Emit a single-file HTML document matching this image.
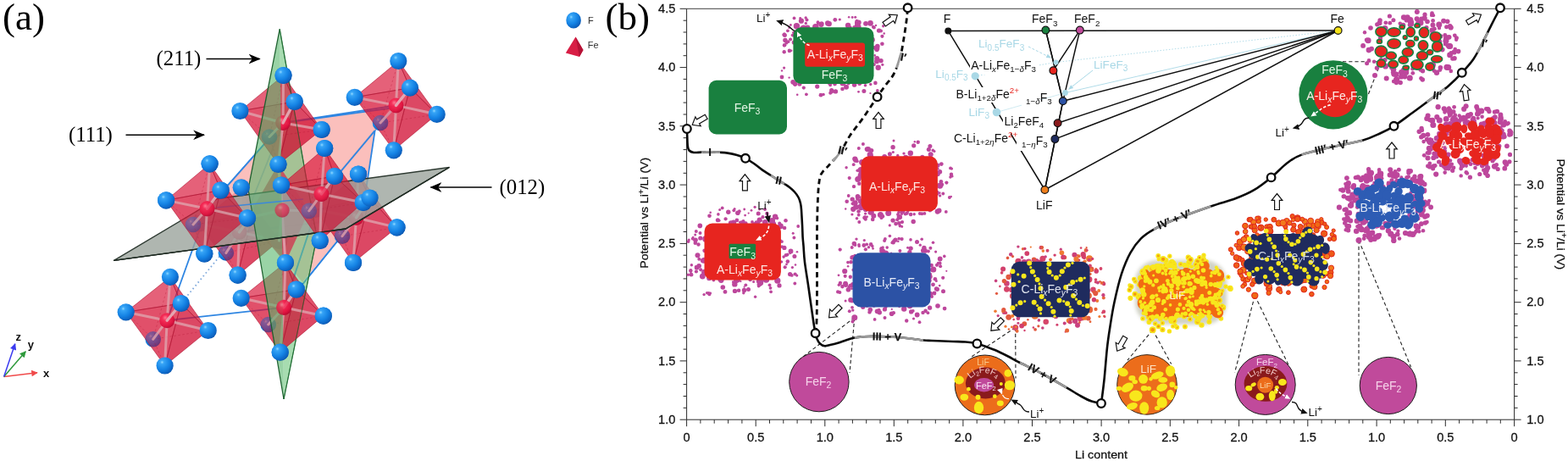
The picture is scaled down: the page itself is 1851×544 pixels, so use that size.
<!DOCTYPE html>
<html lang="en"><head><meta charset="utf-8"><title>FeF3 structure and lithiation</title>
<style>html,body{margin:0;padding:0;background:#fff;}body{width:1851px;height:544px;overflow:hidden;}svg{display:block;}text{font-family:"Liberation Sans",sans-serif;}.sf{font-family:"Liberation Serif",serif;}</style></head><body>
<svg width="1851" height="544" viewBox="0 0 1851 544">
<rect width="1851" height="544" fill="#fff"/>
<defs><radialGradient id="gF" cx="0.34" cy="0.3" r="0.8"><stop offset="0" stop-color="#8fd8ff"/><stop offset="0.14" stop-color="#36a4f6"/><stop offset="0.55" stop-color="#1482e4"/><stop offset="0.85" stop-color="#0d62c0"/><stop offset="1" stop-color="#0a4c9e"/></radialGradient><radialGradient id="gFe" cx="0.38" cy="0.32" r="0.75"><stop offset="0" stop-color="#ff7d96"/><stop offset="0.25" stop-color="#f52a55"/><stop offset="0.7" stop-color="#e1123f"/><stop offset="1" stop-color="#b2062e"/></radialGradient><marker id="ahs" viewBox="0 0 12 10" refX="11" refY="5" markerWidth="14" markerHeight="12" markerUnits="userSpaceOnUse" orient="auto"><path d="M0,0 L12,5 L0,10 L3.5,5 Z" fill="#000"/></marker></defs>
<g stroke="#2f86e2" stroke-width="1.8" fill="none">
<path d="M197.2,378.2 L335.1,362.8"/>
<path d="M197.2,378.2 L244.5,246.3"/>
<path d="M335.1,362.8 L379.5,229.0"/>
<path d="M335.1,362.8 L420.5,257.0"/>
<path d="M244.5,246.3 L379.5,229.0"/>
<path d="M244.5,246.3 L334.1,145.0"/>
<path d="M379.5,229.0 L467.5,124.4"/>
<path d="M334.1,145.0 L467.5,124.4"/>
<path d="M282.5,274.0 L420.5,257.0"/>
<path d="M282.5,274.0 L334.1,145.0"/>
<path d="M197.2,378.2 L282.5,274.0" stroke-dasharray="1.6 3.2" stroke="#7fa9dc"/>
</g>
<polygon points="200.9,326.8 245.7,390.0 194.6,431.5 148.7,368.3" fill="#d61033" fill-opacity="0.46"/>
<circle cx="180.7" cy="400.3" r="9.3" fill="url(#gF)" opacity="1"/>
<polygon points="200.9,326.8 213.8,358.0 148.7,368.3" fill="#dc1f42" fill-opacity="0.42000000000000004" stroke="#a80f2e" stroke-width="0.7" stroke-opacity="0.75" stroke-linejoin="round"/>
<polygon points="200.9,326.8 213.8,358.0 245.7,390.0" fill="#d61033" fill-opacity="0.48000000000000004" stroke="#a80f2e" stroke-width="0.7" stroke-opacity="0.75" stroke-linejoin="round"/>
<polygon points="194.6,431.5 213.8,358.0 148.7,368.3" fill="#d61033" fill-opacity="0.5" stroke="#a80f2e" stroke-width="0.7" stroke-opacity="0.75" stroke-linejoin="round"/>
<polygon points="194.6,431.5 213.8,358.0 245.7,390.0" fill="#cf0c30" fill-opacity="0.54" stroke="#a80f2e" stroke-width="0.7" stroke-opacity="0.75" stroke-linejoin="round"/>
<path d="M180.7,400.3 L200.9,326.8 M180.7,400.3 L148.7,368.3 M180.7,400.3 L245.7,390.0 M180.7,400.3 L194.6,431.5" stroke="#b0102f" stroke-width="0.7" stroke-dasharray="2.5 2.5" opacity="0.45" fill="none"/>
<path d="M197.2,378.2 L200.9,326.8" stroke="#e0a3ad" stroke-width="3.0" stroke-linecap="round" opacity="0.8"/>
<path d="M197.2,378.2 L148.7,368.3" stroke="#e0a3ad" stroke-width="3.0" stroke-linecap="round" opacity="0.8"/>
<path d="M197.2,378.2 L245.7,390.0" stroke="#e0a3ad" stroke-width="3.0" stroke-linecap="round" opacity="0.8"/>
<path d="M197.2,378.2 L194.6,431.5" stroke="#e0a3ad" stroke-width="3.0" stroke-linecap="round" opacity="0.8"/>
<path d="M197.2,378.2 L180.7,400.3" stroke="#e0a3ad" stroke-width="3.0" stroke-linecap="round" opacity="0.8"/>
<circle cx="197.2" cy="378.2" r="9.0" fill="url(#gFe)" opacity="0.95"/>
<path d="M197.2,378.2 L213.8,358.0" stroke="#e6b0ba" stroke-width="3.3" stroke-linecap="round" opacity="0.9"/>
<circle cx="200.9" cy="326.8" r="10.1" fill="url(#gF)" opacity="1"/>
<circle cx="148.7" cy="368.3" r="10.1" fill="url(#gF)" opacity="1"/>
<circle cx="245.7" cy="390.0" r="10.1" fill="url(#gF)" opacity="1"/>
<circle cx="194.6" cy="431.5" r="10.1" fill="url(#gF)" opacity="1"/>
<circle cx="213.8" cy="358.0" r="10.1" fill="url(#gF)" opacity="1"/>
<polygon points="284.8,221.3 329.5,284.0 280.6,324.7 234.0,264.0" fill="#d61033" fill-opacity="0.46"/>
<circle cx="266.9" cy="298.5" r="9.3" fill="url(#gF)" opacity="1"/>
<polygon points="284.8,221.3 298.5,252.0 234.0,264.0" fill="#dc1f42" fill-opacity="0.42000000000000004" stroke="#a80f2e" stroke-width="0.7" stroke-opacity="0.75" stroke-linejoin="round"/>
<polygon points="284.8,221.3 298.5,252.0 329.5,284.0" fill="#d61033" fill-opacity="0.48000000000000004" stroke="#a80f2e" stroke-width="0.7" stroke-opacity="0.75" stroke-linejoin="round"/>
<polygon points="280.6,324.7 298.5,252.0 234.0,264.0" fill="#d61033" fill-opacity="0.5" stroke="#a80f2e" stroke-width="0.7" stroke-opacity="0.75" stroke-linejoin="round"/>
<polygon points="280.6,324.7 298.5,252.0 329.5,284.0" fill="#cf0c30" fill-opacity="0.54" stroke="#a80f2e" stroke-width="0.7" stroke-opacity="0.75" stroke-linejoin="round"/>
<path d="M266.9,298.5 L284.8,221.3 M266.9,298.5 L234.0,264.0 M266.9,298.5 L329.5,284.0 M266.9,298.5 L280.6,324.7" stroke="#b0102f" stroke-width="0.7" stroke-dasharray="2.5 2.5" opacity="0.45" fill="none"/>
<path d="M282.5,274.0 L284.8,221.3" stroke="#e0a3ad" stroke-width="3.0" stroke-linecap="round" opacity="0.8"/>
<path d="M282.5,274.0 L234.0,264.0" stroke="#e0a3ad" stroke-width="3.0" stroke-linecap="round" opacity="0.8"/>
<path d="M282.5,274.0 L329.5,284.0" stroke="#e0a3ad" stroke-width="3.0" stroke-linecap="round" opacity="0.8"/>
<path d="M282.5,274.0 L280.6,324.7" stroke="#e0a3ad" stroke-width="3.0" stroke-linecap="round" opacity="0.8"/>
<path d="M282.5,274.0 L266.9,298.5" stroke="#e0a3ad" stroke-width="3.0" stroke-linecap="round" opacity="0.8"/>
<circle cx="282.5" cy="274.0" r="9.0" fill="url(#gFe)" opacity="0.95"/>
<path d="M282.5,274.0 L298.5,252.0" stroke="#e6b0ba" stroke-width="3.3" stroke-linecap="round" opacity="0.9"/>
<circle cx="284.8" cy="221.3" r="10.1" fill="url(#gF)" opacity="1"/>
<circle cx="234.0" cy="264.0" r="10.1" fill="url(#gF)" opacity="1"/>
<circle cx="329.5" cy="284.0" r="10.1" fill="url(#gF)" opacity="1"/>
<circle cx="280.6" cy="324.7" r="10.1" fill="url(#gF)" opacity="1"/>
<circle cx="298.5" cy="252.0" r="10.1" fill="url(#gF)" opacity="1"/>
<polygon points="262.0,226.0 334.0,145.0 460.0,127.5 443.0,154.0 432.5,221.0 421.0,257.0 394.0,289.0 357.0,333.0 330.0,300.0" fill="#f9aaa6" fill-opacity="0.75"/>
<g stroke="#2f86e2" stroke-width="1.8" fill="none">
<path d="M334.1,145.0 L459.5,127.8"/>
<path d="M442.6,154.2 L385,223"/>
<path d="M442.6,154.2 L432.5,221 L424,250"/>
<path d="M244.5,246.3 L334.1,145.0"/>
<path d="M335.1,362.8 L420.5,257.0"/>
<path d="M335.1,362.8 L379.5,229.0"/>
</g>
<polygon points="423.0,205.5 468.5,268.4 417.0,310.0 372.0,247.0" fill="#d61033" fill-opacity="0.46"/>
<circle cx="404.0" cy="278.7" r="9.3" fill="url(#gF)" opacity="1"/>
<polygon points="423.0,205.5 436.5,233.5 372.0,247.0" fill="#dc1f42" fill-opacity="0.42000000000000004" stroke="#a80f2e" stroke-width="0.7" stroke-opacity="0.75" stroke-linejoin="round"/>
<polygon points="423.0,205.5 436.5,233.5 468.5,268.4" fill="#d61033" fill-opacity="0.48000000000000004" stroke="#a80f2e" stroke-width="0.7" stroke-opacity="0.75" stroke-linejoin="round"/>
<polygon points="417.0,310.0 436.5,233.5 372.0,247.0" fill="#d61033" fill-opacity="0.5" stroke="#a80f2e" stroke-width="0.7" stroke-opacity="0.75" stroke-linejoin="round"/>
<polygon points="417.0,310.0 436.5,233.5 468.5,268.4" fill="#cf0c30" fill-opacity="0.54" stroke="#a80f2e" stroke-width="0.7" stroke-opacity="0.75" stroke-linejoin="round"/>
<path d="M404.0,278.7 L423.0,205.5 M404.0,278.7 L372.0,247.0 M404.0,278.7 L468.5,268.4 M404.0,278.7 L417.0,310.0" stroke="#b0102f" stroke-width="0.7" stroke-dasharray="2.5 2.5" opacity="0.45" fill="none"/>
<path d="M420.5,257.0 L423.0,205.5" stroke="#e0a3ad" stroke-width="3.0" stroke-linecap="round" opacity="0.8"/>
<path d="M420.5,257.0 L372.0,247.0" stroke="#e0a3ad" stroke-width="3.0" stroke-linecap="round" opacity="0.8"/>
<path d="M420.5,257.0 L468.5,268.4" stroke="#e0a3ad" stroke-width="3.0" stroke-linecap="round" opacity="0.8"/>
<path d="M420.5,257.0 L417.0,310.0" stroke="#e0a3ad" stroke-width="3.0" stroke-linecap="round" opacity="0.8"/>
<path d="M420.5,257.0 L404.0,278.7" stroke="#e0a3ad" stroke-width="3.0" stroke-linecap="round" opacity="0.8"/>
<circle cx="420.5" cy="257.0" r="9.0" fill="url(#gFe)" opacity="0.95"/>
<path d="M420.5,257.0 L436.5,233.5" stroke="#e6b0ba" stroke-width="3.3" stroke-linecap="round" opacity="0.9"/>
<circle cx="423.0" cy="205.5" r="10.1" fill="url(#gF)" opacity="1"/>
<circle cx="372.0" cy="247.0" r="10.1" fill="url(#gF)" opacity="1"/>
<circle cx="468.5" cy="268.4" r="10.1" fill="url(#gF)" opacity="1"/>
<circle cx="417.0" cy="310.0" r="10.1" fill="url(#gF)" opacity="1"/>
<circle cx="436.5" cy="233.5" r="10.1" fill="url(#gF)" opacity="1"/>
<polygon points="470.3,72.0 515.7,134.9 464.8,177.3 418.7,114.8" fill="#d61033" fill-opacity="0.46"/>
<circle cx="449.0" cy="145.0" r="9.3" fill="url(#gF)" opacity="1"/>
<polygon points="470.3,72.0 484.0,103.7 418.7,114.8" fill="#dc1f42" fill-opacity="0.42000000000000004" stroke="#a80f2e" stroke-width="0.7" stroke-opacity="0.75" stroke-linejoin="round"/>
<polygon points="470.3,72.0 484.0,103.7 515.7,134.9" fill="#d61033" fill-opacity="0.48000000000000004" stroke="#a80f2e" stroke-width="0.7" stroke-opacity="0.75" stroke-linejoin="round"/>
<polygon points="464.8,177.3 484.0,103.7 418.7,114.8" fill="#d61033" fill-opacity="0.5" stroke="#a80f2e" stroke-width="0.7" stroke-opacity="0.75" stroke-linejoin="round"/>
<polygon points="464.8,177.3 484.0,103.7 515.7,134.9" fill="#cf0c30" fill-opacity="0.54" stroke="#a80f2e" stroke-width="0.7" stroke-opacity="0.75" stroke-linejoin="round"/>
<path d="M449.0,145.0 L470.3,72.0 M449.0,145.0 L418.7,114.8 M449.0,145.0 L515.7,134.9 M449.0,145.0 L464.8,177.3" stroke="#b0102f" stroke-width="0.7" stroke-dasharray="2.5 2.5" opacity="0.45" fill="none"/>
<path d="M467.5,124.4 L470.3,72.0" stroke="#e0a3ad" stroke-width="3.0" stroke-linecap="round" opacity="0.8"/>
<path d="M467.5,124.4 L418.7,114.8" stroke="#e0a3ad" stroke-width="3.0" stroke-linecap="round" opacity="0.8"/>
<path d="M467.5,124.4 L515.7,134.9" stroke="#e0a3ad" stroke-width="3.0" stroke-linecap="round" opacity="0.8"/>
<path d="M467.5,124.4 L464.8,177.3" stroke="#e0a3ad" stroke-width="3.0" stroke-linecap="round" opacity="0.8"/>
<path d="M467.5,124.4 L449.0,145.0" stroke="#e0a3ad" stroke-width="3.0" stroke-linecap="round" opacity="0.8"/>
<circle cx="467.5" cy="124.4" r="9.0" fill="url(#gFe)" opacity="0.95"/>
<path d="M467.5,124.4 L484.0,103.7" stroke="#e6b0ba" stroke-width="3.3" stroke-linecap="round" opacity="0.9"/>
<circle cx="470.3" cy="72.0" r="10.1" fill="url(#gF)" opacity="1"/>
<circle cx="418.7" cy="114.8" r="10.1" fill="url(#gF)" opacity="1"/>
<circle cx="515.7" cy="134.9" r="10.1" fill="url(#gF)" opacity="1"/>
<circle cx="464.8" cy="177.3" r="10.1" fill="url(#gF)" opacity="1"/>
<circle cx="484.0" cy="103.7" r="10.1" fill="url(#gF)" opacity="1"/>
<polygon points="330.2,34.3 374.0,280.0 335.0,471.0" fill="#6cc47c" fill-opacity="0.6"/>
<path d="M330.2,34.3 L374.0,280.0 L335.0,471.0" stroke="#1c6a30" stroke-width="1.2" fill="none" opacity="0.9"/>
<polygon points="334.5,89.0 379.7,153.0 328.5,194.0 283.4,131.0" fill="#d61033" fill-opacity="0.46"/>
<circle cx="318.0" cy="161.5" r="9.3" fill="url(#gF)" opacity="1"/>
<polygon points="334.5,89.0 347.7,120.0 283.4,131.0" fill="#dc1f42" fill-opacity="0.42000000000000004" stroke="#a80f2e" stroke-width="0.7" stroke-opacity="0.75" stroke-linejoin="round"/>
<polygon points="334.5,89.0 347.7,120.0 379.7,153.0" fill="#d61033" fill-opacity="0.48000000000000004" stroke="#a80f2e" stroke-width="0.7" stroke-opacity="0.75" stroke-linejoin="round"/>
<polygon points="328.5,194.0 347.7,120.0 283.4,131.0" fill="#d61033" fill-opacity="0.5" stroke="#a80f2e" stroke-width="0.7" stroke-opacity="0.75" stroke-linejoin="round"/>
<polygon points="328.5,194.0 347.7,120.0 379.7,153.0" fill="#cf0c30" fill-opacity="0.54" stroke="#a80f2e" stroke-width="0.7" stroke-opacity="0.75" stroke-linejoin="round"/>
<path d="M318.0,161.5 L334.5,89.0 M318.0,161.5 L283.4,131.0 M318.0,161.5 L379.7,153.0 M318.0,161.5 L328.5,194.0" stroke="#b0102f" stroke-width="0.7" stroke-dasharray="2.5 2.5" opacity="0.45" fill="none"/>
<path d="M334.1,145.0 L334.5,89.0" stroke="#e0a3ad" stroke-width="3.0" stroke-linecap="round" opacity="0.8"/>
<path d="M334.1,145.0 L283.4,131.0" stroke="#e0a3ad" stroke-width="3.0" stroke-linecap="round" opacity="0.8"/>
<path d="M334.1,145.0 L379.7,153.0" stroke="#e0a3ad" stroke-width="3.0" stroke-linecap="round" opacity="0.8"/>
<path d="M334.1,145.0 L328.5,194.0" stroke="#e0a3ad" stroke-width="3.0" stroke-linecap="round" opacity="0.8"/>
<path d="M334.1,145.0 L318.0,161.5" stroke="#e0a3ad" stroke-width="3.0" stroke-linecap="round" opacity="0.8"/>
<circle cx="334.1" cy="145.0" r="9.0" fill="url(#gFe)" opacity="0.95"/>
<path d="M334.1,145.0 L347.7,120.0" stroke="#e6b0ba" stroke-width="3.3" stroke-linecap="round" opacity="0.9"/>
<circle cx="334.5" cy="89.0" r="10.1" fill="url(#gF)" opacity="1"/>
<circle cx="283.4" cy="131.0" r="10.1" fill="url(#gF)" opacity="1"/>
<circle cx="379.7" cy="153.0" r="10.1" fill="url(#gF)" opacity="1"/>
<circle cx="328.5" cy="194.0" r="10.1" fill="url(#gF)" opacity="1"/>
<circle cx="347.7" cy="120.0" r="10.1" fill="url(#gF)" opacity="1"/>
<polygon points="328.5,194.0 364.8,248.8 336.9,310.0 292.0,257.3" fill="#d62549" fill-opacity="0.7"/>
<path d="M333.0,248.0 L328.5,194.0" stroke="#e3a0ad" stroke-width="3.0" stroke-linecap="round" opacity="0.9"/>
<path d="M333.0,248.0 L292.0,257.3" stroke="#e3a0ad" stroke-width="3.0" stroke-linecap="round" opacity="0.9"/>
<path d="M333.0,248.0 L364.8,248.8" stroke="#e3a0ad" stroke-width="3.0" stroke-linecap="round" opacity="0.9"/>
<path d="M333.0,248.0 L336.9,310.0" stroke="#e3a0ad" stroke-width="3.0" stroke-linecap="round" opacity="0.9"/>
<path d="M333.0,248.0 L332.0,218.5" stroke="#e3a0ad" stroke-width="3.0" stroke-linecap="round" opacity="0.9"/>
<path d="M333.0,248.0 L329.5,284.0" stroke="#e3a0ad" stroke-width="3.0" stroke-linecap="round" opacity="0.9"/>
<circle cx="333.0" cy="248.0" r="9.0" fill="url(#gFe)" opacity="1"/>
<polygon points="336.9,310.0 381.8,372.7 330.7,415.7 284.7,351.8" fill="#d61033" fill-opacity="0.46"/>
<circle cx="316.7" cy="383.0" r="9.3" fill="url(#gF)" opacity="1"/>
<polygon points="336.9,310.0 349.8,341.5 284.7,351.8" fill="#dc1f42" fill-opacity="0.42000000000000004" stroke="#a80f2e" stroke-width="0.7" stroke-opacity="0.75" stroke-linejoin="round"/>
<polygon points="336.9,310.0 349.8,341.5 381.8,372.7" fill="#d61033" fill-opacity="0.48000000000000004" stroke="#a80f2e" stroke-width="0.7" stroke-opacity="0.75" stroke-linejoin="round"/>
<polygon points="330.7,415.7 349.8,341.5 284.7,351.8" fill="#d61033" fill-opacity="0.5" stroke="#a80f2e" stroke-width="0.7" stroke-opacity="0.75" stroke-linejoin="round"/>
<polygon points="330.7,415.7 349.8,341.5 381.8,372.7" fill="#cf0c30" fill-opacity="0.54" stroke="#a80f2e" stroke-width="0.7" stroke-opacity="0.75" stroke-linejoin="round"/>
<path d="M316.7,383.0 L336.9,310.0 M316.7,383.0 L284.7,351.8 M316.7,383.0 L381.8,372.7 M316.7,383.0 L330.7,415.7" stroke="#b0102f" stroke-width="0.7" stroke-dasharray="2.5 2.5" opacity="0.45" fill="none"/>
<path d="M335.1,362.8 L336.9,310.0" stroke="#e0a3ad" stroke-width="3.0" stroke-linecap="round" opacity="0.8"/>
<path d="M335.1,362.8 L284.7,351.8" stroke="#e0a3ad" stroke-width="3.0" stroke-linecap="round" opacity="0.8"/>
<path d="M335.1,362.8 L381.8,372.7" stroke="#e0a3ad" stroke-width="3.0" stroke-linecap="round" opacity="0.8"/>
<path d="M335.1,362.8 L330.7,415.7" stroke="#e0a3ad" stroke-width="3.0" stroke-linecap="round" opacity="0.8"/>
<path d="M335.1,362.8 L316.7,383.0" stroke="#e0a3ad" stroke-width="3.0" stroke-linecap="round" opacity="0.8"/>
<circle cx="335.1" cy="362.8" r="9.0" fill="url(#gFe)" opacity="0.95"/>
<path d="M335.1,362.8 L349.8,341.5" stroke="#e6b0ba" stroke-width="3.3" stroke-linecap="round" opacity="0.9"/>
<circle cx="336.9" cy="310.0" r="10.1" fill="url(#gF)" opacity="1"/>
<circle cx="284.7" cy="351.8" r="10.1" fill="url(#gF)" opacity="1"/>
<circle cx="381.8" cy="372.7" r="10.1" fill="url(#gF)" opacity="1"/>
<circle cx="330.7" cy="415.7" r="10.1" fill="url(#gF)" opacity="1"/>
<circle cx="349.8" cy="341.5" r="10.1" fill="url(#gF)" opacity="1"/>
<polygon points="134.5,307.4 408.0,270.0 530.3,197.5 257.0,234.5" fill="#9ca59e" fill-opacity="0.78" stroke="#1e2a22" stroke-width="1.3" stroke-opacity="0.95" stroke-linejoin="round"/>
<polygon points="330.2,34.3 293.0,223.0 335.0,471.0" fill="#56b56a" fill-opacity="0.6"/>
<path d="M330.2,34.3 L293.0,223.0 L335.0,471.0" stroke="#185c2a" stroke-width="1.3" fill="none" opacity="0.95"/>
<path d="M330.2,34.3 L374.0,280.0 L335.0,471.0" stroke="#1c6a30" stroke-width="1" fill="none" opacity="0.7"/>
<path d="M134.5,307.4 L408.0,270.0 L530.3,197.5" stroke="#1e2a22" stroke-width="1.3" fill="none" opacity="0.9"/>
<g stroke="#2f86e2" stroke-width="1.5" fill="none"><path d="M256,244.9 L358,235"/></g>
<polygon points="247.6,193.3 292.0,257.3 241.3,299.5 196.1,236.4" fill="#d61033" fill-opacity="0.46"/>
<circle cx="228.0" cy="265.0" r="9.3" fill="url(#gF)" opacity="1"/>
<polygon points="247.6,193.3 260.6,224.5 196.1,236.4" fill="#dc1f42" fill-opacity="0.42000000000000004" stroke="#a80f2e" stroke-width="0.7" stroke-opacity="0.75" stroke-linejoin="round"/>
<polygon points="247.6,193.3 260.6,224.5 292.0,257.3" fill="#d61033" fill-opacity="0.48000000000000004" stroke="#a80f2e" stroke-width="0.7" stroke-opacity="0.75" stroke-linejoin="round"/>
<polygon points="241.3,299.5 260.6,224.5 196.1,236.4" fill="#d61033" fill-opacity="0.5" stroke="#a80f2e" stroke-width="0.7" stroke-opacity="0.75" stroke-linejoin="round"/>
<polygon points="241.3,299.5 260.6,224.5 292.0,257.3" fill="#cf0c30" fill-opacity="0.54" stroke="#a80f2e" stroke-width="0.7" stroke-opacity="0.75" stroke-linejoin="round"/>
<path d="M228.0,265.0 L247.6,193.3 M228.0,265.0 L196.1,236.4 M228.0,265.0 L292.0,257.3 M228.0,265.0 L241.3,299.5" stroke="#b0102f" stroke-width="0.7" stroke-dasharray="2.5 2.5" opacity="0.45" fill="none"/>
<path d="M244.5,246.3 L247.6,193.3" stroke="#e0a3ad" stroke-width="3.0" stroke-linecap="round" opacity="0.8"/>
<path d="M244.5,246.3 L196.1,236.4" stroke="#e0a3ad" stroke-width="3.0" stroke-linecap="round" opacity="0.8"/>
<path d="M244.5,246.3 L292.0,257.3" stroke="#e0a3ad" stroke-width="3.0" stroke-linecap="round" opacity="0.8"/>
<path d="M244.5,246.3 L241.3,299.5" stroke="#e0a3ad" stroke-width="3.0" stroke-linecap="round" opacity="0.8"/>
<path d="M244.5,246.3 L228.0,265.0" stroke="#e0a3ad" stroke-width="3.0" stroke-linecap="round" opacity="0.8"/>
<circle cx="244.5" cy="246.3" r="9.0" fill="url(#gFe)" opacity="0.95"/>
<path d="M244.5,246.3 L260.6,224.5" stroke="#e6b0ba" stroke-width="3.3" stroke-linecap="round" opacity="0.9"/>
<circle cx="247.6" cy="193.3" r="10.1" fill="url(#gF)" opacity="1"/>
<circle cx="196.1" cy="236.4" r="10.1" fill="url(#gF)" opacity="1"/>
<circle cx="292.0" cy="257.3" r="10.1" fill="url(#gF)" opacity="1"/>
<circle cx="241.3" cy="299.5" r="10.1" fill="url(#gF)" opacity="1"/>
<circle cx="260.6" cy="224.5" r="10.1" fill="url(#gF)" opacity="1"/>
<polygon points="383.2,175.0 428.8,239.0 377.7,284.0 332.0,218.5" fill="#d61033" fill-opacity="0.46"/>
<circle cx="364.8" cy="248.8" r="9.3" fill="url(#gF)" opacity="1"/>
<polygon points="383.2,175.0 395.0,208.0 332.0,218.5" fill="#dc1f42" fill-opacity="0.42000000000000004" stroke="#a80f2e" stroke-width="0.7" stroke-opacity="0.75" stroke-linejoin="round"/>
<polygon points="383.2,175.0 395.0,208.0 428.8,239.0" fill="#d61033" fill-opacity="0.48000000000000004" stroke="#a80f2e" stroke-width="0.7" stroke-opacity="0.75" stroke-linejoin="round"/>
<polygon points="377.7,284.0 395.0,208.0 332.0,218.5" fill="#d61033" fill-opacity="0.5" stroke="#a80f2e" stroke-width="0.7" stroke-opacity="0.75" stroke-linejoin="round"/>
<polygon points="377.7,284.0 395.0,208.0 428.8,239.0" fill="#cf0c30" fill-opacity="0.54" stroke="#a80f2e" stroke-width="0.7" stroke-opacity="0.75" stroke-linejoin="round"/>
<path d="M364.8,248.8 L383.2,175.0 M364.8,248.8 L332.0,218.5 M364.8,248.8 L428.8,239.0 M364.8,248.8 L377.7,284.0" stroke="#b0102f" stroke-width="0.7" stroke-dasharray="2.5 2.5" opacity="0.45" fill="none"/>
<path d="M379.5,229.0 L383.2,175.0" stroke="#e0a3ad" stroke-width="3.0" stroke-linecap="round" opacity="0.8"/>
<path d="M379.5,229.0 L332.0,218.5" stroke="#e0a3ad" stroke-width="3.0" stroke-linecap="round" opacity="0.8"/>
<path d="M379.5,229.0 L428.8,239.0" stroke="#e0a3ad" stroke-width="3.0" stroke-linecap="round" opacity="0.8"/>
<path d="M379.5,229.0 L377.7,284.0" stroke="#e0a3ad" stroke-width="3.0" stroke-linecap="round" opacity="0.8"/>
<path d="M379.5,229.0 L364.8,248.8" stroke="#e0a3ad" stroke-width="3.0" stroke-linecap="round" opacity="0.8"/>
<circle cx="379.5" cy="229.0" r="9.0" fill="url(#gFe)" opacity="0.95"/>
<path d="M379.5,229.0 L395.0,208.0" stroke="#e6b0ba" stroke-width="3.3" stroke-linecap="round" opacity="0.9"/>
<circle cx="383.2" cy="175.0" r="10.1" fill="url(#gF)" opacity="1"/>
<circle cx="332.0" cy="218.5" r="10.1" fill="url(#gF)" opacity="1"/>
<circle cx="428.8" cy="239.0" r="10.1" fill="url(#gF)" opacity="1"/>
<circle cx="377.7" cy="284.0" r="10.1" fill="url(#gF)" opacity="1"/>
<circle cx="395.0" cy="208.0" r="10.1" fill="url(#gF)" opacity="1"/>
<polygon points="134.5,307.4 408.0,270.0 530.3,197.5 257.0,234.5" fill="#9ca59e" fill-opacity="0.12"/>
<path d="M134.5,307.4 L408.0,270.0 L530.3,197.5" stroke="#1e2a22" stroke-width="1.3" fill="none" opacity="0.85"/>
<circle cx="333.0" cy="248.0" r="8.6" fill="url(#gFe)" opacity="0.6"/>
<circle cx="247.6" cy="193.3" r="10.1" fill="url(#gF)" opacity="1"/>
<circle cx="196.1" cy="236.4" r="10.1" fill="url(#gF)" opacity="1"/>
<circle cx="292.0" cy="257.3" r="10.1" fill="url(#gF)" opacity="1"/>
<circle cx="260.6" cy="224.5" r="10.1" fill="url(#gF)" opacity="1"/>
<circle cx="241.3" cy="299.5" r="10.1" fill="url(#gF)" opacity="1"/>
<circle cx="334.5" cy="89.0" r="10.1" fill="url(#gF)" opacity="1"/>
<circle cx="347.7" cy="120.0" r="10.1" fill="url(#gF)" opacity="1"/>
<circle cx="328.5" cy="194.0" r="10.1" fill="url(#gF)" opacity="1"/>
<circle cx="379.7" cy="153.0" r="10.1" fill="url(#gF)" opacity="1"/>
<circle cx="383.2" cy="175.0" r="10.1" fill="url(#gF)" opacity="1"/>
<circle cx="332.0" cy="218.5" r="10.1" fill="url(#gF)" opacity="1"/>
<circle cx="428.8" cy="239.0" r="10.1" fill="url(#gF)" opacity="1"/>
<circle cx="395.0" cy="208.0" r="10.1" fill="url(#gF)" opacity="1"/>
<circle cx="377.7" cy="284.0" r="10.1" fill="url(#gF)" opacity="1"/>
<circle cx="336.9" cy="310.0" r="10.1" fill="url(#gF)" opacity="1"/>
<circle cx="381.8" cy="372.7" r="10.1" fill="url(#gF)" opacity="1"/>
<circle cx="349.8" cy="341.5" r="10.1" fill="url(#gF)" opacity="1"/>
<circle cx="330.7" cy="415.7" r="10.1" fill="url(#gF)" opacity="1"/>
<circle cx="284.8" cy="221.3" r="10.1" fill="url(#gF)" opacity="1"/>
<circle cx="280.6" cy="324.7" r="10.1" fill="url(#gF)" opacity="1"/>
<circle cx="423.0" cy="205.5" r="10.1" fill="url(#gF)" opacity="1"/>
<circle cx="436.5" cy="233.5" r="10.1" fill="url(#gF)" opacity="1"/>
<circle cx="468.5" cy="268.4" r="10.1" fill="url(#gF)" opacity="1"/>
<circle cx="417.0" cy="310.0" r="10.1" fill="url(#gF)" opacity="1"/>
<circle cx="335.1" cy="362.8" r="9" fill="url(#gFe)" opacity="0.8"/>
<circle cx="379.5" cy="229.0" r="9" fill="url(#gFe)" opacity="0.7"/>
<circle cx="244.5" cy="246.3" r="9" fill="url(#gFe)" opacity="0.7"/>
<g class="sf" font-family="Liberation Serif, serif" fill="#000">
<text transform="translate(3,34.8) scale(1,1.0)" font-size="45" class="sf">(a)</text>
<text transform="translate(714.5,34.8) scale(1,1.0)" font-size="45" class="sf">(b)</text>
<text x="184.5" y="77" font-size="24.8" class="sf">(211)</text>
<text x="81" y="167" font-size="24.8" class="sf">(111)</text>
<text x="589.5" y="229" font-size="24.8" class="sf">(012)</text>
</g>
<g stroke="#000" stroke-width="1.6" fill="none">
<path d="M243.5,69.5 H306.5" marker-end="url(#ahs)"/>
<path d="M148.5,159.3 H241" marker-end="url(#ahs)"/>
<path d="M580.5,221 H508.5" marker-end="url(#ahs)"/>
</g>
<ellipse cx="677.1" cy="23.9" rx="8.8" ry="9.6" fill="url(#gF)"/>
<text x="694" y="28.3" font-size="11" fill="#333">F</text>
<polygon points="679.5,43.5 667.8,62.5 684,67 688.5,59" fill="#d81e45"/>
<polygon points="679.5,43.5 684,67 688.5,59" fill="#b51236"/>
<text x="693.8" y="57.3" font-size="11" fill="#333">Fe</text>
<defs><marker id="axr" viewBox="0 0 10 10" refX="9" refY="5" markerWidth="9" markerHeight="7.5" markerUnits="userSpaceOnUse" orient="auto"><path d="M0,0 L10,5 L0,10 Z" fill="#f04a4a"/></marker><marker id="axg" viewBox="0 0 10 10" refX="9" refY="5" markerWidth="9" markerHeight="7.5" markerUnits="userSpaceOnUse" orient="auto"><path d="M0,0 L10,5 L0,10 Z" fill="#2e9a3c"/></marker><marker id="axb" viewBox="0 0 10 10" refX="9" refY="5" markerWidth="9" markerHeight="7.5" markerUnits="userSpaceOnUse" orient="auto"><path d="M0,0 L10,5 L0,10 Z" fill="#3a3af0"/></marker></defs>
<path d="M4.6,444.4 L44,439.8" stroke="#f04a4a" stroke-width="1.5" marker-end="url(#axr)"/>
<path d="M4.6,444.4 L30.3,414.7" stroke="#2e9a3c" stroke-width="1.5" marker-end="url(#axg)"/>
<path d="M4.6,444.4 L17.8,405.8" stroke="#3a3af0" stroke-width="1.5" marker-end="url(#axb)"/>
<g font-weight="bold" font-size="13" fill="#111"><text x="18.5" y="401.5">z</text><text x="32.8" y="411">y</text><text x="51" y="445">x</text></g>
<g stroke="#2a2a2a" stroke-width="1" fill="none">
<path d="M810.6,10.3 V495.2 H1787.6 V10.3"/>
<path d="M810.6,10.3 H1787.6" stroke-width="0.9"/>
<path d="M802.6,495.2 H810.6"/>
<path d="M1787.6,495.2 h8"/>
<path d="M806.6,481.3 H810.6"/>
<path d="M1787.6,481.3 h4"/>
<path d="M806.6,467.5 H810.6"/>
<path d="M1787.6,467.5 h4"/>
<path d="M806.6,453.6 H810.6"/>
<path d="M1787.6,453.6 h4"/>
<path d="M806.6,439.8 H810.6"/>
<path d="M1787.6,439.8 h4"/>
<path d="M802.6,425.9 H810.6"/>
<path d="M1787.6,425.9 h8"/>
<path d="M806.6,412.1 H810.6"/>
<path d="M1787.6,412.1 h4"/>
<path d="M806.6,398.2 H810.6"/>
<path d="M1787.6,398.2 h4"/>
<path d="M806.6,384.4 H810.6"/>
<path d="M1787.6,384.4 h4"/>
<path d="M806.6,370.5 H810.6"/>
<path d="M1787.6,370.5 h4"/>
<path d="M802.6,356.7 H810.6"/>
<path d="M1787.6,356.7 h8"/>
<path d="M806.6,342.8 H810.6"/>
<path d="M1787.6,342.8 h4"/>
<path d="M806.6,328.9 H810.6"/>
<path d="M1787.6,328.9 h4"/>
<path d="M806.6,315.1 H810.6"/>
<path d="M1787.6,315.1 h4"/>
<path d="M806.6,301.2 H810.6"/>
<path d="M1787.6,301.2 h4"/>
<path d="M802.6,287.4 H810.6"/>
<path d="M1787.6,287.4 h8"/>
<path d="M806.6,273.5 H810.6"/>
<path d="M1787.6,273.5 h4"/>
<path d="M806.6,259.7 H810.6"/>
<path d="M1787.6,259.7 h4"/>
<path d="M806.6,245.8 H810.6"/>
<path d="M1787.6,245.8 h4"/>
<path d="M806.6,232.0 H810.6"/>
<path d="M1787.6,232.0 h4"/>
<path d="M802.6,218.1 H810.6"/>
<path d="M1787.6,218.1 h8"/>
<path d="M806.6,204.3 H810.6"/>
<path d="M1787.6,204.3 h4"/>
<path d="M806.6,190.4 H810.6"/>
<path d="M1787.6,190.4 h4"/>
<path d="M806.6,176.6 H810.6"/>
<path d="M1787.6,176.6 h4"/>
<path d="M806.6,162.7 H810.6"/>
<path d="M1787.6,162.7 h4"/>
<path d="M802.6,148.8 H810.6"/>
<path d="M1787.6,148.8 h8"/>
<path d="M806.6,135.0 H810.6"/>
<path d="M1787.6,135.0 h4"/>
<path d="M806.6,121.1 H810.6"/>
<path d="M1787.6,121.1 h4"/>
<path d="M806.6,107.3 H810.6"/>
<path d="M1787.6,107.3 h4"/>
<path d="M806.6,93.4 H810.6"/>
<path d="M1787.6,93.4 h4"/>
<path d="M802.6,79.6 H810.6"/>
<path d="M1787.6,79.6 h8"/>
<path d="M806.6,65.7 H810.6"/>
<path d="M1787.6,65.7 h4"/>
<path d="M806.6,51.9 H810.6"/>
<path d="M1787.6,51.9 h4"/>
<path d="M806.6,38.0 H810.6"/>
<path d="M1787.6,38.0 h4"/>
<path d="M806.6,24.2 H810.6"/>
<path d="M1787.6,24.2 h4"/>
<path d="M802.6,10.3 H810.6"/>
<path d="M1787.6,10.3 h8"/>
<path d="M810.6,495.2 v8"/>
<path d="M1787.6,495.2 v8"/>
<path d="M826.9,495.2 v4.5"/>
<path d="M1771.3,495.2 v4.5"/>
<path d="M843.2,495.2 v4.5"/>
<path d="M1755.1,495.2 v4.5"/>
<path d="M859.6,495.2 v4.5"/>
<path d="M1738.8,495.2 v4.5"/>
<path d="M875.9,495.2 v4.5"/>
<path d="M1722.6,495.2 v4.5"/>
<path d="M892.2,495.2 v8"/>
<path d="M1706.3,495.2 v8"/>
<path d="M908.5,495.2 v4.5"/>
<path d="M1690.1,495.2 v4.5"/>
<path d="M924.8,495.2 v4.5"/>
<path d="M1673.8,495.2 v4.5"/>
<path d="M941.1,495.2 v4.5"/>
<path d="M1657.6,495.2 v4.5"/>
<path d="M957.5,495.2 v4.5"/>
<path d="M1641.3,495.2 v4.5"/>
<path d="M973.8,495.2 v8"/>
<path d="M1625.1,495.2 v8"/>
<path d="M990.1,495.2 v4.5"/>
<path d="M1608.8,495.2 v4.5"/>
<path d="M1006.4,495.2 v4.5"/>
<path d="M1592.6,495.2 v4.5"/>
<path d="M1022.7,495.2 v4.5"/>
<path d="M1576.3,495.2 v4.5"/>
<path d="M1039.0,495.2 v4.5"/>
<path d="M1560.1,495.2 v4.5"/>
<path d="M1055.3,495.2 v8"/>
<path d="M1543.8,495.2 v8"/>
<path d="M1071.7,495.2 v4.5"/>
<path d="M1527.6,495.2 v4.5"/>
<path d="M1088.0,495.2 v4.5"/>
<path d="M1511.3,495.2 v4.5"/>
<path d="M1104.3,495.2 v4.5"/>
<path d="M1495.1,495.2 v4.5"/>
<path d="M1120.6,495.2 v4.5"/>
<path d="M1478.8,495.2 v4.5"/>
<path d="M1136.9,495.2 v8"/>
<path d="M1462.6,495.2 v8"/>
<path d="M1153.2,495.2 v4.5"/>
<path d="M1446.3,495.2 v4.5"/>
<path d="M1169.6,495.2 v4.5"/>
<path d="M1430.1,495.2 v4.5"/>
<path d="M1185.9,495.2 v4.5"/>
<path d="M1413.8,495.2 v4.5"/>
<path d="M1202.2,495.2 v4.5"/>
<path d="M1397.6,495.2 v4.5"/>
<path d="M1218.5,495.2 v8"/>
<path d="M1381.3,495.2 v8"/>
<path d="M1234.8,495.2 v4.5"/>
<path d="M1365.1,495.2 v4.5"/>
<path d="M1251.2,495.2 v4.5"/>
<path d="M1348.8,495.2 v4.5"/>
<path d="M1267.5,495.2 v4.5"/>
<path d="M1332.6,495.2 v4.5"/>
<path d="M1283.8,495.2 v4.5"/>
<path d="M1316.3,495.2 v4.5"/>
<path d="M1300.1,495.2 v8"/>
</g>
<g font-size="13.8" fill="#111" stroke="#111" stroke-width="0.25">
<text transform="translate(797.4,499.9) scale(1.06,1)" text-anchor="end">1.0</text>
<text transform="translate(1802.1999999999998,499.9) scale(1.06,1)">1.0</text>
<text transform="translate(797.4,430.6) scale(1.06,1)" text-anchor="end">1.5</text>
<text transform="translate(1802.1999999999998,430.6) scale(1.06,1)">1.5</text>
<text transform="translate(797.4,361.4) scale(1.06,1)" text-anchor="end">2.0</text>
<text transform="translate(1802.1999999999998,361.4) scale(1.06,1)">2.0</text>
<text transform="translate(797.4,292.1) scale(1.06,1)" text-anchor="end">2.5</text>
<text transform="translate(1802.1999999999998,292.1) scale(1.06,1)">2.5</text>
<text transform="translate(797.4,222.8) scale(1.06,1)" text-anchor="end">3.0</text>
<text transform="translate(1802.1999999999998,222.8) scale(1.06,1)">3.0</text>
<text transform="translate(797.4,153.5) scale(1.06,1)" text-anchor="end">3.5</text>
<text transform="translate(1802.1999999999998,153.5) scale(1.06,1)">3.5</text>
<text transform="translate(797.4,84.3) scale(1.06,1)" text-anchor="end">4.0</text>
<text transform="translate(1802.1999999999998,84.3) scale(1.06,1)">4.0</text>
<text transform="translate(797.4,15.0) scale(1.06,1)" text-anchor="end">4.5</text>
<text transform="translate(1802.1999999999998,15.0) scale(1.06,1)">4.5</text>
<text transform="translate(810.6,520.8) scale(1.06,1)" text-anchor="middle">0</text>
<text transform="translate(1787.6,520.8) scale(1.06,1)" text-anchor="middle">0</text>
<text transform="translate(892.2,520.8) scale(1.06,1)" text-anchor="middle">0.5</text>
<text transform="translate(1706.3,520.8) scale(1.06,1)" text-anchor="middle">0.5</text>
<text transform="translate(973.8,520.8) scale(1.06,1)" text-anchor="middle">1.0</text>
<text transform="translate(1625.1,520.8) scale(1.06,1)" text-anchor="middle">1.0</text>
<text transform="translate(1055.3,520.8) scale(1.06,1)" text-anchor="middle">1.5</text>
<text transform="translate(1543.8,520.8) scale(1.06,1)" text-anchor="middle">1.5</text>
<text transform="translate(1136.9,520.8) scale(1.06,1)" text-anchor="middle">2.0</text>
<text transform="translate(1462.6,520.8) scale(1.06,1)" text-anchor="middle">2.0</text>
<text transform="translate(1218.5,520.8) scale(1.06,1)" text-anchor="middle">2.5</text>
<text transform="translate(1381.3,520.8) scale(1.06,1)" text-anchor="middle">2.5</text>
<text transform="translate(1300.1,520.8) scale(1.06,1)" text-anchor="middle">3.0</text>
<text transform="translate(1300,541.4) scale(1.07,1)" text-anchor="middle" font-size="13.4">Li content</text>
<text transform="translate(764.8,251.3) rotate(-90) scale(1.05,1)" text-anchor="middle" font-size="13.4">Potential vs Li<tspan font-size="9.6" dy="-5">+</tspan><tspan dy="5">/Li (V)</tspan></text>
<text transform="translate(1837.6,252.8) rotate(90) scale(1.05,1)" text-anchor="middle" font-size="13.4">Potential vs Li<tspan font-size="9.6" dy="-5">+</tspan><tspan dy="5">/Li (V)</tspan></text>
</g>
<g stroke="#a9d8e6" stroke-width="1" fill="none" opacity="0.9">
<path d="M1579.6,36 L1246.5,73.5" stroke-dasharray="1.5 2"/>
<path d="M1579.6,36 L1257.5,109.5"/>
<path d="M1151.2,89.8 L1246.5,73.5" stroke-dasharray="1.5 2"/>
<path d="M1176.5,132.5 L1257.5,109.5" opacity="0.6"/>
</g>
<g stroke="#111" stroke-width="1.5" fill="none" stroke-linecap="round">
<path d="M1119.3,36.4 L1579.6,36"/>
<path d="M1119.3,36.4 L1233.4,224"/>
<path d="M1234.4,35.6 L1254.8,119.3"/>
<path d="M1254.8,119.3 L1233.4,224"/>
<path d="M1274.8,35.6 L1243.4,83.2"/>
<path d="M1274.8,35.6 L1254.8,119.3"/>
<path d="M1579.6,36 L1254.8,119.3"/>
<path d="M1579.6,36 L1248.6,145.3"/>
<path d="M1579.6,36 L1245.4,164.1"/>
<path d="M1579.6,36 L1233.4,224"/>
</g>
<rect x="1145" y="70" width="82" height="18" fill="#fff"/>
<rect x="1127" y="103" width="66" height="18" fill="#fff"/>
<rect x="1184" y="136" width="52" height="18" fill="#fff"/>
<rect x="1125" y="154" width="68" height="19" fill="#fff"/>
<rect x="1206" y="118" width="34" height="10" fill="#fff"/>
<rect x="1200" y="168" width="36" height="10" fill="#fff"/>
<g stroke="#111" stroke-width="1.5" fill="none" stroke-linecap="round">
<path d="M1234.4,35.6 L1254.8,119.3"/>
<path d="M1254.8,119.3 L1233.4,224"/>
</g>
<circle cx="1151.2" cy="89.8" r="4.6" fill="#a9d8e6"/>
<circle cx="1176.5" cy="132.5" r="4.8" fill="#a9d8e6"/>
<circle cx="1246.5" cy="73.5" r="3" fill="#a9d8e6"/>
<circle cx="1257.5" cy="109.5" r="3.4" fill="#a9d8e6"/>
<defs><marker id="ahb" viewBox="0 0 10 10" refX="8" refY="5" markerWidth="6" markerHeight="6" orient="auto"><path d="M0,1 L10,5 L0,9 Z" fill="#a9d8e6"/></marker></defs>
<path d="M1214,55 L1240,68" stroke="#a9d8e6" stroke-width="1" stroke-dasharray="3 2" fill="none" marker-end="url(#ahb)"/>
<path d="M1290,83 L1262,105" stroke="#a9d8e6" stroke-width="1" fill="none" marker-end="url(#ahb)"/>
<g fill="#a9d8e6" font-size="13.6">
<text x="1155" y="56.3">Li<tspan font-size="10" dy="3.3">0.5</tspan><tspan dy="-3.3">FeF</tspan><tspan font-size="10" dy="3.3">3</tspan></text>
<text x="1104.3" y="91.6">Li<tspan font-size="10" dy="3.3">0.5</tspan><tspan dy="-3.3">F</tspan><tspan font-size="10" dy="3.3">3</tspan></text>
<text x="1143.5" y="136.5">LiF<tspan font-size="10" dy="3.3">3</tspan></text>
<text x="1291" y="81">LiFeF<tspan font-size="10" dy="3.3">3</tspan></text>
</g>
<circle cx="1119.3" cy="36.4" r="3.4" fill="#111" stroke="#111" stroke-width="1.2"/>
<circle cx="1234.4" cy="35.6" r="4.4" fill="#19803f" stroke="#111" stroke-width="1.2"/>
<circle cx="1274.8" cy="35.6" r="4.4" fill="#c04a9b" stroke="#111" stroke-width="1.2"/>
<circle cx="1579.6" cy="36" r="4.4" fill="#f4e21a" stroke="#111" stroke-width="1.2"/>
<circle cx="1233.4" cy="224" r="4.4" fill="#f07f1c" stroke="#111" stroke-width="1.2"/>
<circle cx="1243.4" cy="83.2" r="4.4" fill="#e7251f" stroke="#111" stroke-width="1.2"/>
<circle cx="1254.8" cy="119.3" r="4.4" fill="#2c52a5" stroke="#111" stroke-width="1.2"/>
<circle cx="1248.6" cy="145.3" r="4.4" fill="#8a1a1c" stroke="#111" stroke-width="1.2"/>
<circle cx="1245.4" cy="164.1" r="4.4" fill="#1f2b5e" stroke="#111" stroke-width="1.2"/>
<g fill="#111" font-size="14">
<text x="1113.8" y="27.2">F</text>
<text x="1218" y="27.2">FeF<tspan font-size="9.8" dy="3.3">3</tspan></text>
<text x="1268" y="27.2">FeF<tspan font-size="9.8" dy="3.3">2</tspan></text>
<text x="1570.5" y="27.2">Fe</text>
<text x="1223" y="246.5">LiF</text>
<text x="1146.2" y="81.8">A-Li<tspan font-size="9.8" dy="3.3" font-style="italic">x</tspan><tspan dy="-3.3">Fe</tspan><tspan font-size="9.8" dy="3.3">1−<tspan font-style="italic">δ</tspan></tspan><tspan dy="-3.3">F</tspan><tspan font-size="9.8" dy="3.3">3</tspan></text>
<text x="1128.5" y="115.8">B-Li<tspan font-size="9.8" dy="3.3">1+2<tspan font-style="italic">δ</tspan></tspan><tspan dy="-3.3">Fe</tspan><tspan font-size="9.8" dy="-5.5" fill="#e7251f">2+</tspan></text>
<text x="1211" y="123.2" font-size="9.8">1−<tspan font-style="italic">δ</tspan><tspan font-size="14" dy="-3.3">F</tspan><tspan dy="3.3">3</tspan></text>
<text x="1185.5" y="148">Li<tspan font-size="9.8" dy="3.3">2</tspan><tspan dy="-3.3">FeF</tspan><tspan font-size="9.8" dy="3.3">4</tspan></text>
<text x="1126" y="167.5">C-Li<tspan font-size="9.8" dy="3.3">1+2<tspan font-style="italic">η</tspan></tspan><tspan dy="-3.3">Fe</tspan><tspan font-size="9.8" dy="-5.5" fill="#e7251f">2+</tspan></text>
<text x="1206" y="174" font-size="9.8">1−<tspan font-style="italic">η</tspan><tspan font-size="14" dy="-3.3">F</tspan><tspan dy="3.3">3</tspan></text>
</g>
<defs><marker id="ahk" viewBox="0 0 10 10" refX="7" refY="5" markerWidth="5.5" markerHeight="5.5" orient="auto-start-reverse"><path d="M0,0.5 L10,5 L0,9.5 Z" fill="#111"/></marker><marker id="ahw" viewBox="0 0 10 10" refX="6" refY="5" markerWidth="4.2" markerHeight="4.2" orient="auto-start-reverse"><path d="M0,0.5 L10,5 L0,9.5 Z" fill="#fff"/></marker><filter id="blur2" x="-20%" y="-20%" width="140%" height="140%"><feGaussianBlur stdDeviation="2.2"/></filter></defs>
<path d="M1008.8,374.7 L944,424" stroke="#222" stroke-width="1.1" stroke-dasharray="4.2 3" fill="none"/>
<path d="M1008.8,374.7 L1003,440" stroke="#222" stroke-width="1.1" stroke-dasharray="4.2 3" fill="none"/>
<path d="M1198.7,386.5 L1146.4,421.2" stroke="#222" stroke-width="1.1" stroke-dasharray="4.2 3" fill="none"/>
<path d="M1198.7,386.5 L1199,446.5" stroke="#222" stroke-width="1.1" stroke-dasharray="4.2 3" fill="none"/>
<path d="M1360.7,389.3 L1330.9,425.2" stroke="#222" stroke-width="1.1" stroke-dasharray="4.2 3" fill="none"/>
<path d="M1360.7,389.3 L1382.7,429.6" stroke="#222" stroke-width="1.1" stroke-dasharray="4.2 3" fill="none"/>
<path d="M1481.3,348.8 L1457.6,439.6" stroke="#222" stroke-width="1.1" stroke-dasharray="4.2 3" fill="none"/>
<path d="M1481.3,348.8 L1521.6,431.8" stroke="#222" stroke-width="1.1" stroke-dasharray="4.2 3" fill="none"/>
<path d="M1604,283.5 L1604,442.8" stroke="#222" stroke-width="1.1" stroke-dasharray="4.2 3" fill="none"/>
<path d="M1604,283.5 L1665.5,433" stroke="#222" stroke-width="1.1" stroke-dasharray="4.2 3" fill="none"/>
<path d="M1585,72.7 L1630,72.7" stroke="#222" stroke-width="1.1" stroke-dasharray="4.2 3" fill="none"/>
<path d="M1630,73.5 L1614.7,112.9" stroke="#222" stroke-width="1.1" stroke-dasharray="4.2 3" fill="none"/>
<circle cx="1008.8" cy="374.7" r="3.5" fill="#bd479c"/>
<circle cx="1198.7" cy="386.5" r="3.5" fill="#d4476a"/>
<circle cx="1604" cy="283.5" r="3.5" fill="#bd479c"/>
<rect x="836.6" y="94.8" width="92.4" height="63.6" rx="9" fill="#19803f"/>
<text x="882" y="131.5" font-size="14" fill="#e2f4e3" text-anchor="middle">FeF<tspan font-size="10.4" dy="3.4">3</tspan></text>
<circle cx="1030.7" cy="47.6" r="1.6" fill="#bd479c"/>
<circle cx="951.3" cy="27.5" r="1.7" fill="#bd479c"/>
<circle cx="936.2" cy="96.8" r="2.9" fill="#bd479c"/>
<circle cx="938.7" cy="48.7" r="1.2" fill="#bd479c"/>
<circle cx="1042.7" cy="30.8" r="1.7" fill="#bd479c"/>
<circle cx="953.2" cy="32.6" r="3.2" fill="#bd479c"/>
<circle cx="1037.6" cy="36.1" r="2.7" fill="#bd479c"/>
<circle cx="999.0" cy="102.8" r="3.0" fill="#bd479c"/>
<circle cx="936.8" cy="38.6" r="1.8" fill="#bd479c"/>
<circle cx="948.8" cy="103.6" r="2.1" fill="#bd479c"/>
<circle cx="994.5" cy="105.0" r="2.3" fill="#bd479c"/>
<circle cx="945.9" cy="24.7" r="3.1" fill="#bd479c"/>
<circle cx="1034.0" cy="30.0" r="1.2" fill="#bd479c"/>
<circle cx="943.9" cy="99.2" r="2.5" fill="#bd479c"/>
<circle cx="969.4" cy="28.7" r="3.2" fill="#bd479c"/>
<circle cx="1032.7" cy="65.4" r="1.3" fill="#bd479c"/>
<circle cx="1008.2" cy="31.6" r="1.7" fill="#bd479c"/>
<circle cx="1035.8" cy="54.6" r="2.8" fill="#bd479c"/>
<circle cx="986.4" cy="107.9" r="2.7" fill="#bd479c"/>
<circle cx="1035.6" cy="59.0" r="1.2" fill="#bd479c"/>
<circle cx="1004.1" cy="32.0" r="1.5" fill="#bd479c"/>
<circle cx="944.7" cy="21.3" r="1.4" fill="#bd479c"/>
<circle cx="1035.1" cy="58.8" r="2.5" fill="#bd479c"/>
<circle cx="951.4" cy="32.6" r="2.3" fill="#bd479c"/>
<circle cx="985.9" cy="35.1" r="1.6" fill="#bd479c"/>
<circle cx="925.9" cy="39.8" r="1.6" fill="#bd479c"/>
<circle cx="991.3" cy="23.0" r="1.6" fill="#bd479c"/>
<circle cx="926.4" cy="41.6" r="2.5" fill="#bd479c"/>
<circle cx="1010.9" cy="27.0" r="2.0" fill="#bd479c"/>
<circle cx="969.0" cy="112.2" r="2.4" fill="#bd479c"/>
<circle cx="933.1" cy="46.4" r="2.0" fill="#bd479c"/>
<circle cx="925.7" cy="61.3" r="2.2" fill="#bd479c"/>
<circle cx="965.5" cy="26.2" r="1.9" fill="#bd479c"/>
<circle cx="1040.0" cy="36.6" r="2.0" fill="#bd479c"/>
<circle cx="926.9" cy="47.5" r="2.7" fill="#bd479c"/>
<circle cx="985.8" cy="23.3" r="2.4" fill="#bd479c"/>
<circle cx="1008.6" cy="99.9" r="2.8" fill="#bd479c"/>
<circle cx="1041.8" cy="76.3" r="1.6" fill="#bd479c"/>
<circle cx="1030.9" cy="31.8" r="2.0" fill="#bd479c"/>
<circle cx="1035.1" cy="56.9" r="3.3" fill="#bd479c"/>
<circle cx="931.9" cy="59.9" r="2.3" fill="#bd479c"/>
<circle cx="937.5" cy="21.4" r="1.9" fill="#bd479c"/>
<circle cx="1021.5" cy="100.8" r="1.8" fill="#bd479c"/>
<circle cx="1013.8" cy="31.9" r="2.8" fill="#bd479c"/>
<circle cx="951.9" cy="111.3" r="1.9" fill="#bd479c"/>
<circle cx="1036.7" cy="79.7" r="3.2" fill="#bd479c"/>
<circle cx="923.0" cy="83.4" r="1.2" fill="#bd479c"/>
<circle cx="1031.2" cy="75.9" r="1.9" fill="#bd479c"/>
<circle cx="941.2" cy="111.8" r="1.3" fill="#bd479c"/>
<circle cx="937.3" cy="50.0" r="2.6" fill="#bd479c"/>
<circle cx="924.9" cy="41.0" r="1.7" fill="#bd479c"/>
<circle cx="1041.4" cy="42.8" r="2.1" fill="#bd479c"/>
<circle cx="940.4" cy="30.7" r="3.7" fill="#bd479c"/>
<circle cx="936.5" cy="41.6" r="1.8" fill="#bd479c"/>
<circle cx="1031.8" cy="32.6" r="2.0" fill="#bd479c"/>
<circle cx="1013.5" cy="108.3" r="1.4" fill="#bd479c"/>
<circle cx="1029.1" cy="68.9" r="2.0" fill="#bd479c"/>
<circle cx="951.2" cy="21.0" r="1.7" fill="#bd479c"/>
<circle cx="934.2" cy="59.7" r="1.2" fill="#bd479c"/>
<circle cx="1001.1" cy="30.0" r="3.2" fill="#bd479c"/>
<circle cx="1027.7" cy="99.5" r="1.7" fill="#bd479c"/>
<circle cx="1014.5" cy="99.2" r="1.9" fill="#bd479c"/>
<circle cx="1035.0" cy="72.4" r="2.9" fill="#bd479c"/>
<circle cx="1041.4" cy="51.8" r="2.3" fill="#bd479c"/>
<circle cx="1031.4" cy="57.1" r="1.2" fill="#bd479c"/>
<circle cx="925.6" cy="80.1" r="1.6" fill="#bd479c"/>
<circle cx="1027.5" cy="27.4" r="3.3" fill="#bd479c"/>
<circle cx="1015.0" cy="98.4" r="2.4" fill="#bd479c"/>
<circle cx="933.4" cy="29.5" r="1.4" fill="#bd479c"/>
<circle cx="965.4" cy="28.0" r="1.5" fill="#bd479c"/>
<circle cx="1011.8" cy="26.4" r="2.7" fill="#bd479c"/>
<circle cx="1031.9" cy="55.9" r="2.0" fill="#bd479c"/>
<circle cx="979.7" cy="96.7" r="3.5" fill="#bd479c"/>
<circle cx="977.1" cy="27.4" r="3.1" fill="#bd479c"/>
<circle cx="931.6" cy="91.6" r="1.2" fill="#bd479c"/>
<circle cx="1029.7" cy="46.9" r="3.1" fill="#bd479c"/>
<circle cx="981.7" cy="106.7" r="2.6" fill="#bd479c"/>
<circle cx="1019.9" cy="107.6" r="2.5" fill="#bd479c"/>
<circle cx="962.8" cy="31.9" r="3.8" fill="#bd479c"/>
<circle cx="1035.2" cy="68.9" r="3.0" fill="#bd479c"/>
<circle cx="985.5" cy="99.0" r="2.4" fill="#bd479c"/>
<circle cx="948.7" cy="32.8" r="3.2" fill="#bd479c"/>
<circle cx="980.1" cy="100.4" r="1.9" fill="#bd479c"/>
<circle cx="1002.1" cy="20.2" r="1.2" fill="#bd479c"/>
<circle cx="923.0" cy="91.0" r="2.4" fill="#bd479c"/>
<circle cx="1001.7" cy="98.5" r="1.9" fill="#bd479c"/>
<circle cx="1027.4" cy="110.0" r="1.1" fill="#bd479c"/>
<circle cx="1035.8" cy="106.9" r="1.8" fill="#bd479c"/>
<circle cx="1043.7" cy="39.5" r="1.3" fill="#bd479c"/>
<circle cx="972.1" cy="111.5" r="1.7" fill="#bd479c"/>
<circle cx="929.9" cy="36.3" r="1.9" fill="#bd479c"/>
<circle cx="1013.6" cy="26.6" r="3.1" fill="#bd479c"/>
<circle cx="980.2" cy="109.8" r="2.0" fill="#bd479c"/>
<circle cx="952.5" cy="23.5" r="2.0" fill="#bd479c"/>
<circle cx="970.4" cy="27.7" r="2.1" fill="#bd479c"/>
<circle cx="935.9" cy="42.0" r="1.3" fill="#bd479c"/>
<circle cx="1009.7" cy="20.3" r="1.5" fill="#bd479c"/>
<circle cx="931.6" cy="32.7" r="1.3" fill="#bd479c"/>
<circle cx="1022.0" cy="27.8" r="2.9" fill="#bd479c"/>
<circle cx="1036.8" cy="70.2" r="2.0" fill="#bd479c"/>
<circle cx="978.7" cy="28.1" r="3.2" fill="#bd479c"/>
<circle cx="1012.4" cy="31.1" r="3.5" fill="#bd479c"/>
<circle cx="947.6" cy="34.3" r="3.9" fill="#bd479c"/>
<circle cx="994.9" cy="97.8" r="3.7" fill="#bd479c"/>
<circle cx="1012.7" cy="32.0" r="2.8" fill="#bd479c"/>
<circle cx="928.4" cy="50.7" r="1.9" fill="#bd479c"/>
<circle cx="1006.2" cy="20.5" r="1.4" fill="#bd479c"/>
<circle cx="981.9" cy="108.2" r="2.2" fill="#bd479c"/>
<circle cx="1011.4" cy="24.6" r="1.9" fill="#bd479c"/>
<circle cx="930.5" cy="49.2" r="1.9" fill="#bd479c"/>
<circle cx="964.7" cy="102.1" r="2.6" fill="#bd479c"/>
<circle cx="1032.0" cy="76.3" r="1.8" fill="#bd479c"/>
<circle cx="1040.1" cy="71.7" r="2.6" fill="#bd479c"/>
<circle cx="1033.4" cy="97.9" r="2.3" fill="#bd479c"/>
<circle cx="938.6" cy="99.1" r="2.8" fill="#bd479c"/>
<circle cx="1011.3" cy="29.6" r="2.4" fill="#bd479c"/>
<circle cx="935.5" cy="41.6" r="1.8" fill="#bd479c"/>
<circle cx="925.6" cy="53.7" r="1.7" fill="#bd479c"/>
<circle cx="926.1" cy="53.2" r="2.3" fill="#bd479c"/>
<rect x="936.4" y="32.3" width="95.1" height="66.7" rx="9.5" fill="#19803f"/>
<rect x="950.2" y="50.5" width="70.8" height="28.3" rx="3" fill="#e7251f"/>
<text x="985.8" y="68.6" font-size="14" fill="#fde6e1" text-anchor="middle" >A-Li<tspan font-size="10.4" dy="3.4" font-style="italic">x</tspan><tspan dy="-3.4">Fe</tspan><tspan font-size="10.4" dy="3.4" font-style="italic">y</tspan><tspan dy="-3.4">F</tspan><tspan font-size="10.4" dy="3.4">3</tspan></text>
<text x="985" y="92.6" font-size="14" fill="#e2f4e3" text-anchor="middle">FeF<tspan font-size="10.4" dy="3.4">3</tspan></text>
<path d="M938.6,36.6 C934,35 933.5,32 930,30.5 C927,29 926,27.5 918.5,25" stroke="#111" stroke-width="1.5" fill="none" marker-end="url(#ahk)"/>
<path d="M955.6,53.5 C949,52 945,46 942,39.5" stroke="#fff" stroke-width="1.5" stroke-dasharray="3.5 2.2" fill="none" marker-end="url(#ahw)"/>
<text x="893" y="26.3" font-size="13.5" fill="#111" text-anchor="start">Li<tspan font-size="10.0" dy="-5">+</tspan></text>
<circle cx="1110.9" cy="214.2" r="2.3" fill="#bd479c"/>
<circle cx="1055.0" cy="166.1" r="1.5" fill="#bd479c"/>
<circle cx="1010.3" cy="244.4" r="3.2" fill="#bd479c"/>
<circle cx="1123.9" cy="207.9" r="1.7" fill="#bd479c"/>
<circle cx="1013.6" cy="249.5" r="2.3" fill="#bd479c"/>
<circle cx="1012.7" cy="211.5" r="3.5" fill="#bd479c"/>
<circle cx="1097.9" cy="172.6" r="2.5" fill="#bd479c"/>
<circle cx="1064.8" cy="267.5" r="1.4" fill="#bd479c"/>
<circle cx="999.1" cy="197.8" r="1.7" fill="#bd479c"/>
<circle cx="1078.7" cy="171.8" r="2.6" fill="#bd479c"/>
<circle cx="1079.2" cy="252.7" r="1.7" fill="#bd479c"/>
<circle cx="1021.6" cy="252.1" r="1.7" fill="#bd479c"/>
<circle cx="1123.5" cy="199.1" r="1.6" fill="#bd479c"/>
<circle cx="1042.0" cy="255.3" r="2.3" fill="#bd479c"/>
<circle cx="1054.1" cy="260.1" r="2.7" fill="#bd479c"/>
<circle cx="1088.3" cy="252.3" r="2.0" fill="#bd479c"/>
<circle cx="1088.8" cy="185.4" r="2.6" fill="#bd479c"/>
<circle cx="1106.7" cy="249.6" r="3.1" fill="#bd479c"/>
<circle cx="1054.3" cy="179.5" r="1.6" fill="#bd479c"/>
<circle cx="1044.2" cy="185.1" r="3.0" fill="#bd479c"/>
<circle cx="1121.9" cy="209.0" r="1.7" fill="#bd479c"/>
<circle cx="1061.0" cy="250.7" r="1.9" fill="#bd479c"/>
<circle cx="1095.9" cy="176.3" r="2.0" fill="#bd479c"/>
<circle cx="1074.8" cy="180.8" r="3.2" fill="#bd479c"/>
<circle cx="1029.4" cy="184.6" r="1.8" fill="#bd479c"/>
<circle cx="1109.6" cy="219.1" r="3.6" fill="#bd479c"/>
<circle cx="1075.1" cy="253.0" r="2.3" fill="#bd479c"/>
<circle cx="1048.7" cy="251.6" r="3.5" fill="#bd479c"/>
<circle cx="1013.3" cy="243.0" r="1.6" fill="#bd479c"/>
<circle cx="1062.5" cy="266.5" r="1.9" fill="#bd479c"/>
<circle cx="1116.8" cy="249.9" r="1.9" fill="#bd479c"/>
<circle cx="998.2" cy="246.5" r="1.2" fill="#bd479c"/>
<circle cx="1009.3" cy="187.5" r="3.1" fill="#bd479c"/>
<circle cx="1017.2" cy="241.0" r="2.2" fill="#bd479c"/>
<circle cx="1001.7" cy="231.0" r="1.9" fill="#bd479c"/>
<circle cx="1059.7" cy="183.5" r="1.7" fill="#bd479c"/>
<circle cx="1021.9" cy="247.0" r="3.1" fill="#bd479c"/>
<circle cx="1111.3" cy="193.6" r="2.4" fill="#bd479c"/>
<circle cx="1113.3" cy="228.5" r="1.9" fill="#bd479c"/>
<circle cx="1023.8" cy="255.7" r="1.2" fill="#bd479c"/>
<circle cx="1106.4" cy="226.3" r="1.8" fill="#bd479c"/>
<circle cx="1020.7" cy="257.1" r="2.3" fill="#bd479c"/>
<circle cx="1017.7" cy="191.5" r="3.6" fill="#bd479c"/>
<circle cx="1011.8" cy="190.2" r="1.9" fill="#bd479c"/>
<circle cx="1017.1" cy="205.8" r="3.7" fill="#bd479c"/>
<circle cx="1016.6" cy="244.5" r="3.7" fill="#bd479c"/>
<circle cx="1101.3" cy="177.4" r="1.8" fill="#bd479c"/>
<circle cx="1050.3" cy="265.9" r="1.6" fill="#bd479c"/>
<circle cx="1070.7" cy="251.7" r="2.1" fill="#bd479c"/>
<circle cx="1068.8" cy="252.5" r="2.1" fill="#bd479c"/>
<circle cx="1085.8" cy="252.0" r="1.9" fill="#bd479c"/>
<circle cx="1096.4" cy="176.4" r="2.5" fill="#bd479c"/>
<circle cx="1106.8" cy="195.2" r="2.7" fill="#bd479c"/>
<circle cx="1015.9" cy="211.2" r="1.1" fill="#bd479c"/>
<circle cx="1106.8" cy="205.3" r="3.0" fill="#bd479c"/>
<circle cx="1061.9" cy="256.1" r="3.2" fill="#bd479c"/>
<circle cx="1068.9" cy="185.4" r="2.6" fill="#bd479c"/>
<circle cx="1013.8" cy="175.0" r="2.0" fill="#bd479c"/>
<circle cx="1122.8" cy="231.9" r="1.2" fill="#bd479c"/>
<circle cx="1109.6" cy="230.9" r="1.7" fill="#bd479c"/>
<circle cx="1015.7" cy="207.3" r="3.1" fill="#bd479c"/>
<circle cx="1067.0" cy="181.1" r="1.7" fill="#bd479c"/>
<circle cx="1014.3" cy="261.9" r="2.0" fill="#bd479c"/>
<circle cx="1109.2" cy="227.7" r="1.4" fill="#bd479c"/>
<circle cx="1030.2" cy="258.9" r="2.3" fill="#bd479c"/>
<circle cx="1021.1" cy="256.8" r="2.6" fill="#bd479c"/>
<circle cx="1083.7" cy="167.7" r="2.2" fill="#bd479c"/>
<circle cx="1026.7" cy="251.0" r="2.3" fill="#bd479c"/>
<circle cx="1008.0" cy="220.1" r="2.2" fill="#bd479c"/>
<circle cx="1057.5" cy="264.1" r="2.3" fill="#bd479c"/>
<circle cx="1107.5" cy="199.3" r="1.2" fill="#bd479c"/>
<circle cx="1012.2" cy="201.2" r="1.8" fill="#bd479c"/>
<circle cx="1059.2" cy="259.3" r="2.0" fill="#bd479c"/>
<circle cx="999.7" cy="237.7" r="2.3" fill="#bd479c"/>
<circle cx="1016.1" cy="200.6" r="3.5" fill="#bd479c"/>
<circle cx="1064.3" cy="262.7" r="1.2" fill="#bd479c"/>
<circle cx="1027.8" cy="250.7" r="2.2" fill="#bd479c"/>
<circle cx="1039.4" cy="253.5" r="3.5" fill="#bd479c"/>
<circle cx="1006.2" cy="235.1" r="2.7" fill="#bd479c"/>
<circle cx="1040.5" cy="257.2" r="1.9" fill="#bd479c"/>
<circle cx="1070.5" cy="184.9" r="1.7" fill="#bd479c"/>
<circle cx="1120.9" cy="232.9" r="2.0" fill="#bd479c"/>
<circle cx="1016.1" cy="237.3" r="3.2" fill="#bd479c"/>
<circle cx="1054.1" cy="173.8" r="2.7" fill="#bd479c"/>
<circle cx="1021.8" cy="258.8" r="2.0" fill="#bd479c"/>
<circle cx="1027.2" cy="182.7" r="3.6" fill="#bd479c"/>
<circle cx="1123.0" cy="205.8" r="2.2" fill="#bd479c"/>
<circle cx="1059.9" cy="253.1" r="1.9" fill="#bd479c"/>
<circle cx="1064.5" cy="262.0" r="1.6" fill="#bd479c"/>
<circle cx="1014.2" cy="216.8" r="2.2" fill="#bd479c"/>
<circle cx="1015.4" cy="232.8" r="1.4" fill="#bd479c"/>
<circle cx="1079.8" cy="167.3" r="1.2" fill="#bd479c"/>
<circle cx="1050.4" cy="181.8" r="2.5" fill="#bd479c"/>
<circle cx="1071.8" cy="249.6" r="1.5" fill="#bd479c"/>
<circle cx="1005.9" cy="253.0" r="1.6" fill="#bd479c"/>
<circle cx="1117.4" cy="215.6" r="2.1" fill="#bd479c"/>
<circle cx="1031.3" cy="254.8" r="3.0" fill="#bd479c"/>
<circle cx="1006.7" cy="240.3" r="2.1" fill="#bd479c"/>
<circle cx="1065.4" cy="248.9" r="3.1" fill="#bd479c"/>
<circle cx="1111.9" cy="217.8" r="2.3" fill="#bd479c"/>
<circle cx="1016.5" cy="205.1" r="2.8" fill="#bd479c"/>
<circle cx="1023.5" cy="176.1" r="2.8" fill="#bd479c"/>
<circle cx="1108.6" cy="248.5" r="2.9" fill="#bd479c"/>
<circle cx="1009.5" cy="239.5" r="3.2" fill="#bd479c"/>
<circle cx="1039.2" cy="252.6" r="1.4" fill="#bd479c"/>
<circle cx="1105.7" cy="228.2" r="2.7" fill="#bd479c"/>
<circle cx="1109.5" cy="202.7" r="2.7" fill="#bd479c"/>
<circle cx="1011.5" cy="257.8" r="1.8" fill="#bd479c"/>
<circle cx="1007.2" cy="246.8" r="3.1" fill="#bd479c"/>
<circle cx="1065.1" cy="262.0" r="2.0" fill="#bd479c"/>
<circle cx="1097.9" cy="248.0" r="2.4" fill="#bd479c"/>
<circle cx="1103.0" cy="178.6" r="1.5" fill="#bd479c"/>
<circle cx="1098.7" cy="182.2" r="3.0" fill="#bd479c"/>
<circle cx="1122.3" cy="207.2" r="1.2" fill="#bd479c"/>
<circle cx="1002.7" cy="210.1" r="2.1" fill="#bd479c"/>
<circle cx="1064.6" cy="252.0" r="1.9" fill="#bd479c"/>
<circle cx="1013.7" cy="253.6" r="1.9" fill="#bd479c"/>
<circle cx="1078.2" cy="261.5" r="2.7" fill="#bd479c"/>
<circle cx="1016.4" cy="242.5" r="2.7" fill="#bd479c"/>
<circle cx="1091.4" cy="251.9" r="1.9" fill="#bd479c"/>
<circle cx="1028.8" cy="177.6" r="2.5" fill="#bd479c"/>
<circle cx="1018.9" cy="170.0" r="2.0" fill="#bd479c"/>
<circle cx="1012.5" cy="231.9" r="2.8" fill="#bd479c"/>
<circle cx="1024.9" cy="176.2" r="3.1" fill="#bd479c"/>
<circle cx="1010.0" cy="188.9" r="2.8" fill="#bd479c"/>
<circle cx="1122.0" cy="198.4" r="1.9" fill="#bd479c"/>
<circle cx="1028.4" cy="250.4" r="3.4" fill="#bd479c"/>
<circle cx="1012.2" cy="234.9" r="2.1" fill="#bd479c"/>
<circle cx="1007.7" cy="194.2" r="1.9" fill="#bd479c"/>
<circle cx="1061.2" cy="263.4" r="2.3" fill="#bd479c"/>
<rect x="1016.5" y="184.3" width="90.4" height="65" rx="9.5" fill="#e7251f"/>
<text x="1059" y="224.6" font-size="14" fill="#fde6e1" text-anchor="middle" >A-Li<tspan font-size="10.4" dy="3.4" font-style="italic">x</tspan><tspan dy="-3.4">Fe</tspan><tspan font-size="10.4" dy="3.4" font-style="italic">y</tspan><tspan dy="-3.4">F</tspan><tspan font-size="10.4" dy="3.4">3</tspan></text>
<circle cx="904.4" cy="329.9" r="3.8" fill="#bd479c"/>
<circle cx="872.1" cy="342.8" r="2.3" fill="#bd479c"/>
<circle cx="883.5" cy="341.4" r="2.5" fill="#bd479c"/>
<circle cx="842.4" cy="330.8" r="1.8" fill="#bd479c"/>
<circle cx="820.8" cy="286.7" r="2.3" fill="#bd479c"/>
<circle cx="927.5" cy="260.2" r="2.3" fill="#bd479c"/>
<circle cx="832.8" cy="281.9" r="3.6" fill="#bd479c"/>
<circle cx="824.5" cy="288.5" r="2.2" fill="#bd479c"/>
<circle cx="812.6" cy="285.1" r="1.9" fill="#bd479c"/>
<circle cx="880.5" cy="263.4" r="2.1" fill="#bd479c"/>
<circle cx="867.1" cy="246.6" r="1.5" fill="#bd479c"/>
<circle cx="891.3" cy="265.5" r="3.4" fill="#bd479c"/>
<circle cx="851.0" cy="329.3" r="3.8" fill="#bd479c"/>
<circle cx="818.2" cy="280.1" r="1.3" fill="#bd479c"/>
<circle cx="831.7" cy="321.4" r="3.6" fill="#bd479c"/>
<circle cx="847.3" cy="259.8" r="2.5" fill="#bd479c"/>
<circle cx="872.8" cy="249.2" r="1.9" fill="#bd479c"/>
<circle cx="837.4" cy="347.4" r="1.9" fill="#bd479c"/>
<circle cx="852.7" cy="245.4" r="1.9" fill="#bd479c"/>
<circle cx="821.9" cy="320.5" r="2.1" fill="#bd479c"/>
<circle cx="932.6" cy="298.8" r="1.4" fill="#bd479c"/>
<circle cx="929.6" cy="300.5" r="1.9" fill="#bd479c"/>
<circle cx="816.0" cy="324.2" r="2.4" fill="#bd479c"/>
<circle cx="826.8" cy="281.0" r="2.6" fill="#bd479c"/>
<circle cx="895.2" cy="252.1" r="2.5" fill="#bd479c"/>
<circle cx="903.3" cy="262.5" r="3.4" fill="#bd479c"/>
<circle cx="859.8" cy="250.2" r="2.7" fill="#bd479c"/>
<circle cx="908.5" cy="336.3" r="1.9" fill="#bd479c"/>
<circle cx="883.7" cy="251.6" r="1.1" fill="#bd479c"/>
<circle cx="826.3" cy="266.4" r="2.8" fill="#bd479c"/>
<circle cx="879.6" cy="254.1" r="1.4" fill="#bd479c"/>
<circle cx="825.3" cy="305.8" r="2.0" fill="#bd479c"/>
<circle cx="939.0" cy="312.5" r="1.3" fill="#bd479c"/>
<circle cx="876.7" cy="262.9" r="2.9" fill="#bd479c"/>
<circle cx="938.6" cy="323.5" r="2.1" fill="#bd479c"/>
<circle cx="915.1" cy="255.8" r="3.2" fill="#bd479c"/>
<circle cx="928.5" cy="311.9" r="1.4" fill="#bd479c"/>
<circle cx="937.4" cy="280.5" r="1.9" fill="#bd479c"/>
<circle cx="853.3" cy="339.0" r="2.8" fill="#bd479c"/>
<circle cx="865.3" cy="332.7" r="1.4" fill="#bd479c"/>
<circle cx="914.2" cy="263.7" r="2.0" fill="#bd479c"/>
<circle cx="838.7" cy="250.7" r="1.3" fill="#bd479c"/>
<circle cx="903.0" cy="247.0" r="2.0" fill="#bd479c"/>
<circle cx="821.7" cy="314.9" r="2.0" fill="#bd479c"/>
<circle cx="932.6" cy="323.6" r="2.6" fill="#bd479c"/>
<circle cx="878.7" cy="247.0" r="1.4" fill="#bd479c"/>
<circle cx="827.2" cy="318.3" r="2.1" fill="#bd479c"/>
<circle cx="849.6" cy="247.5" r="1.5" fill="#bd479c"/>
<circle cx="911.4" cy="260.8" r="3.7" fill="#bd479c"/>
<circle cx="873.8" cy="262.3" r="1.8" fill="#bd479c"/>
<circle cx="942.2" cy="267.0" r="1.9" fill="#bd479c"/>
<circle cx="917.8" cy="331.2" r="3.6" fill="#bd479c"/>
<circle cx="898.4" cy="331.3" r="1.2" fill="#bd479c"/>
<circle cx="895.6" cy="337.7" r="1.8" fill="#bd479c"/>
<circle cx="856.0" cy="344.4" r="2.4" fill="#bd479c"/>
<circle cx="850.4" cy="328.4" r="2.5" fill="#bd479c"/>
<circle cx="823.5" cy="301.3" r="3.0" fill="#bd479c"/>
<circle cx="887.0" cy="248.3" r="1.4" fill="#bd479c"/>
<circle cx="897.7" cy="328.9" r="2.0" fill="#bd479c"/>
<circle cx="815.3" cy="319.2" r="2.2" fill="#bd479c"/>
<circle cx="837.2" cy="328.3" r="3.0" fill="#bd479c"/>
<circle cx="911.8" cy="327.6" r="2.3" fill="#bd479c"/>
<circle cx="866.0" cy="262.7" r="3.2" fill="#bd479c"/>
<circle cx="837.5" cy="254.8" r="2.3" fill="#bd479c"/>
<circle cx="866.3" cy="248.3" r="1.9" fill="#bd479c"/>
<circle cx="920.2" cy="263.5" r="2.0" fill="#bd479c"/>
<circle cx="831.6" cy="307.3" r="3.5" fill="#bd479c"/>
<circle cx="925.9" cy="292.4" r="2.6" fill="#bd479c"/>
<circle cx="817.7" cy="281.7" r="1.9" fill="#bd479c"/>
<circle cx="815.5" cy="320.5" r="1.6" fill="#bd479c"/>
<circle cx="813.2" cy="283.0" r="1.6" fill="#bd479c"/>
<circle cx="856.6" cy="258.3" r="2.1" fill="#bd479c"/>
<circle cx="831.1" cy="347.6" r="1.7" fill="#bd479c"/>
<circle cx="905.4" cy="251.9" r="2.2" fill="#bd479c"/>
<circle cx="895.0" cy="332.1" r="2.3" fill="#bd479c"/>
<circle cx="870.5" cy="329.8" r="3.8" fill="#bd479c"/>
<circle cx="917.5" cy="257.6" r="1.8" fill="#bd479c"/>
<circle cx="925.1" cy="303.1" r="1.8" fill="#bd479c"/>
<circle cx="822.5" cy="315.9" r="2.7" fill="#bd479c"/>
<circle cx="909.5" cy="339.8" r="1.9" fill="#bd479c"/>
<circle cx="900.5" cy="256.2" r="2.1" fill="#bd479c"/>
<circle cx="906.1" cy="255.5" r="1.9" fill="#bd479c"/>
<circle cx="936.2" cy="275.3" r="1.5" fill="#bd479c"/>
<circle cx="935.4" cy="315.6" r="1.6" fill="#bd479c"/>
<circle cx="851.3" cy="331.1" r="3.0" fill="#bd479c"/>
<circle cx="825.1" cy="313.8" r="2.9" fill="#bd479c"/>
<circle cx="934.8" cy="324.9" r="1.9" fill="#bd479c"/>
<circle cx="896.2" cy="335.7" r="2.6" fill="#bd479c"/>
<circle cx="836.6" cy="346.0" r="1.9" fill="#bd479c"/>
<circle cx="926.1" cy="269.0" r="2.3" fill="#bd479c"/>
<circle cx="834.6" cy="345.7" r="1.7" fill="#bd479c"/>
<circle cx="895.1" cy="328.4" r="2.5" fill="#bd479c"/>
<circle cx="812.4" cy="324.3" r="1.7" fill="#bd479c"/>
<circle cx="938.3" cy="334.5" r="1.9" fill="#bd479c"/>
<circle cx="920.0" cy="336.9" r="2.6" fill="#bd479c"/>
<circle cx="820.7" cy="276.9" r="1.5" fill="#bd479c"/>
<circle cx="929.8" cy="308.6" r="2.3" fill="#bd479c"/>
<circle cx="891.6" cy="350.2" r="1.7" fill="#bd479c"/>
<circle cx="888.0" cy="262.0" r="1.9" fill="#bd479c"/>
<circle cx="867.5" cy="343.4" r="2.7" fill="#bd479c"/>
<circle cx="877.5" cy="261.1" r="2.0" fill="#bd479c"/>
<circle cx="889.6" cy="332.5" r="1.5" fill="#bd479c"/>
<circle cx="829.3" cy="326.1" r="3.4" fill="#bd479c"/>
<circle cx="868.9" cy="331.2" r="2.9" fill="#bd479c"/>
<circle cx="880.3" cy="336.3" r="1.9" fill="#bd479c"/>
<circle cx="862.7" cy="263.1" r="2.8" fill="#bd479c"/>
<circle cx="877.8" cy="345.8" r="1.7" fill="#bd479c"/>
<circle cx="923.0" cy="285.1" r="1.9" fill="#bd479c"/>
<circle cx="897.3" cy="334.1" r="3.4" fill="#bd479c"/>
<circle cx="826.5" cy="275.1" r="2.0" fill="#bd479c"/>
<circle cx="829.8" cy="307.5" r="2.9" fill="#bd479c"/>
<circle cx="940.7" cy="325.1" r="1.6" fill="#bd479c"/>
<circle cx="892.3" cy="261.8" r="1.5" fill="#bd479c"/>
<circle cx="891.1" cy="244.3" r="1.6" fill="#bd479c"/>
<circle cx="927.8" cy="301.1" r="2.2" fill="#bd479c"/>
<circle cx="898.2" cy="260.4" r="1.7" fill="#bd479c"/>
<circle cx="921.5" cy="283.8" r="1.5" fill="#bd479c"/>
<circle cx="816.4" cy="312.8" r="1.7" fill="#bd479c"/>
<circle cx="941.0" cy="297.3" r="1.3" fill="#bd479c"/>
<circle cx="870.9" cy="251.2" r="2.8" fill="#bd479c"/>
<circle cx="923.2" cy="291.2" r="1.9" fill="#bd479c"/>
<circle cx="898.6" cy="331.7" r="2.5" fill="#bd479c"/>
<circle cx="897.9" cy="333.5" r="3.3" fill="#bd479c"/>
<circle cx="869.1" cy="329.8" r="2.5" fill="#bd479c"/>
<circle cx="921.5" cy="266.9" r="3.3" fill="#bd479c"/>
<circle cx="937.9" cy="302.6" r="2.5" fill="#bd479c"/>
<circle cx="869.9" cy="259.9" r="2.3" fill="#bd479c"/>
<circle cx="878.5" cy="342.5" r="2.7" fill="#bd479c"/>
<circle cx="874.4" cy="332.1" r="1.1" fill="#bd479c"/>
<circle cx="878.2" cy="262.1" r="1.4" fill="#bd479c"/>
<circle cx="885.6" cy="329.9" r="2.3" fill="#bd479c"/>
<circle cx="867.3" cy="335.4" r="3.2" fill="#bd479c"/>
<circle cx="920.4" cy="265.8" r="1.9" fill="#bd479c"/>
<circle cx="896.6" cy="247.2" r="1.3" fill="#bd479c"/>
<circle cx="933.5" cy="296.5" r="2.9" fill="#bd479c"/>
<circle cx="821.0" cy="283.3" r="2.8" fill="#bd479c"/>
<circle cx="920.2" cy="310.2" r="1.9" fill="#bd479c"/>
<circle cx="847.9" cy="252.9" r="1.8" fill="#bd479c"/>
<circle cx="821.8" cy="273.1" r="2.0" fill="#bd479c"/>
<circle cx="896.6" cy="259.6" r="3.0" fill="#bd479c"/>
<circle cx="895.3" cy="262.0" r="2.4" fill="#bd479c"/>
<circle cx="831.7" cy="295.8" r="2.4" fill="#bd479c"/>
<circle cx="910.1" cy="344.3" r="1.9" fill="#bd479c"/>
<circle cx="831.2" cy="322.5" r="2.5" fill="#bd479c"/>
<circle cx="848.8" cy="260.3" r="1.8" fill="#bd479c"/>
<circle cx="926.7" cy="315.3" r="2.1" fill="#bd479c"/>
<circle cx="836.7" cy="329.0" r="2.0" fill="#bd479c"/>
<circle cx="922.5" cy="308.9" r="1.7" fill="#bd479c"/>
<circle cx="878.6" cy="338.7" r="1.1" fill="#bd479c"/>
<circle cx="838.7" cy="346.0" r="1.4" fill="#bd479c"/>
<rect x="831.5" y="263.5" width="90.4" height="66.9" rx="9.5" fill="#e7251f"/>
<rect x="860.6" y="287.8" width="31.5" height="17.4" rx="1.5" fill="#19803f"/>
<text x="876.6" y="302.4" font-size="14" fill="#e2f4e3" text-anchor="middle">FeF<tspan font-size="10.4" dy="3.4">3</tspan></text>
<text x="879" y="322.9" font-size="14" fill="#fde6e1" text-anchor="middle" >A-Li<tspan font-size="10.4" dy="3.4" font-style="italic">x</tspan><tspan dy="-3.4">Fe</tspan><tspan font-size="10.4" dy="3.4" font-style="italic">y</tspan><tspan dy="-3.4">F</tspan><tspan font-size="10.4" dy="3.4">3</tspan></text>
<text x="894.3" y="246.6" font-size="13.5" fill="#111" text-anchor="start">Li<tspan font-size="10.0" dy="-5">+</tspan></text>
<path d="M905.4,250.5 L907.4,260.5" stroke="#111" stroke-width="1.5" fill="none" marker-end="url(#ahk)"/>
<path d="M907.6,266.5 C907,275 902,279 894.5,282.5" stroke="#fff" stroke-width="1.6" stroke-dasharray="3.5 2.2" fill="none" marker-end="url(#ahw)"/>
<circle cx="989.1" cy="344.4" r="2.1" fill="#bd479c"/>
<circle cx="1055.0" cy="283.9" r="1.7" fill="#bd479c"/>
<circle cx="1113.2" cy="327.8" r="2.1" fill="#bd479c"/>
<circle cx="1032.6" cy="376.9" r="1.9" fill="#bd479c"/>
<circle cx="1062.4" cy="296.1" r="2.0" fill="#bd479c"/>
<circle cx="1005.9" cy="303.9" r="2.6" fill="#bd479c"/>
<circle cx="1023.4" cy="359.9" r="2.8" fill="#bd479c"/>
<circle cx="1054.9" cy="369.2" r="2.1" fill="#bd479c"/>
<circle cx="1044.5" cy="375.0" r="2.0" fill="#bd479c"/>
<circle cx="1100.4" cy="318.5" r="2.3" fill="#bd479c"/>
<circle cx="991.7" cy="294.6" r="2.1" fill="#bd479c"/>
<circle cx="1023.2" cy="288.3" r="1.9" fill="#bd479c"/>
<circle cx="1001.1" cy="314.3" r="1.3" fill="#bd479c"/>
<circle cx="1038.3" cy="368.8" r="2.7" fill="#bd479c"/>
<circle cx="1077.9" cy="366.9" r="1.8" fill="#bd479c"/>
<circle cx="998.0" cy="334.6" r="2.9" fill="#bd479c"/>
<circle cx="1029.8" cy="290.5" r="1.8" fill="#bd479c"/>
<circle cx="1042.2" cy="291.9" r="1.6" fill="#bd479c"/>
<circle cx="1021.9" cy="294.3" r="2.1" fill="#bd479c"/>
<circle cx="1031.7" cy="360.8" r="2.1" fill="#bd479c"/>
<circle cx="1078.5" cy="376.0" r="1.6" fill="#bd479c"/>
<circle cx="1009.5" cy="289.0" r="1.9" fill="#bd479c"/>
<circle cx="1113.5" cy="343.7" r="2.5" fill="#bd479c"/>
<circle cx="1054.4" cy="285.9" r="2.5" fill="#bd479c"/>
<circle cx="1006.5" cy="353.6" r="1.7" fill="#bd479c"/>
<circle cx="1025.5" cy="291.8" r="1.7" fill="#bd479c"/>
<circle cx="1052.8" cy="364.9" r="1.1" fill="#bd479c"/>
<circle cx="1044.1" cy="284.1" r="2.0" fill="#bd479c"/>
<circle cx="1035.6" cy="367.3" r="2.9" fill="#bd479c"/>
<circle cx="1007.5" cy="318.6" r="2.1" fill="#bd479c"/>
<circle cx="991.9" cy="334.0" r="2.2" fill="#bd479c"/>
<circle cx="1097.6" cy="363.2" r="2.6" fill="#bd479c"/>
<circle cx="1061.6" cy="362.0" r="1.3" fill="#bd479c"/>
<circle cx="1103.9" cy="329.3" r="2.3" fill="#bd479c"/>
<circle cx="1013.9" cy="289.7" r="1.2" fill="#bd479c"/>
<circle cx="1044.4" cy="365.0" r="2.6" fill="#bd479c"/>
<circle cx="1075.6" cy="367.9" r="2.6" fill="#bd479c"/>
<circle cx="994.4" cy="338.1" r="2.3" fill="#bd479c"/>
<circle cx="1101.5" cy="286.3" r="1.8" fill="#bd479c"/>
<circle cx="1026.5" cy="368.4" r="2.2" fill="#bd479c"/>
<circle cx="1097.9" cy="326.4" r="2.8" fill="#bd479c"/>
<circle cx="1095.9" cy="296.4" r="2.0" fill="#bd479c"/>
<circle cx="1103.4" cy="346.8" r="1.7" fill="#bd479c"/>
<circle cx="1109.7" cy="305.5" r="2.9" fill="#bd479c"/>
<circle cx="997.2" cy="320.0" r="3.1" fill="#bd479c"/>
<circle cx="1006.8" cy="366.1" r="1.7" fill="#bd479c"/>
<circle cx="1003.8" cy="326.8" r="2.2" fill="#bd479c"/>
<circle cx="1075.1" cy="293.1" r="2.7" fill="#bd479c"/>
<circle cx="1045.6" cy="362.4" r="1.9" fill="#bd479c"/>
<circle cx="1002.3" cy="338.6" r="1.9" fill="#bd479c"/>
<circle cx="998.4" cy="336.1" r="2.8" fill="#bd479c"/>
<circle cx="1109.2" cy="337.1" r="1.4" fill="#bd479c"/>
<circle cx="1014.0" cy="288.7" r="1.8" fill="#bd479c"/>
<circle cx="1011.0" cy="282.1" r="1.7" fill="#bd479c"/>
<circle cx="1026.9" cy="366.5" r="1.9" fill="#bd479c"/>
<circle cx="1105.3" cy="340.7" r="2.5" fill="#bd479c"/>
<circle cx="1067.2" cy="364.6" r="3.2" fill="#bd479c"/>
<circle cx="1109.5" cy="310.7" r="2.1" fill="#bd479c"/>
<circle cx="1085.5" cy="380.2" r="1.9" fill="#bd479c"/>
<circle cx="1117.3" cy="319.8" r="1.1" fill="#bd479c"/>
<circle cx="1045.4" cy="299.3" r="3.9" fill="#bd479c"/>
<circle cx="1052.1" cy="298.5" r="1.1" fill="#bd479c"/>
<circle cx="1018.7" cy="362.4" r="2.5" fill="#bd479c"/>
<circle cx="1100.1" cy="350.0" r="1.9" fill="#bd479c"/>
<circle cx="1028.1" cy="288.4" r="2.3" fill="#bd479c"/>
<circle cx="990.0" cy="324.8" r="1.4" fill="#bd479c"/>
<circle cx="1090.9" cy="292.5" r="2.7" fill="#bd479c"/>
<circle cx="1005.7" cy="291.9" r="2.0" fill="#bd479c"/>
<circle cx="1005.4" cy="337.2" r="2.4" fill="#bd479c"/>
<circle cx="1006.9" cy="335.9" r="3.0" fill="#bd479c"/>
<circle cx="1070.2" cy="378.5" r="2.2" fill="#bd479c"/>
<circle cx="1060.3" cy="284.9" r="1.2" fill="#bd479c"/>
<circle cx="1009.2" cy="301.5" r="1.8" fill="#bd479c"/>
<circle cx="1041.3" cy="296.3" r="3.1" fill="#bd479c"/>
<circle cx="1007.0" cy="302.6" r="1.8" fill="#bd479c"/>
<circle cx="1071.5" cy="292.2" r="1.5" fill="#bd479c"/>
<circle cx="1114.8" cy="302.4" r="1.8" fill="#bd479c"/>
<circle cx="1052.9" cy="286.6" r="1.5" fill="#bd479c"/>
<circle cx="1115.1" cy="364.1" r="2.4" fill="#bd479c"/>
<circle cx="1104.6" cy="297.1" r="1.6" fill="#bd479c"/>
<circle cx="1106.4" cy="341.3" r="2.6" fill="#bd479c"/>
<circle cx="1082.7" cy="371.5" r="2.9" fill="#bd479c"/>
<circle cx="1101.5" cy="335.8" r="2.4" fill="#bd479c"/>
<circle cx="1050.4" cy="278.5" r="1.8" fill="#bd479c"/>
<circle cx="1086.3" cy="289.2" r="1.6" fill="#bd479c"/>
<circle cx="1006.5" cy="379.6" r="2.0" fill="#bd479c"/>
<circle cx="1052.6" cy="370.3" r="2.8" fill="#bd479c"/>
<circle cx="1095.4" cy="369.2" r="1.9" fill="#bd479c"/>
<circle cx="1027.3" cy="365.6" r="2.8" fill="#bd479c"/>
<circle cx="1107.5" cy="310.6" r="1.8" fill="#bd479c"/>
<circle cx="1088.2" cy="282.2" r="1.8" fill="#bd479c"/>
<circle cx="1044.9" cy="281.9" r="1.9" fill="#bd479c"/>
<circle cx="1004.2" cy="354.1" r="3.0" fill="#bd479c"/>
<circle cx="990.3" cy="336.3" r="1.7" fill="#bd479c"/>
<circle cx="1005.8" cy="355.2" r="2.4" fill="#bd479c"/>
<circle cx="1089.5" cy="368.9" r="2.2" fill="#bd479c"/>
<circle cx="1035.1" cy="367.7" r="1.8" fill="#bd479c"/>
<circle cx="1106.0" cy="312.8" r="2.1" fill="#bd479c"/>
<circle cx="1098.0" cy="323.7" r="2.1" fill="#bd479c"/>
<circle cx="1091.5" cy="294.6" r="1.7" fill="#bd479c"/>
<circle cx="1005.5" cy="340.5" r="1.5" fill="#bd479c"/>
<circle cx="1110.1" cy="314.2" r="2.0" fill="#bd479c"/>
<circle cx="1002.8" cy="367.3" r="2.0" fill="#bd479c"/>
<circle cx="1037.7" cy="365.6" r="1.9" fill="#bd479c"/>
<circle cx="1105.3" cy="331.6" r="1.5" fill="#bd479c"/>
<circle cx="1103.0" cy="345.8" r="2.4" fill="#bd479c"/>
<circle cx="1001.4" cy="341.8" r="2.8" fill="#bd479c"/>
<circle cx="1096.7" cy="331.0" r="3.0" fill="#bd479c"/>
<circle cx="1006.0" cy="362.8" r="1.9" fill="#bd479c"/>
<circle cx="1074.1" cy="360.8" r="3.4" fill="#bd479c"/>
<circle cx="1008.3" cy="287.4" r="2.7" fill="#bd479c"/>
<circle cx="1043.1" cy="295.2" r="1.6" fill="#bd479c"/>
<circle cx="1092.0" cy="295.9" r="2.8" fill="#bd479c"/>
<circle cx="1097.9" cy="347.4" r="3.6" fill="#bd479c"/>
<circle cx="1003.9" cy="337.1" r="2.4" fill="#bd479c"/>
<circle cx="1107.0" cy="361.0" r="2.8" fill="#bd479c"/>
<circle cx="997.7" cy="325.8" r="2.1" fill="#bd479c"/>
<circle cx="1099.6" cy="313.0" r="2.3" fill="#bd479c"/>
<circle cx="998.1" cy="354.9" r="1.5" fill="#bd479c"/>
<circle cx="1057.1" cy="360.1" r="1.9" fill="#bd479c"/>
<circle cx="1064.6" cy="282.1" r="2.1" fill="#bd479c"/>
<circle cx="1098.4" cy="292.7" r="2.0" fill="#bd479c"/>
<circle cx="1073.8" cy="297.6" r="2.6" fill="#bd479c"/>
<circle cx="1075.0" cy="282.9" r="1.8" fill="#bd479c"/>
<circle cx="1020.3" cy="283.5" r="1.6" fill="#bd479c"/>
<circle cx="1061.2" cy="281.7" r="1.9" fill="#bd479c"/>
<circle cx="1001.0" cy="309.6" r="1.9" fill="#bd479c"/>
<circle cx="1040.6" cy="293.4" r="2.4" fill="#bd479c"/>
<circle cx="1057.0" cy="283.2" r="2.6" fill="#bd479c"/>
<circle cx="1089.6" cy="295.7" r="2.6" fill="#bd479c"/>
<circle cx="1030.5" cy="293.3" r="1.4" fill="#bd479c"/>
<circle cx="991.4" cy="335.2" r="1.7" fill="#bd479c"/>
<circle cx="1004.6" cy="309.3" r="2.3" fill="#bd479c"/>
<circle cx="1082.5" cy="285.5" r="2.5" fill="#bd479c"/>
<circle cx="1019.8" cy="289.5" r="2.4" fill="#bd479c"/>
<circle cx="1014.2" cy="290.4" r="1.7" fill="#bd479c"/>
<circle cx="1101.8" cy="318.0" r="3.5" fill="#bd479c"/>
<circle cx="991.4" cy="344.9" r="2.0" fill="#bd479c"/>
<circle cx="1047.2" cy="292.1" r="1.8" fill="#bd479c"/>
<circle cx="1092.6" cy="366.9" r="2.3" fill="#bd479c"/>
<rect x="1006.5" y="298.2" width="92" height="64.2" rx="9.5" fill="#2c52a5"/>
<text x="1052.5" y="337.5" font-size="14" fill="#e6eaf6" text-anchor="middle" >B-Li<tspan font-size="10.4" dy="3.4" font-style="italic">x</tspan><tspan dy="-3.4">Fe</tspan><tspan font-size="10.4" dy="3.4" font-style="italic">y</tspan><tspan dy="-3.4">F</tspan><tspan font-size="10.4" dy="3.4">3</tspan></text>
<circle cx="1223.5" cy="308.5" r="1.7" fill="#d6456a"/>
<circle cx="1194.3" cy="385.9" r="1.3" fill="#ef7a32"/>
<circle cx="1189.5" cy="304.4" r="1.8" fill="#e2583f"/>
<circle cx="1271.9" cy="301.3" r="1.3" fill="#e8663a"/>
<circle cx="1286.7" cy="323.3" r="1.9" fill="#e8663a"/>
<circle cx="1196.6" cy="336.9" r="2.8" fill="#d23f6c"/>
<circle cx="1190.7" cy="374.3" r="3.4" fill="#e2583f"/>
<circle cx="1219.9" cy="386.5" r="1.3" fill="#d23f6c"/>
<circle cx="1297.9" cy="373.5" r="1.6" fill="#ef7a32"/>
<circle cx="1202.9" cy="372.9" r="2.1" fill="#c9427f"/>
<circle cx="1201.9" cy="381.2" r="1.5" fill="#c9427f"/>
<circle cx="1261.9" cy="378.3" r="3.1" fill="#ef7a32"/>
<circle cx="1209.3" cy="382.1" r="2.9" fill="#e2583f"/>
<circle cx="1268.4" cy="300.8" r="3.0" fill="#c9427f"/>
<circle cx="1195.4" cy="349.3" r="3.5" fill="#d6456a"/>
<circle cx="1285.3" cy="348.9" r="3.6" fill="#e8663a"/>
<circle cx="1188.4" cy="341.3" r="3.4" fill="#d6456a"/>
<circle cx="1295.2" cy="355.0" r="2.0" fill="#ef7a32"/>
<circle cx="1293.5" cy="332.7" r="1.8" fill="#d6456a"/>
<circle cx="1222.1" cy="388.8" r="1.9" fill="#e2583f"/>
<circle cx="1290.5" cy="341.7" r="3.2" fill="#d6456a"/>
<circle cx="1288.1" cy="317.8" r="3.3" fill="#e2583f"/>
<circle cx="1284.0" cy="342.8" r="3.1" fill="#c9427f"/>
<circle cx="1285.7" cy="329.8" r="3.7" fill="#d6456a"/>
<circle cx="1231.3" cy="296.1" r="1.8" fill="#ef7a32"/>
<circle cx="1295.9" cy="333.6" r="2.0" fill="#c9427f"/>
<circle cx="1212.3" cy="299.1" r="2.9" fill="#d23f6c"/>
<circle cx="1269.2" cy="378.7" r="3.3" fill="#c9427f"/>
<circle cx="1303.5" cy="373.0" r="1.5" fill="#e8663a"/>
<circle cx="1257.7" cy="391.7" r="1.1" fill="#d6456a"/>
<circle cx="1230.8" cy="387.0" r="1.8" fill="#c9427f"/>
<circle cx="1302.8" cy="333.0" r="1.2" fill="#e2583f"/>
<circle cx="1252.3" cy="294.2" r="1.6" fill="#c9427f"/>
<circle cx="1286.0" cy="305.1" r="3.9" fill="#ef7a32"/>
<circle cx="1188.4" cy="334.5" r="3.3" fill="#c9427f"/>
<circle cx="1280.0" cy="304.3" r="1.9" fill="#d6456a"/>
<circle cx="1287.0" cy="379.7" r="1.4" fill="#e8663a"/>
<circle cx="1293.5" cy="364.9" r="2.1" fill="#e8663a"/>
<circle cx="1178.2" cy="372.6" r="1.6" fill="#c9427f"/>
<circle cx="1265.8" cy="376.3" r="1.8" fill="#e8663a"/>
<circle cx="1226.4" cy="377.9" r="1.8" fill="#c9427f"/>
<circle cx="1253.4" cy="298.2" r="2.8" fill="#ef7a32"/>
<circle cx="1293.3" cy="346.1" r="3.1" fill="#e2583f"/>
<circle cx="1274.3" cy="380.5" r="1.5" fill="#e8663a"/>
<circle cx="1193.2" cy="300.2" r="2.2" fill="#c9427f"/>
<circle cx="1281.9" cy="295.4" r="2.3" fill="#e8663a"/>
<circle cx="1230.9" cy="305.3" r="3.5" fill="#d6456a"/>
<circle cx="1194.6" cy="349.2" r="1.7" fill="#e8663a"/>
<circle cx="1273.6" cy="307.0" r="1.8" fill="#d23f6c"/>
<circle cx="1298.5" cy="332.3" r="1.3" fill="#e2583f"/>
<circle cx="1291.4" cy="353.7" r="2.7" fill="#d23f6c"/>
<circle cx="1207.5" cy="293.8" r="1.7" fill="#e8663a"/>
<circle cx="1273.6" cy="302.3" r="2.0" fill="#e8663a"/>
<circle cx="1268.9" cy="372.1" r="1.7" fill="#c9427f"/>
<circle cx="1223.2" cy="308.9" r="3.8" fill="#c9427f"/>
<circle cx="1176.5" cy="346.3" r="1.6" fill="#e2583f"/>
<circle cx="1302.8" cy="351.5" r="2.0" fill="#e8663a"/>
<circle cx="1256.7" cy="303.8" r="2.5" fill="#e2583f"/>
<circle cx="1187.0" cy="385.2" r="1.6" fill="#ef7a32"/>
<circle cx="1209.5" cy="390.0" r="1.2" fill="#d23f6c"/>
<circle cx="1185.2" cy="368.7" r="2.4" fill="#c9427f"/>
<circle cx="1245.1" cy="301.1" r="1.7" fill="#d23f6c"/>
<circle cx="1187.3" cy="369.2" r="1.9" fill="#d6456a"/>
<circle cx="1286.2" cy="365.4" r="3.9" fill="#e8663a"/>
<circle cx="1256.7" cy="381.6" r="2.0" fill="#c9427f"/>
<circle cx="1283.1" cy="295.3" r="1.5" fill="#d6456a"/>
<circle cx="1228.2" cy="309.4" r="3.0" fill="#d23f6c"/>
<circle cx="1175.0" cy="367.3" r="1.8" fill="#ef7a32"/>
<circle cx="1294.2" cy="319.9" r="2.8" fill="#d23f6c"/>
<circle cx="1276.1" cy="292.6" r="1.3" fill="#d6456a"/>
<circle cx="1259.6" cy="389.9" r="2.5" fill="#e8663a"/>
<circle cx="1221.5" cy="373.3" r="3.3" fill="#c9427f"/>
<circle cx="1301.4" cy="369.1" r="1.3" fill="#d6456a"/>
<circle cx="1214.3" cy="308.9" r="3.4" fill="#c9427f"/>
<circle cx="1206.1" cy="384.6" r="2.9" fill="#d23f6c"/>
<circle cx="1209.0" cy="309.2" r="3.2" fill="#c9427f"/>
<circle cx="1263.3" cy="380.2" r="2.4" fill="#d23f6c"/>
<circle cx="1200.6" cy="390.7" r="2.0" fill="#e8663a"/>
<circle cx="1190.9" cy="388.5" r="1.2" fill="#e8663a"/>
<circle cx="1246.3" cy="373.3" r="2.9" fill="#c9427f"/>
<circle cx="1277.9" cy="376.8" r="1.6" fill="#d23f6c"/>
<circle cx="1255.1" cy="303.4" r="2.9" fill="#d23f6c"/>
<circle cx="1243.3" cy="373.5" r="1.3" fill="#d23f6c"/>
<circle cx="1220.6" cy="306.3" r="2.8" fill="#e2583f"/>
<circle cx="1201.6" cy="308.5" r="3.2" fill="#e8663a"/>
<circle cx="1303.1" cy="335.0" r="2.2" fill="#d23f6c"/>
<circle cx="1180.4" cy="337.9" r="1.3" fill="#d6456a"/>
<circle cx="1195.3" cy="372.8" r="2.1" fill="#ef7a32"/>
<circle cx="1206.5" cy="303.9" r="1.8" fill="#c9427f"/>
<circle cx="1182.6" cy="321.9" r="1.8" fill="#d6456a"/>
<circle cx="1274.8" cy="377.3" r="2.3" fill="#d23f6c"/>
<circle cx="1199.2" cy="385.7" r="1.5" fill="#ef7a32"/>
<circle cx="1290.9" cy="344.6" r="1.8" fill="#e2583f"/>
<circle cx="1272.0" cy="383.8" r="3.0" fill="#c9427f"/>
<circle cx="1220.2" cy="307.2" r="1.4" fill="#c9427f"/>
<circle cx="1229.0" cy="292.2" r="2.4" fill="#d6456a"/>
<circle cx="1270.4" cy="305.7" r="3.0" fill="#ef7a32"/>
<circle cx="1247.9" cy="383.3" r="1.5" fill="#d23f6c"/>
<circle cx="1215.5" cy="308.3" r="1.2" fill="#d6456a"/>
<circle cx="1234.7" cy="379.7" r="3.3" fill="#d6456a"/>
<circle cx="1297.2" cy="342.9" r="2.0" fill="#ef7a32"/>
<circle cx="1287.7" cy="318.7" r="2.1" fill="#ef7a32"/>
<circle cx="1279.3" cy="309.3" r="1.8" fill="#e8663a"/>
<circle cx="1289.6" cy="305.4" r="1.7" fill="#d23f6c"/>
<circle cx="1263.4" cy="376.7" r="1.6" fill="#e2583f"/>
<circle cx="1190.5" cy="326.9" r="3.1" fill="#e2583f"/>
<circle cx="1274.9" cy="374.6" r="3.4" fill="#d6456a"/>
<circle cx="1195.6" cy="323.8" r="3.7" fill="#d6456a"/>
<circle cx="1271.4" cy="309.1" r="2.5" fill="#ef7a32"/>
<circle cx="1195.5" cy="302.6" r="1.6" fill="#e2583f"/>
<circle cx="1187.7" cy="335.4" r="1.8" fill="#d6456a"/>
<circle cx="1303.0" cy="367.7" r="2.2" fill="#d6456a"/>
<circle cx="1230.2" cy="292.1" r="2.0" fill="#e2583f"/>
<circle cx="1234.2" cy="302.9" r="1.7" fill="#c9427f"/>
<circle cx="1286.8" cy="313.7" r="2.1" fill="#d6456a"/>
<circle cx="1279.3" cy="302.7" r="2.7" fill="#d23f6c"/>
<circle cx="1284.7" cy="375.6" r="2.9" fill="#e2583f"/>
<circle cx="1302.4" cy="348.2" r="2.1" fill="#c9427f"/>
<circle cx="1268.1" cy="301.6" r="1.6" fill="#d23f6c"/>
<circle cx="1282.6" cy="292.2" r="1.1" fill="#e2583f"/>
<circle cx="1201.9" cy="291.1" r="1.7" fill="#c9427f"/>
<circle cx="1304.2" cy="373.8" r="1.3" fill="#d6456a"/>
<circle cx="1202.2" cy="308.1" r="3.3" fill="#d23f6c"/>
<circle cx="1236.5" cy="295.7" r="2.0" fill="#d6456a"/>
<circle cx="1240.1" cy="306.3" r="1.9" fill="#e8663a"/>
<circle cx="1299.5" cy="317.0" r="1.9" fill="#d6456a"/>
<circle cx="1278.7" cy="300.2" r="3.1" fill="#d23f6c"/>
<circle cx="1216.8" cy="291.6" r="1.1" fill="#ef7a32"/>
<circle cx="1201.9" cy="375.8" r="2.3" fill="#c9427f"/>
<circle cx="1280.3" cy="374.7" r="3.1" fill="#ef7a32"/>
<circle cx="1175.6" cy="331.4" r="1.8" fill="#c9427f"/>
<circle cx="1184.1" cy="317.6" r="3.0" fill="#d23f6c"/>
<circle cx="1221.8" cy="372.7" r="3.9" fill="#ef7a32"/>
<circle cx="1225.9" cy="384.8" r="1.6" fill="#e2583f"/>
<circle cx="1196.0" cy="320.6" r="2.1" fill="#ef7a32"/>
<circle cx="1213.4" cy="377.3" r="1.3" fill="#e2583f"/>
<circle cx="1194.3" cy="341.9" r="3.2" fill="#d6456a"/>
<circle cx="1185.4" cy="331.6" r="2.7" fill="#e2583f"/>
<circle cx="1183.8" cy="367.5" r="1.5" fill="#ef7a32"/>
<circle cx="1184.8" cy="365.7" r="2.6" fill="#e2583f"/>
<circle cx="1300.5" cy="333.9" r="1.9" fill="#e8663a"/>
<circle cx="1209.8" cy="293.5" r="1.8" fill="#d23f6c"/>
<circle cx="1215.8" cy="309.3" r="2.2" fill="#c9427f"/>
<circle cx="1196.7" cy="377.1" r="1.3" fill="#d6456a"/>
<circle cx="1293.8" cy="317.3" r="1.2" fill="#e2583f"/>
<circle cx="1280.7" cy="308.5" r="2.0" fill="#ef7a32"/>
<circle cx="1293.5" cy="330.0" r="1.8" fill="#d6456a"/>
<circle cx="1285.6" cy="306.7" r="1.9" fill="#d23f6c"/>
<rect x="1193.8" y="308.8" width="92.7" height="65.5" rx="9.5" fill="#1f2b5e"/>
<circle cx="1215.2" cy="310.4" r="3.0" fill="#f8e71c"/>
<circle cx="1216.7" cy="315.6" r="1.6" fill="#f8e71c"/>
<circle cx="1218.9" cy="320.6" r="3.0" fill="#f8e71c"/>
<circle cx="1221.6" cy="325.4" r="1.6" fill="#f8e71c"/>
<circle cx="1224.6" cy="330.0" r="3.0" fill="#f8e71c"/>
<circle cx="1227.0" cy="334.9" r="1.6" fill="#f8e71c"/>
<circle cx="1228.5" cy="340.2" r="3.0" fill="#f8e71c"/>
<circle cx="1195.4" cy="320.3" r="3.0" fill="#f8e71c"/>
<circle cx="1201.7" cy="323.9" r="1.6" fill="#f8e71c"/>
<circle cx="1208.6" cy="325.8" r="3.0" fill="#f8e71c"/>
<circle cx="1196.5" cy="335.7" r="3.0" fill="#f8e71c"/>
<circle cx="1203.1" cy="332.4" r="1.6" fill="#f8e71c"/>
<circle cx="1238.4" cy="311.5" r="3.0" fill="#f8e71c"/>
<circle cx="1236.7" cy="316.6" r="1.6" fill="#f8e71c"/>
<circle cx="1238.6" cy="321.0" r="3.0" fill="#f8e71c"/>
<circle cx="1242.2" cy="325.0" r="1.6" fill="#f8e71c"/>
<circle cx="1246.9" cy="327.8" r="3.0" fill="#f8e71c"/>
<circle cx="1251.2" cy="325.0" r="1.6" fill="#f8e71c"/>
<circle cx="1253.8" cy="320.3" r="3.0" fill="#f8e71c"/>
<circle cx="1257.0" cy="316.0" r="1.6" fill="#f8e71c"/>
<circle cx="1260.9" cy="312.4" r="3.0" fill="#f8e71c"/>
<circle cx="1266.0" cy="310.4" r="1.6" fill="#f8e71c"/>
<circle cx="1258.2" cy="339.0" r="3.0" fill="#f8e71c"/>
<circle cx="1262.1" cy="335.8" r="1.6" fill="#f8e71c"/>
<circle cx="1266.2" cy="333.1" r="3.0" fill="#f8e71c"/>
<circle cx="1270.9" cy="331.5" r="1.6" fill="#f8e71c"/>
<circle cx="1275.6" cy="329.8" r="3.0" fill="#f8e71c"/>
<circle cx="1280.3" cy="328.0" r="1.6" fill="#f8e71c"/>
<circle cx="1195.4" cy="363.3" r="3.0" fill="#f8e71c"/>
<circle cx="1199.8" cy="360.1" r="1.6" fill="#f8e71c"/>
<circle cx="1204.5" cy="357.3" r="3.0" fill="#f8e71c"/>
<circle cx="1209.7" cy="355.6" r="1.6" fill="#f8e71c"/>
<circle cx="1220.7" cy="356.7" r="3.0" fill="#f8e71c"/>
<circle cx="1224.5" cy="360.5" r="1.6" fill="#f8e71c"/>
<circle cx="1227.6" cy="364.6" r="3.0" fill="#f8e71c"/>
<circle cx="1228.5" cy="369.9" r="1.6" fill="#f8e71c"/>
<circle cx="1229.6" cy="350.1" r="3.0" fill="#f8e71c"/>
<circle cx="1233.6" cy="354.1" r="1.6" fill="#f8e71c"/>
<circle cx="1237.6" cy="358.2" r="3.0" fill="#f8e71c"/>
<circle cx="1241.2" cy="362.5" r="1.6" fill="#f8e71c"/>
<circle cx="1243.4" cy="367.8" r="3.0" fill="#f8e71c"/>
<circle cx="1245.0" cy="373.2" r="1.6" fill="#f8e71c"/>
<circle cx="1250.5" cy="354.5" r="3.0" fill="#f8e71c"/>
<circle cx="1255.7" cy="355.5" r="1.6" fill="#f8e71c"/>
<circle cx="1260.1" cy="358.3" r="3.0" fill="#f8e71c"/>
<circle cx="1263.2" cy="362.0" r="1.6" fill="#f8e71c"/>
<circle cx="1264.7" cy="367.1" r="3.0" fill="#f8e71c"/>
<circle cx="1263.8" cy="372.1" r="1.6" fill="#f8e71c"/>
<circle cx="1267.1" cy="349.0" r="3.0" fill="#f8e71c"/>
<circle cx="1270.5" cy="353.1" r="1.6" fill="#f8e71c"/>
<circle cx="1274.3" cy="357.0" r="3.0" fill="#f8e71c"/>
<circle cx="1278.4" cy="360.5" r="1.6" fill="#f8e71c"/>
<circle cx="1283.6" cy="361.1" r="3.0" fill="#f8e71c"/>
<text x="1239" y="345.9" font-size="14" fill="#dfe3ee" text-anchor="middle" >C-Li<tspan font-size="10.4" dy="3.4" font-style="italic">x</tspan><tspan dy="-3.4">Fe</tspan><tspan font-size="10.4" dy="3.4" font-style="italic">y</tspan><tspan dy="-3.4">F</tspan><tspan font-size="10.4" dy="3.4">3</tspan></text>
<circle cx="966.9" cy="450.6" r="35.2" fill="#c04a9b" stroke="#1a1a1a" stroke-width="1"/>
<text x="966" y="455" font-size="14" fill="#f6d3ea" text-anchor="middle">FeF<tspan font-size="10.4" dy="3.4">2</tspan></text>
<circle cx="1162.6" cy="454.4" r="35.4" fill="#ec6d1b" stroke="#1a1a1a" stroke-width="1"/>
<ellipse cx="1163.4" cy="452" rx="23.5" ry="18.5" fill="#8a1a1c"/>
<ellipse cx="1161.6" cy="454.2" rx="11.5" ry="8.2" fill="#c04a9b"/>
<ellipse cx="1132.2" cy="448.5" rx="5.7" ry="4.9" fill="#f8e71c"/>
<ellipse cx="1191.9" cy="454.6" rx="6.1" ry="5.7" fill="#f8e71c"/>
<ellipse cx="1189.9" cy="440.4" rx="4.4" ry="4.4" fill="#f8e71c"/>
<ellipse cx="1155.5" cy="480.9" rx="5.7" ry="7.1" fill="#f8e71c"/>
<ellipse cx="1138.3" cy="468.7" rx="4.9" ry="4.0" fill="#f8e71c"/>
<ellipse cx="1180.8" cy="475.8" rx="4.0" ry="3.4" fill="#f8e71c"/>
<ellipse cx="1143.4" cy="459.2" rx="2.4" ry="2.4" fill="#f8e71c"/>
<ellipse cx="1154.5" cy="468.7" rx="3.0" ry="3.0" fill="#f8e71c"/>
<ellipse cx="1174.3" cy="467.7" rx="2.4" ry="2.4" fill="#f8e71c"/>
<ellipse cx="1181.8" cy="453.0" rx="2.0" ry="2.0" fill="#f8e71c"/>
<text x="1160.5" y="430.5" font-size="10.5" fill="#f9c88a" text-anchor="middle">LiF</text>
<path id="arcL" d="M1145.5,447 Q1160,432 1182,449" fill="none"/>
<text font-size="10.5" fill="#f3c9c9"><textPath href="#arcL" startOffset="0">Li<tspan font-size="7.5" dy="2.5">2</tspan><tspan dy="-2.5">FeF</tspan><tspan font-size="7.5" dy="2.5">4</tspan></textPath></text>
<text x="1152" y="458.5" font-size="11" fill="#fbe3f1">FeF<tspan font-size="7.5" dy="2.6">2</tspan></text>
<path d="M1177,460 L1183,465.5 L1183.5,458 Z" fill="#fff"/>
<path d="M1183.5,466 Q1186,471 1191,470.5" stroke="#fff" stroke-width="1.2" fill="none"/>
<path d="M1215,486 C1207,486 1208,480 1204,477.5 C1201,476 1200,475 1195.5,472.5" stroke="#111" stroke-width="1.4" fill="none" marker-end="url(#ahk)"/>
<text x="1216" y="492.5" font-size="13.5" fill="#111" text-anchor="start">Li<tspan font-size="10.0" dy="-5">+</tspan></text>
<circle cx="1354" cy="453.9" r="35.3" fill="#ec6d1b" stroke="#3a2a1a" stroke-width="1"/>
<ellipse cx="1325.4" cy="439.1" rx="6.6" ry="4.9" transform="rotate(20 1325.4 439.1)" fill="#f8e71c"/>
<ellipse cx="1381.6" cy="437.8" rx="5.7" ry="6.6" transform="rotate(0 1381.6 437.8)" fill="#f8e71c"/>
<ellipse cx="1366.2" cy="442.9" rx="7.7" ry="4.0" transform="rotate(-20 1366.2 442.9)" fill="#f8e71c"/>
<ellipse cx="1336.4" cy="446.2" rx="4.0" ry="3.3" transform="rotate(0 1336.4 446.2)" fill="#f8e71c"/>
<ellipse cx="1349.6" cy="447.3" rx="5.5" ry="5.5" transform="rotate(0 1349.6 447.3)" fill="#f8e71c"/>
<ellipse cx="1358.5" cy="447.3" rx="2.2" ry="2.2" transform="rotate(0 1358.5 447.3)" fill="#f8e71c"/>
<ellipse cx="1339.7" cy="450.6" rx="3.3" ry="2.6" transform="rotate(0 1339.7 450.6)" fill="#f8e71c"/>
<ellipse cx="1372.8" cy="448.4" rx="5.5" ry="3.3" transform="rotate(0 1372.8 448.4)" fill="#f8e71c"/>
<ellipse cx="1383.8" cy="453.9" rx="3.3" ry="3.3" transform="rotate(0 1383.8 453.9)" fill="#f8e71c"/>
<ellipse cx="1388.2" cy="457.2" rx="2.2" ry="2.2" transform="rotate(0 1388.2 457.2)" fill="#f8e71c"/>
<ellipse cx="1330.9" cy="457.2" rx="7.7" ry="4.9" transform="rotate(-30 1330.9 457.2)" fill="#f8e71c"/>
<ellipse cx="1321.0" cy="458.3" rx="3.3" ry="2.6" transform="rotate(0 1321.0 458.3)" fill="#f8e71c"/>
<ellipse cx="1350.7" cy="458.3" rx="4.0" ry="3.3" transform="rotate(0 1350.7 458.3)" fill="#f8e71c"/>
<ellipse cx="1356.3" cy="458.3" rx="2.6" ry="2.6" transform="rotate(0 1356.3 458.3)" fill="#f8e71c"/>
<ellipse cx="1371.7" cy="457.2" rx="6.6" ry="4.4" transform="rotate(-20 1371.7 457.2)" fill="#f8e71c"/>
<ellipse cx="1340.8" cy="467.1" rx="7.7" ry="6.6" transform="rotate(0 1340.8 467.1)" fill="#f8e71c"/>
<ellipse cx="1364.0" cy="464.9" rx="5.5" ry="4.0" transform="rotate(30 1364.0 464.9)" fill="#f8e71c"/>
<ellipse cx="1381.6" cy="466.0" rx="4.4" ry="6.2" transform="rotate(0 1381.6 466.0)" fill="#f8e71c"/>
<ellipse cx="1336.4" cy="479.3" rx="6.6" ry="4.0" transform="rotate(-15 1336.4 479.3)" fill="#f8e71c"/>
<ellipse cx="1350.7" cy="481.5" rx="5.5" ry="7.3" transform="rotate(0 1350.7 481.5)" fill="#f8e71c"/>
<ellipse cx="1371.7" cy="474.9" rx="6.2" ry="6.6" transform="rotate(0 1371.7 474.9)" fill="#f8e71c"/>
<ellipse cx="1366.2" cy="481.5" rx="3.3" ry="2.6" transform="rotate(0 1366.2 481.5)" fill="#f8e71c"/>
<text x="1355.7" y="439.8" font-size="13.5" fill="#fde3c4" text-anchor="middle">LiF</text>
<circle cx="1481.3" cy="348.8" r="3.6" fill="#f06a14" stroke="#e1261c" stroke-width="1.1"/>
<circle cx="1360.7" cy="389.3" r="3.2" fill="#f2960e" stroke="#f8e71c" stroke-width="1.6"/>
<circle cx="1493.7" cy="453.9" r="35.5" fill="#c04a9b" stroke="#1a1a1a" stroke-width="1"/>
<ellipse cx="1494" cy="452.8" rx="25.4" ry="21" fill="#8a1a1c"/>
<ellipse cx="1474.2" cy="458.3" rx="4.0" ry="3.3" transform="rotate(0 1474.2 458.3)" fill="#f8e71c"/>
<ellipse cx="1479.7" cy="453.9" rx="3.3" ry="2.2" transform="rotate(-30 1479.7 453.9)" fill="#f8e71c"/>
<ellipse cx="1487.4" cy="468.2" rx="4.9" ry="4.4" transform="rotate(0 1487.4 468.2)" fill="#f8e71c"/>
<ellipse cx="1501.8" cy="467.1" rx="4.0" ry="6.2" transform="rotate(0 1501.8 467.1)" fill="#f8e71c"/>
<ellipse cx="1513.9" cy="451.0" rx="4.9" ry="4.0" transform="rotate(0 1513.9 451.0)" fill="#f8e71c"/>
<ellipse cx="1507.3" cy="457.2" rx="2.6" ry="2.2" transform="rotate(0 1507.3 457.2)" fill="#f8e71c"/>
<ellipse cx="1506.2" cy="461.6" rx="2.2" ry="3.1" transform="rotate(0 1506.2 461.6)" fill="#f8e71c"/>
<circle cx="1493.6" cy="454.3" r="9.5" fill="#ec6d1b"/>
<text x="1495.5" y="431" font-size="11.5" fill="#f6d3ea" text-anchor="middle">FeF<tspan font-size="8" dy="2.8">2</tspan></text>
<path id="arcR" d="M1476,446 Q1492,433 1513,450" fill="none"/>
<text font-size="10.5" fill="#f3c9c9"><textPath href="#arcR" startOffset="0">Li<tspan font-size="7.5" dy="2.5">2</tspan><tspan dy="-2.5">FeF</tspan><tspan font-size="7.5" dy="2.5">4</tspan></textPath></text>
<text x="1493.6" y="458" font-size="9.5" fill="#fbd9a8" text-anchor="middle">LiF</text>
<path d="M1506.5,458.5 C1510,464 1514,466 1521,469.5" stroke="#fff" stroke-width="1.5" stroke-dasharray="3.2 2" fill="none" marker-end="url(#ahw)"/>
<path d="M1525,474.5 C1531,474 1531,479 1533,482 C1535,485 1537,485.5 1541.5,487" stroke="#111" stroke-width="1.4" fill="none" marker-end="url(#ahk)"/>
<text x="1544.5" y="490.5" font-size="13.5" fill="#111" text-anchor="start">Li<tspan font-size="10.0" dy="-5">+</tspan></text>
<circle cx="1638.8" cy="455" r="33.6" fill="#c04a9b" stroke="#1a1a1a" stroke-width="1"/>
<text x="1639" y="460" font-size="14" fill="#f6d3ea" text-anchor="middle">FeF<tspan font-size="10.4" dy="3.4">2</tspan></text>
<circle cx="1573.9" cy="111.8" r="40.6" fill="#19803f"/>
<circle cx="1576" cy="113.2" r="25" fill="#e7251f"/>
<text x="1575.5" y="87.2" font-size="14" fill="#e2f4e3" text-anchor="middle">FeF<tspan font-size="10.4" dy="3.4">3</tspan></text>
<text x="1575.3" y="117.5" font-size="14" fill="#fdebe6" text-anchor="middle" >A-Li<tspan font-size="10.4" dy="3.4" font-style="italic">x</tspan><tspan dy="-3.4">Fe</tspan><tspan font-size="10.4" dy="3.4" font-style="italic">y</tspan><tspan dy="-3.4">F</tspan><tspan font-size="10.4" dy="3.4">3</tspan></text>
<path d="M1570.6,123.9 C1563,125 1558,130 1549.5,136" stroke="#fff" stroke-width="1.6" stroke-dasharray="3.4 2.2" fill="none" marker-end="url(#ahw)"/>
<path d="M1545.2,139.3 C1540,139 1539,142 1536.5,146 C1534,149 1532,150 1528,151" stroke="#111" stroke-width="1.4" fill="none" marker-end="url(#ahk)"/>
<text x="1505.5" y="161.3" font-size="13.5" fill="#111" text-anchor="start">Li<tspan font-size="10.0" dy="-5">+</tspan></text>
<circle cx="1674.2" cy="29.8" r="3.2" fill="#bd479c"/>
<circle cx="1699.9" cy="82.6" r="2.4" fill="#bd479c"/>
<circle cx="1616.0" cy="71.4" r="2.3" fill="#bd479c"/>
<circle cx="1627.7" cy="64.3" r="2.3" fill="#bd479c"/>
<circle cx="1679.8" cy="34.2" r="2.5" fill="#bd479c"/>
<circle cx="1690.5" cy="15.7" r="2.4" fill="#bd479c"/>
<circle cx="1677.5" cy="92.4" r="2.4" fill="#bd479c"/>
<circle cx="1635.8" cy="26.8" r="2.4" fill="#bd479c"/>
<circle cx="1696.0" cy="85.8" r="3.2" fill="#bd479c"/>
<circle cx="1690.1" cy="17.9" r="2.2" fill="#bd479c"/>
<circle cx="1665.6" cy="26.3" r="3.5" fill="#bd479c"/>
<circle cx="1708.5" cy="53.6" r="2.4" fill="#bd479c"/>
<circle cx="1619.1" cy="57.6" r="2.9" fill="#bd479c"/>
<circle cx="1667.5" cy="81.2" r="2.3" fill="#bd479c"/>
<circle cx="1613.3" cy="47.1" r="2.5" fill="#bd479c"/>
<circle cx="1683.9" cy="32.5" r="2.6" fill="#bd479c"/>
<circle cx="1695.9" cy="45.7" r="2.8" fill="#bd479c"/>
<circle cx="1678.0" cy="22.2" r="2.8" fill="#bd479c"/>
<circle cx="1640.4" cy="19.0" r="2.6" fill="#bd479c"/>
<circle cx="1615.1" cy="47.7" r="3.5" fill="#bd479c"/>
<circle cx="1611.0" cy="38.3" r="2.2" fill="#bd479c"/>
<circle cx="1667.8" cy="86.3" r="2.4" fill="#bd479c"/>
<circle cx="1625.5" cy="80.3" r="2.7" fill="#bd479c"/>
<circle cx="1644.9" cy="23.8" r="2.5" fill="#bd479c"/>
<circle cx="1635.6" cy="78.2" r="3.4" fill="#bd479c"/>
<circle cx="1711.7" cy="54.6" r="3.5" fill="#bd479c"/>
<circle cx="1691.6" cy="24.4" r="2.4" fill="#bd479c"/>
<circle cx="1701.0" cy="42.8" r="2.5" fill="#bd479c"/>
<circle cx="1705.8" cy="41.3" r="2.4" fill="#bd479c"/>
<circle cx="1692.9" cy="43.1" r="2.4" fill="#bd479c"/>
<circle cx="1654.4" cy="85.3" r="3.4" fill="#bd479c"/>
<circle cx="1672.8" cy="13.9" r="3.0" fill="#bd479c"/>
<circle cx="1717.3" cy="41.8" r="2.4" fill="#bd479c"/>
<circle cx="1618.0" cy="33.0" r="2.8" fill="#bd479c"/>
<circle cx="1709.7" cy="79.5" r="3.5" fill="#bd479c"/>
<circle cx="1690.9" cy="79.4" r="3.3" fill="#bd479c"/>
<circle cx="1634.9" cy="70.7" r="2.7" fill="#bd479c"/>
<circle cx="1704.1" cy="24.8" r="3.0" fill="#bd479c"/>
<circle cx="1645.7" cy="87.3" r="3.4" fill="#bd479c"/>
<circle cx="1708.7" cy="25.2" r="2.8" fill="#bd479c"/>
<circle cx="1682.0" cy="17.2" r="2.6" fill="#bd479c"/>
<circle cx="1645.0" cy="81.9" r="3.3" fill="#bd479c"/>
<circle cx="1707.6" cy="31.8" r="2.5" fill="#bd479c"/>
<circle cx="1699.0" cy="33.0" r="2.2" fill="#bd479c"/>
<circle cx="1710.6" cy="54.4" r="3.4" fill="#bd479c"/>
<circle cx="1691.6" cy="40.4" r="3.4" fill="#bd479c"/>
<circle cx="1672.6" cy="22.3" r="3.0" fill="#bd479c"/>
<circle cx="1702.8" cy="58.6" r="2.8" fill="#bd479c"/>
<circle cx="1654.1" cy="90.5" r="3.1" fill="#bd479c"/>
<circle cx="1629.5" cy="44.9" r="2.6" fill="#bd479c"/>
<circle cx="1615.9" cy="59.1" r="3.3" fill="#bd479c"/>
<circle cx="1698.1" cy="44.4" r="2.4" fill="#bd479c"/>
<circle cx="1692.9" cy="83.6" r="2.4" fill="#bd479c"/>
<circle cx="1691.4" cy="29.4" r="2.9" fill="#bd479c"/>
<circle cx="1698.8" cy="29.1" r="3.5" fill="#bd479c"/>
<circle cx="1707.5" cy="44.8" r="3.5" fill="#bd479c"/>
<circle cx="1664.3" cy="92.1" r="3.5" fill="#bd479c"/>
<circle cx="1717.7" cy="58.0" r="2.3" fill="#bd479c"/>
<circle cx="1679.5" cy="83.7" r="2.7" fill="#bd479c"/>
<circle cx="1693.3" cy="33.9" r="2.5" fill="#bd479c"/>
<circle cx="1666.0" cy="28.4" r="3.0" fill="#bd479c"/>
<circle cx="1711.7" cy="30.8" r="2.9" fill="#bd479c"/>
<circle cx="1689.0" cy="75.5" r="2.5" fill="#bd479c"/>
<circle cx="1657.2" cy="20.6" r="3.3" fill="#bd479c"/>
<circle cx="1685.0" cy="25.5" r="2.8" fill="#bd479c"/>
<circle cx="1644.7" cy="80.5" r="2.5" fill="#bd479c"/>
<circle cx="1628.5" cy="27.2" r="3.0" fill="#bd479c"/>
<circle cx="1640.8" cy="27.2" r="2.4" fill="#bd479c"/>
<circle cx="1664.5" cy="29.2" r="2.8" fill="#bd479c"/>
<circle cx="1674.9" cy="25.7" r="2.4" fill="#bd479c"/>
<circle cx="1613.6" cy="74.7" r="2.5" fill="#bd479c"/>
<circle cx="1623.0" cy="89.1" r="3.0" fill="#bd479c"/>
<circle cx="1679.3" cy="94.0" r="2.7" fill="#bd479c"/>
<circle cx="1648.2" cy="87.9" r="3.3" fill="#bd479c"/>
<circle cx="1645.1" cy="96.1" r="2.3" fill="#bd479c"/>
<circle cx="1710.6" cy="43.8" r="2.9" fill="#bd479c"/>
<circle cx="1714.7" cy="69.2" r="2.5" fill="#bd479c"/>
<circle cx="1676.9" cy="82.2" r="2.5" fill="#bd479c"/>
<circle cx="1647.8" cy="93.3" r="2.5" fill="#bd479c"/>
<circle cx="1644.2" cy="85.3" r="2.3" fill="#bd479c"/>
<circle cx="1691.5" cy="76.4" r="3.5" fill="#bd479c"/>
<circle cx="1716.7" cy="61.5" r="3.1" fill="#bd479c"/>
<circle cx="1656.2" cy="30.0" r="3.2" fill="#bd479c"/>
<circle cx="1706.3" cy="46.9" r="2.2" fill="#bd479c"/>
<circle cx="1708.0" cy="79.3" r="3.6" fill="#bd479c"/>
<circle cx="1719.4" cy="44.7" r="2.5" fill="#bd479c"/>
<circle cx="1634.9" cy="33.5" r="3.6" fill="#bd479c"/>
<circle cx="1625.7" cy="28.8" r="2.6" fill="#bd479c"/>
<circle cx="1692.0" cy="18.2" r="2.1" fill="#bd479c"/>
<circle cx="1656.9" cy="82.6" r="3.0" fill="#bd479c"/>
<circle cx="1658.3" cy="90.6" r="3.0" fill="#bd479c"/>
<circle cx="1713.0" cy="62.4" r="2.4" fill="#bd479c"/>
<circle cx="1697.7" cy="58.3" r="2.1" fill="#bd479c"/>
<circle cx="1699.2" cy="49.4" r="3.1" fill="#bd479c"/>
<circle cx="1653.2" cy="97.5" r="2.7" fill="#bd479c"/>
<circle cx="1636.7" cy="92.5" r="3.0" fill="#bd479c"/>
<circle cx="1642.6" cy="79.7" r="2.5" fill="#bd479c"/>
<circle cx="1677.1" cy="26.9" r="3.4" fill="#bd479c"/>
<circle cx="1712.1" cy="64.6" r="2.7" fill="#bd479c"/>
<circle cx="1690.7" cy="35.6" r="3.2" fill="#bd479c"/>
<circle cx="1681.6" cy="21.6" r="3.2" fill="#bd479c"/>
<circle cx="1630.3" cy="70.6" r="2.5" fill="#bd479c"/>
<circle cx="1648.7" cy="94.0" r="3.6" fill="#bd479c"/>
<circle cx="1700.4" cy="79.8" r="2.8" fill="#bd479c"/>
<circle cx="1706.9" cy="48.3" r="3.5" fill="#bd479c"/>
<circle cx="1660.8" cy="23.4" r="3.2" fill="#bd479c"/>
<circle cx="1622.1" cy="72.8" r="2.2" fill="#bd479c"/>
<circle cx="1721.6" cy="60.6" r="2.8" fill="#bd479c"/>
<circle cx="1661.4" cy="20.6" r="3.4" fill="#bd479c"/>
<circle cx="1609.1" cy="53.9" r="2.9" fill="#bd479c"/>
<circle cx="1626.9" cy="57.0" r="2.6" fill="#bd479c"/>
<circle cx="1660.9" cy="82.2" r="2.5" fill="#bd479c"/>
<circle cx="1712.7" cy="32.5" r="3.1" fill="#bd479c"/>
<circle cx="1696.0" cy="68.5" r="2.9" fill="#bd479c"/>
<circle cx="1705.9" cy="52.0" r="2.2" fill="#bd479c"/>
<circle cx="1712.8" cy="83.9" r="2.3" fill="#bd479c"/>
<circle cx="1659.7" cy="85.4" r="3.5" fill="#bd479c"/>
<circle cx="1652.8" cy="27.8" r="2.3" fill="#bd479c"/>
<circle cx="1674.5" cy="27.3" r="3.4" fill="#bd479c"/>
<circle cx="1648.4" cy="97.5" r="2.7" fill="#bd479c"/>
<circle cx="1719.1" cy="46.9" r="2.1" fill="#bd479c"/>
<circle cx="1629.1" cy="23.9" r="2.7" fill="#bd479c"/>
<circle cx="1717.0" cy="68.8" r="2.8" fill="#bd479c"/>
<circle cx="1664.9" cy="23.4" r="3.4" fill="#bd479c"/>
<circle cx="1711.5" cy="64.9" r="3.3" fill="#bd479c"/>
<ellipse cx="1630.4" cy="37.4" rx="6.5" ry="5.7" fill="#e7251f" stroke="#19803f" stroke-width="1.6"/>
<ellipse cx="1645.6" cy="38.0" rx="7.7" ry="5.1" fill="#e7251f" stroke="#19803f" stroke-width="1.6"/>
<ellipse cx="1655.1" cy="31.9" rx="3.0" ry="2.4" fill="#e7251f" stroke="#19803f" stroke-width="1.6"/>
<ellipse cx="1665.2" cy="37.8" rx="5.1" ry="5.7" fill="#e7251f" stroke="#19803f" stroke-width="1.6"/>
<ellipse cx="1672.9" cy="30.3" rx="3.0" ry="2.4" fill="#e7251f" stroke="#19803f" stroke-width="1.6"/>
<ellipse cx="1681.0" cy="38.4" rx="5.7" ry="6.1" fill="#e7251f" stroke="#19803f" stroke-width="1.6"/>
<ellipse cx="1694.7" cy="43.5" rx="6.5" ry="5.7" fill="#e7251f" stroke="#19803f" stroke-width="1.6"/>
<ellipse cx="1628.4" cy="48.9" rx="3.0" ry="2.4" fill="#e7251f" stroke="#19803f" stroke-width="1.6"/>
<ellipse cx="1645.6" cy="51.5" rx="7.7" ry="5.7" fill="#e7251f" stroke="#19803f" stroke-width="1.6"/>
<ellipse cx="1658.7" cy="44.1" rx="2.4" ry="2.4" fill="#e7251f" stroke="#19803f" stroke-width="1.6"/>
<ellipse cx="1664.8" cy="51.5" rx="5.1" ry="4.0" fill="#e7251f" stroke="#19803f" stroke-width="1.6"/>
<ellipse cx="1671.9" cy="45.5" rx="2.4" ry="2.4" fill="#e7251f" stroke="#19803f" stroke-width="1.6"/>
<ellipse cx="1680.0" cy="53.6" rx="5.7" ry="5.7" fill="#e7251f" stroke="#19803f" stroke-width="1.6"/>
<ellipse cx="1696.7" cy="55.0" rx="6.1" ry="6.1" fill="#e7251f" stroke="#19803f" stroke-width="1.6"/>
<ellipse cx="1630.4" cy="60.6" rx="7.1" ry="6.5" fill="#e7251f" stroke="#19803f" stroke-width="1.6"/>
<ellipse cx="1642.2" cy="65.7" rx="6.1" ry="4.4" fill="#e7251f" stroke="#19803f" stroke-width="1.6"/>
<ellipse cx="1661.8" cy="61.7" rx="6.5" ry="5.1" fill="#e7251f" stroke="#19803f" stroke-width="1.6"/>
<ellipse cx="1678.9" cy="65.7" rx="6.5" ry="5.1" fill="#e7251f" stroke="#19803f" stroke-width="1.6"/>
<ellipse cx="1688.0" cy="61.7" rx="3.6" ry="3.0" fill="#e7251f" stroke="#19803f" stroke-width="1.6"/>
<ellipse cx="1696.1" cy="69.7" rx="6.5" ry="4.0" fill="#e7251f" stroke="#19803f" stroke-width="1.6"/>
<ellipse cx="1630.4" cy="74.8" rx="5.1" ry="4.4" fill="#e7251f" stroke="#19803f" stroke-width="1.6"/>
<ellipse cx="1644.6" cy="75.8" rx="5.7" ry="4.4" fill="#e7251f" stroke="#19803f" stroke-width="1.6"/>
<ellipse cx="1656.7" cy="70.7" rx="5.7" ry="4.4" fill="#e7251f" stroke="#19803f" stroke-width="1.6"/>
<ellipse cx="1659.7" cy="79.8" rx="3.6" ry="2.4" fill="#e7251f" stroke="#19803f" stroke-width="1.6"/>
<ellipse cx="1672.9" cy="76.4" rx="7.1" ry="5.7" fill="#e7251f" stroke="#19803f" stroke-width="1.6"/>
<ellipse cx="1688.0" cy="78.8" rx="5.1" ry="4.4" fill="#e7251f" stroke="#19803f" stroke-width="1.6"/>
<circle cx="1694.3" cy="195.4" r="2.3" fill="#bd479c"/>
<circle cx="1779.3" cy="146.3" r="2.4" fill="#bd479c"/>
<circle cx="1783.2" cy="158.2" r="3.0" fill="#bd479c"/>
<circle cx="1758.3" cy="146.5" r="2.3" fill="#bd479c"/>
<circle cx="1692.2" cy="186.2" r="2.9" fill="#bd479c"/>
<circle cx="1714.6" cy="201.3" r="2.5" fill="#bd479c"/>
<circle cx="1740.5" cy="192.7" r="2.3" fill="#bd479c"/>
<circle cx="1721.8" cy="143.6" r="3.2" fill="#bd479c"/>
<circle cx="1701.3" cy="194.7" r="2.5" fill="#bd479c"/>
<circle cx="1684.5" cy="164.5" r="2.7" fill="#bd479c"/>
<circle cx="1711.9" cy="189.6" r="2.4" fill="#bd479c"/>
<circle cx="1749.7" cy="195.6" r="2.8" fill="#bd479c"/>
<circle cx="1730.8" cy="203.4" r="2.4" fill="#bd479c"/>
<circle cx="1711.5" cy="130.7" r="3.1" fill="#bd479c"/>
<circle cx="1731.9" cy="204.5" r="2.3" fill="#bd479c"/>
<circle cx="1708.5" cy="151.2" r="3.5" fill="#bd479c"/>
<circle cx="1687.8" cy="196.7" r="2.8" fill="#bd479c"/>
<circle cx="1680.6" cy="167.1" r="2.3" fill="#bd479c"/>
<circle cx="1757.9" cy="185.4" r="2.9" fill="#bd479c"/>
<circle cx="1693.0" cy="181.3" r="2.7" fill="#bd479c"/>
<circle cx="1748.7" cy="131.0" r="3.5" fill="#bd479c"/>
<circle cx="1719.0" cy="140.3" r="2.2" fill="#bd479c"/>
<circle cx="1711.9" cy="146.2" r="3.1" fill="#bd479c"/>
<circle cx="1699.2" cy="157.9" r="3.1" fill="#bd479c"/>
<circle cx="1722.7" cy="136.5" r="2.2" fill="#bd479c"/>
<circle cx="1735.4" cy="209.2" r="2.6" fill="#bd479c"/>
<circle cx="1729.2" cy="139.9" r="3.1" fill="#bd479c"/>
<circle cx="1730.0" cy="193.4" r="2.5" fill="#bd479c"/>
<circle cx="1690.0" cy="165.1" r="2.3" fill="#bd479c"/>
<circle cx="1751.5" cy="183.7" r="3.0" fill="#bd479c"/>
<circle cx="1754.8" cy="192.7" r="2.3" fill="#bd479c"/>
<circle cx="1710.4" cy="127.7" r="2.5" fill="#bd479c"/>
<circle cx="1754.5" cy="147.1" r="3.6" fill="#bd479c"/>
<circle cx="1756.1" cy="198.2" r="3.1" fill="#bd479c"/>
<circle cx="1691.6" cy="198.9" r="2.5" fill="#bd479c"/>
<circle cx="1678.8" cy="153.8" r="2.4" fill="#bd479c"/>
<circle cx="1776.7" cy="191.4" r="3.1" fill="#bd479c"/>
<circle cx="1746.8" cy="205.5" r="2.6" fill="#bd479c"/>
<circle cx="1740.4" cy="142.4" r="2.5" fill="#bd479c"/>
<circle cx="1695.0" cy="169.3" r="2.5" fill="#bd479c"/>
<circle cx="1761.0" cy="184.2" r="3.3" fill="#bd479c"/>
<circle cx="1732.5" cy="144.7" r="3.5" fill="#bd479c"/>
<circle cx="1706.8" cy="158.0" r="3.2" fill="#bd479c"/>
<circle cx="1766.5" cy="165.0" r="3.2" fill="#bd479c"/>
<circle cx="1698.1" cy="162.3" r="2.6" fill="#bd479c"/>
<circle cx="1708.6" cy="154.3" r="3.2" fill="#bd479c"/>
<circle cx="1756.9" cy="141.0" r="2.5" fill="#bd479c"/>
<circle cx="1762.6" cy="179.9" r="3.1" fill="#bd479c"/>
<circle cx="1704.8" cy="128.3" r="3.1" fill="#bd479c"/>
<circle cx="1699.9" cy="152.3" r="2.3" fill="#bd479c"/>
<circle cx="1763.9" cy="187.1" r="2.8" fill="#bd479c"/>
<circle cx="1715.7" cy="146.5" r="2.8" fill="#bd479c"/>
<circle cx="1754.5" cy="200.9" r="3.4" fill="#bd479c"/>
<circle cx="1772.0" cy="161.2" r="2.7" fill="#bd479c"/>
<circle cx="1691.8" cy="147.4" r="3.5" fill="#bd479c"/>
<circle cx="1770.4" cy="151.8" r="3.4" fill="#bd479c"/>
<circle cx="1774.7" cy="160.2" r="2.4" fill="#bd479c"/>
<circle cx="1761.3" cy="155.6" r="2.3" fill="#bd479c"/>
<circle cx="1776.0" cy="161.2" r="2.7" fill="#bd479c"/>
<circle cx="1741.3" cy="145.2" r="2.1" fill="#bd479c"/>
<circle cx="1675.3" cy="155.3" r="2.8" fill="#bd479c"/>
<circle cx="1744.6" cy="139.4" r="2.1" fill="#bd479c"/>
<circle cx="1707.2" cy="140.4" r="3.4" fill="#bd479c"/>
<circle cx="1776.7" cy="143.3" r="2.4" fill="#bd479c"/>
<circle cx="1678.1" cy="151.3" r="2.6" fill="#bd479c"/>
<circle cx="1687.8" cy="141.5" r="2.7" fill="#bd479c"/>
<circle cx="1715.0" cy="201.5" r="2.3" fill="#bd479c"/>
<circle cx="1770.8" cy="144.2" r="3.0" fill="#bd479c"/>
<circle cx="1716.6" cy="126.3" r="2.4" fill="#bd479c"/>
<circle cx="1761.7" cy="164.7" r="3.6" fill="#bd479c"/>
<circle cx="1744.6" cy="190.7" r="3.4" fill="#bd479c"/>
<circle cx="1764.4" cy="132.1" r="2.6" fill="#bd479c"/>
<circle cx="1726.2" cy="141.5" r="2.1" fill="#bd479c"/>
<circle cx="1716.0" cy="197.9" r="2.4" fill="#bd479c"/>
<circle cx="1773.2" cy="154.1" r="2.6" fill="#bd479c"/>
<circle cx="1706.1" cy="130.3" r="2.7" fill="#bd479c"/>
<circle cx="1686.9" cy="180.1" r="2.9" fill="#bd479c"/>
<circle cx="1711.0" cy="151.6" r="3.4" fill="#bd479c"/>
<circle cx="1782.1" cy="154.4" r="2.8" fill="#bd479c"/>
<circle cx="1719.9" cy="143.2" r="3.3" fill="#bd479c"/>
<circle cx="1725.7" cy="195.4" r="2.7" fill="#bd479c"/>
<circle cx="1782.5" cy="182.4" r="2.6" fill="#bd479c"/>
<circle cx="1696.3" cy="138.1" r="3.1" fill="#bd479c"/>
<circle cx="1752.4" cy="145.5" r="3.1" fill="#bd479c"/>
<circle cx="1689.4" cy="176.3" r="2.4" fill="#bd479c"/>
<circle cx="1736.2" cy="134.7" r="2.8" fill="#bd479c"/>
<circle cx="1743.7" cy="134.7" r="2.6" fill="#bd479c"/>
<circle cx="1743.7" cy="190.9" r="3.0" fill="#bd479c"/>
<circle cx="1699.1" cy="161.5" r="3.3" fill="#bd479c"/>
<circle cx="1738.0" cy="188.5" r="2.6" fill="#bd479c"/>
<circle cx="1724.7" cy="207.4" r="2.2" fill="#bd479c"/>
<circle cx="1743.1" cy="125.9" r="2.9" fill="#bd479c"/>
<circle cx="1704.2" cy="196.6" r="2.4" fill="#bd479c"/>
<circle cx="1767.5" cy="168.3" r="2.1" fill="#bd479c"/>
<circle cx="1774.6" cy="161.3" r="3.3" fill="#bd479c"/>
<circle cx="1771.5" cy="140.7" r="3.4" fill="#bd479c"/>
<circle cx="1744.5" cy="133.5" r="2.3" fill="#bd479c"/>
<circle cx="1707.1" cy="147.3" r="3.5" fill="#bd479c"/>
<circle cx="1776.3" cy="198.7" r="2.9" fill="#bd479c"/>
<circle cx="1705.7" cy="203.6" r="2.3" fill="#bd479c"/>
<circle cx="1771.4" cy="135.5" r="2.9" fill="#bd479c"/>
<circle cx="1725.5" cy="140.1" r="3.5" fill="#bd479c"/>
<circle cx="1705.8" cy="187.8" r="3.3" fill="#bd479c"/>
<circle cx="1702.0" cy="183.5" r="2.7" fill="#bd479c"/>
<circle cx="1699.3" cy="141.9" r="3.5" fill="#bd479c"/>
<circle cx="1730.6" cy="125.3" r="3.0" fill="#bd479c"/>
<circle cx="1714.3" cy="141.2" r="2.6" fill="#bd479c"/>
<circle cx="1756.7" cy="180.2" r="2.7" fill="#bd479c"/>
<circle cx="1733.3" cy="136.4" r="3.5" fill="#bd479c"/>
<circle cx="1762.9" cy="140.2" r="3.2" fill="#bd479c"/>
<circle cx="1713.9" cy="193.7" r="2.2" fill="#bd479c"/>
<circle cx="1705.2" cy="178.3" r="2.8" fill="#bd479c"/>
<circle cx="1698.6" cy="161.1" r="2.1" fill="#bd479c"/>
<circle cx="1764.2" cy="145.1" r="3.3" fill="#bd479c"/>
<circle cx="1744.7" cy="133.9" r="3.3" fill="#bd479c"/>
<circle cx="1707.0" cy="198.1" r="3.3" fill="#bd479c"/>
<circle cx="1750.6" cy="193.9" r="2.8" fill="#bd479c"/>
<circle cx="1685.4" cy="158.8" r="2.9" fill="#bd479c"/>
<circle cx="1690.8" cy="142.2" r="3.4" fill="#bd479c"/>
<circle cx="1717.8" cy="136.0" r="2.4" fill="#bd479c"/>
<circle cx="1739.3" cy="139.5" r="2.8" fill="#bd479c"/>
<circle cx="1730.9" cy="195.8" r="2.1" fill="#bd479c"/>
<circle cx="1760.7" cy="172.6" r="2.9" fill="#bd479c"/>
<circle cx="1698.6" cy="191.0" r="2.6" fill="#bd479c"/>
<circle cx="1756.1" cy="142.9" r="3.0" fill="#bd479c"/>
<circle cx="1728.2" cy="128.7" r="3.1" fill="#bd479c"/>
<circle cx="1691.3" cy="170.9" r="3.2" fill="#bd479c"/>
<circle cx="1685.4" cy="196.0" r="2.4" fill="#bd479c"/>
<circle cx="1729.3" cy="144.8" r="2.6" fill="#bd479c"/>
<circle cx="1763.1" cy="185.9" r="2.3" fill="#bd479c"/>
<circle cx="1711.2" cy="132.4" r="3.1" fill="#bd479c"/>
<circle cx="1697.6" cy="126.2" r="3.1" fill="#bd479c"/>
<circle cx="1723.4" cy="189.9" r="3.3" fill="#bd479c"/>
<circle cx="1727.8" cy="138.5" r="2.7" fill="#bd479c"/>
<circle cx="1774.7" cy="158.5" r="3.1" fill="#bd479c"/>
<circle cx="1739.0" cy="144.3" r="2.9" fill="#bd479c"/>
<circle cx="1769.3" cy="163.9" r="2.3" fill="#bd479c"/>
<circle cx="1707.9" cy="185.0" r="3.2" fill="#bd479c"/>
<circle cx="1697.1" cy="178.9" r="3.1" fill="#bd479c"/>
<circle cx="1712.0" cy="134.2" r="3.1" fill="#bd479c"/>
<circle cx="1706.4" cy="191.8" r="2.6" fill="#bd479c"/>
<circle cx="1735.7" cy="193.3" r="2.3" fill="#bd479c"/>
<circle cx="1756.6" cy="128.9" r="2.9" fill="#bd479c"/>
<circle cx="1715.7" cy="138.6" r="2.7" fill="#bd479c"/>
<circle cx="1687.8" cy="168.5" r="2.6" fill="#bd479c"/>
<circle cx="1783.3" cy="156.3" r="3.1" fill="#bd479c"/>
<circle cx="1768.1" cy="157.2" r="3.2" fill="#bd479c"/>
<circle cx="1705.5" cy="132.5" r="2.2" fill="#bd479c"/>
<circle cx="1724.7" cy="199.0" r="2.4" fill="#bd479c"/>
<circle cx="1723.8" cy="189.4" r="2.5" fill="#bd479c"/>
<circle cx="1691.2" cy="168.2" r="2.7" fill="#bd479c"/>
<circle cx="1700.9" cy="171.8" r="2.7" fill="#bd479c"/>
<circle cx="1677.8" cy="161.7" r="2.7" fill="#bd479c"/>
<circle cx="1754.3" cy="128.5" r="2.4" fill="#bd479c"/>
<circle cx="1688.3" cy="164.2" r="2.1" fill="#bd479c"/>
<circle cx="1691.1" cy="142.4" r="2.2" fill="#bd479c"/>
<circle cx="1684.2" cy="139.9" r="3.0" fill="#bd479c"/>
<circle cx="1721.1" cy="144.9" r="2.5" fill="#bd479c"/>
<circle cx="1757.9" cy="131.5" r="2.7" fill="#bd479c"/>
<circle cx="1741.5" cy="198.1" r="2.3" fill="#bd479c"/>
<circle cx="1681.2" cy="183.3" r="2.4" fill="#bd479c"/>
<circle cx="1730.1" cy="139.2" r="2.8" fill="#bd479c"/>
<circle cx="1705.8" cy="174.0" r="2.5" fill="#bd479c"/>
<circle cx="1705.1" cy="178.9" r="2.2" fill="#bd479c"/>
<circle cx="1764.5" cy="166.1" r="2.4" fill="#bd479c"/>
<circle cx="1687.0" cy="167.3" r="2.9" fill="#bd479c"/>
<circle cx="1755.3" cy="155.5" r="2.7" fill="#bd479c"/>
<circle cx="1774.9" cy="146.8" r="3.6" fill="#bd479c"/>
<circle cx="1780.6" cy="145.4" r="2.3" fill="#bd479c"/>
<circle cx="1765.5" cy="171.5" r="2.2" fill="#bd479c"/>
<circle cx="1771.6" cy="138.3" r="3.0" fill="#bd479c"/>
<circle cx="1695.9" cy="163.2" r="3.2" fill="#bd479c"/>
<circle cx="1684.8" cy="180.5" r="2.3" fill="#bd479c"/>
<circle cx="1782.5" cy="157.0" r="2.8" fill="#bd479c"/>
<circle cx="1757.7" cy="179.6" r="2.7" fill="#bd479c"/>
<circle cx="1695.2" cy="205.6" r="3.1" fill="#bd479c"/>
<circle cx="1726.6" cy="196.0" r="2.5" fill="#bd479c"/>
<circle cx="1757.9" cy="185.2" r="3.5" fill="#bd479c"/>
<circle cx="1768.2" cy="199.5" r="2.6" fill="#bd479c"/>
<circle cx="1764.3" cy="196.3" r="3.4" fill="#bd479c"/>
<circle cx="1749.6" cy="137.8" r="2.3" fill="#bd479c"/>
<circle cx="1738.2" cy="141.4" r="2.6" fill="#bd479c"/>
<circle cx="1685.6" cy="136.5" r="3.0" fill="#bd479c"/>
<circle cx="1711.2" cy="196.8" r="2.6" fill="#bd479c"/>
<circle cx="1704.2" cy="157.3" r="2.1" fill="#bd479c"/>
<circle cx="1731.0" cy="144.4" r="2.5" fill="#bd479c"/>
<circle cx="1783.6" cy="155.4" r="2.2" fill="#bd479c"/>
<circle cx="1754.3" cy="193.4" r="3.1" fill="#bd479c"/>
<circle cx="1736.1" cy="193.7" r="2.3" fill="#bd479c"/>
<circle cx="1735.0" cy="146.1" r="2.7" fill="#bd479c"/>
<circle cx="1695.6" cy="184.6" r="3.0" fill="#bd479c"/>
<circle cx="1762.1" cy="177.7" r="3.0" fill="#bd479c"/>
<circle cx="1778.2" cy="193.7" r="3.1" fill="#bd479c"/>
<circle cx="1715.9" cy="131.9" r="2.6" fill="#bd479c"/>
<circle cx="1753.8" cy="204.0" r="3.1" fill="#bd479c"/>
<circle cx="1761.9" cy="161.8" r="2.8" fill="#bd479c"/>
<circle cx="1759.8" cy="150.6" r="2.3" fill="#bd479c"/>
<circle cx="1744.0" cy="193.4" r="2.5" fill="#bd479c"/>
<circle cx="1751.3" cy="200.7" r="2.3" fill="#bd479c"/>
<circle cx="1689.3" cy="165.9" r="2.6" fill="#bd479c"/>
<circle cx="1724.4" cy="192.0" r="3.0" fill="#bd479c"/>
<circle cx="1781.8" cy="159.0" r="2.7" fill="#bd479c"/>
<circle cx="1700.9" cy="149.5" r="2.8" fill="#bd479c"/>
<circle cx="1680.3" cy="159.8" r="3.1" fill="#bd479c"/>
<circle cx="1768.6" cy="174.0" r="3.0" fill="#bd479c"/>
<circle cx="1744.1" cy="128.7" r="2.7" fill="#bd479c"/>
<circle cx="1685.5" cy="186.6" r="3.0" fill="#bd479c"/>
<circle cx="1687.1" cy="175.1" r="3.4" fill="#bd479c"/>
<circle cx="1749.1" cy="147.1" r="3.5" fill="#bd479c"/>
<circle cx="1707.4" cy="189.2" r="3.0" fill="#bd479c"/>
<circle cx="1778.9" cy="172.3" r="2.9" fill="#bd479c"/>
<circle cx="1756.1" cy="207.3" r="2.8" fill="#bd479c"/>
<circle cx="1710.2" cy="199.2" r="2.2" fill="#bd479c"/>
<circle cx="1747.2" cy="192.6" r="2.5" fill="#bd479c"/>
<circle cx="1717.1" cy="142.7" r="3.2" fill="#bd479c"/>
<circle cx="1781.9" cy="190.8" r="2.6" fill="#bd479c"/>
<circle cx="1764.8" cy="138.2" r="2.9" fill="#bd479c"/>
<circle cx="1704.6" cy="165.9" r="3.5" fill="#bd479c"/>
<circle cx="1692.4" cy="196.1" r="2.9" fill="#bd479c"/>
<circle cx="1711.2" cy="136.6" r="2.3" fill="#bd479c"/>
<circle cx="1708.3" cy="184.0" r="3.0" fill="#bd479c"/>
<circle cx="1687.8" cy="192.7" r="2.3" fill="#bd479c"/>
<circle cx="1766.7" cy="194.4" r="2.4" fill="#bd479c"/>
<circle cx="1767.3" cy="131.5" r="2.8" fill="#bd479c"/>
<circle cx="1711.0" cy="195.6" r="3.5" fill="#bd479c"/>
<circle cx="1709.4" cy="182.5" r="3.1" fill="#bd479c"/>
<circle cx="1769.9" cy="172.3" r="2.5" fill="#bd479c"/>
<circle cx="1702.4" cy="170.2" r="2.3" fill="#bd479c"/>
<circle cx="1752.8" cy="181.6" r="2.3" fill="#bd479c"/>
<circle cx="1762.0" cy="189.7" r="2.6" fill="#bd479c"/>
<ellipse cx="1759.1" cy="143.2" rx="5.6" ry="4.8" transform="rotate(6 1759.1 143.2)" fill="#e7251f"/>
<ellipse cx="1701.7" cy="150.6" rx="5.1" ry="4.2" transform="rotate(53 1701.7 150.6)" fill="#e7251f"/>
<ellipse cx="1708.6" cy="151.6" rx="5.5" ry="4.4" transform="rotate(156 1708.6 151.6)" fill="#e7251f"/>
<ellipse cx="1719.4" cy="150.4" rx="6.6" ry="6.5" transform="rotate(81 1719.4 150.4)" fill="#e7251f"/>
<ellipse cx="1728.3" cy="152.1" rx="5.3" ry="4.0" transform="rotate(90 1728.3 152.1)" fill="#e7251f"/>
<ellipse cx="1738.4" cy="149.0" rx="6.8" ry="5.8" transform="rotate(69 1738.4 149.0)" fill="#e7251f"/>
<ellipse cx="1747.9" cy="152.2" rx="5.0" ry="4.5" transform="rotate(133 1747.9 152.2)" fill="#e7251f"/>
<ellipse cx="1757.5" cy="151.2" rx="5.8" ry="4.7" transform="rotate(80 1757.5 151.2)" fill="#e7251f"/>
<ellipse cx="1764.7" cy="152.3" rx="6.7" ry="5.7" transform="rotate(174 1764.7 152.3)" fill="#e7251f"/>
<ellipse cx="1702.9" cy="160.0" rx="5.5" ry="5.3" transform="rotate(38 1702.9 160.0)" fill="#e7251f"/>
<ellipse cx="1715.3" cy="158.4" rx="5.2" ry="4.9" transform="rotate(132 1715.3 158.4)" fill="#e7251f"/>
<ellipse cx="1721.6" cy="160.6" rx="5.6" ry="4.6" transform="rotate(104 1721.6 160.6)" fill="#e7251f"/>
<ellipse cx="1734.3" cy="160.5" rx="5.5" ry="4.1" transform="rotate(12 1734.3 160.5)" fill="#e7251f"/>
<ellipse cx="1741.9" cy="158.9" rx="6.8" ry="5.7" transform="rotate(63 1741.9 158.9)" fill="#e7251f"/>
<ellipse cx="1750.6" cy="157.1" rx="6.0" ry="5.2" transform="rotate(77 1750.6 157.1)" fill="#e7251f"/>
<ellipse cx="1759.1" cy="157.7" rx="5.7" ry="5.7" transform="rotate(101 1759.1 157.7)" fill="#e7251f"/>
<ellipse cx="1768.1" cy="156.5" rx="5.5" ry="5.2" transform="rotate(160 1768.1 156.5)" fill="#e7251f"/>
<ellipse cx="1700.1" cy="166.7" rx="4.9" ry="3.6" transform="rotate(120 1700.1 166.7)" fill="#e7251f"/>
<ellipse cx="1710.4" cy="166.0" rx="6.4" ry="5.2" transform="rotate(12 1710.4 166.0)" fill="#e7251f"/>
<ellipse cx="1719.0" cy="167.2" rx="4.9" ry="4.2" transform="rotate(6 1719.0 167.2)" fill="#e7251f"/>
<ellipse cx="1729.0" cy="167.1" rx="5.7" ry="4.5" transform="rotate(33 1729.0 167.1)" fill="#e7251f"/>
<ellipse cx="1735.8" cy="167.9" rx="6.2" ry="5.1" transform="rotate(145 1735.8 167.9)" fill="#e7251f"/>
<ellipse cx="1746.8" cy="167.2" rx="5.9" ry="4.6" transform="rotate(175 1746.8 167.2)" fill="#e7251f"/>
<ellipse cx="1756.4" cy="166.7" rx="5.0" ry="4.1" transform="rotate(42 1756.4 166.7)" fill="#e7251f"/>
<ellipse cx="1766.3" cy="164.4" rx="6.5" ry="6.1" transform="rotate(129 1766.3 164.4)" fill="#e7251f"/>
<ellipse cx="1696.8" cy="173.9" rx="5.9" ry="5.6" transform="rotate(177 1696.8 173.9)" fill="#e7251f"/>
<ellipse cx="1715.9" cy="172.4" rx="5.6" ry="5.2" transform="rotate(57 1715.9 172.4)" fill="#e7251f"/>
<ellipse cx="1722.1" cy="175.8" rx="6.3" ry="5.4" transform="rotate(7 1722.1 175.8)" fill="#e7251f"/>
<ellipse cx="1733.8" cy="173.3" rx="4.8" ry="3.8" transform="rotate(120 1733.8 173.3)" fill="#e7251f"/>
<ellipse cx="1743.0" cy="175.1" rx="6.3" ry="5.7" transform="rotate(37 1743.0 175.1)" fill="#e7251f"/>
<ellipse cx="1751.2" cy="174.9" rx="5.2" ry="4.2" transform="rotate(62 1751.2 174.9)" fill="#e7251f"/>
<ellipse cx="1758.4" cy="173.8" rx="6.0" ry="4.6" transform="rotate(132 1758.4 173.8)" fill="#e7251f"/>
<ellipse cx="1767.7" cy="175.6" rx="5.0" ry="3.9" transform="rotate(93 1767.7 175.6)" fill="#e7251f"/>
<ellipse cx="1702.3" cy="181.6" rx="6.2" ry="5.4" transform="rotate(46 1702.3 181.6)" fill="#e7251f"/>
<ellipse cx="1718.1" cy="181.7" rx="5.7" ry="5.5" transform="rotate(4 1718.1 181.7)" fill="#e7251f"/>
<ellipse cx="1739.0" cy="181.5" rx="5.0" ry="4.1" transform="rotate(22 1739.0 181.5)" fill="#e7251f"/>
<ellipse cx="1745.0" cy="181.4" rx="5.7" ry="4.6" transform="rotate(95 1745.0 181.4)" fill="#e7251f"/>
<ellipse cx="1756.8" cy="183.5" rx="6.6" ry="6.2" transform="rotate(101 1756.8 183.5)" fill="#e7251f"/>
<ellipse cx="1764.7" cy="181.8" rx="6.6" ry="5.9" transform="rotate(18 1764.7 181.8)" fill="#e7251f"/>
<ellipse cx="1706.5" cy="189.9" rx="6.1" ry="4.7" transform="rotate(113 1706.5 189.9)" fill="#e7251f"/>
<ellipse cx="1730.6" cy="189.5" rx="5.1" ry="4.4" transform="rotate(31 1730.6 189.5)" fill="#e7251f"/>
<ellipse cx="1743.1" cy="188.7" rx="6.5" ry="4.9" transform="rotate(39 1743.1 188.7)" fill="#e7251f"/>
<ellipse cx="1752.2" cy="190.4" rx="5.5" ry="4.6" transform="rotate(172 1752.2 190.4)" fill="#e7251f"/>
<text x="1733" y="174.8" font-size="14" fill="#fdebe6" text-anchor="middle" >A-Li<tspan font-size="10.4" dy="3.4" font-style="italic">x</tspan><tspan dy="-3.4">Fe</tspan><tspan font-size="10.4" dy="3.4" font-style="italic">y</tspan><tspan dy="-3.4">F</tspan><tspan font-size="10.4" dy="3.4">3</tspan></text>
<circle cx="1591.6" cy="271.8" r="2.7" fill="#bd479c"/>
<circle cx="1589.9" cy="266.2" r="2.6" fill="#bd479c"/>
<circle cx="1665.1" cy="201.8" r="2.9" fill="#bd479c"/>
<circle cx="1632.7" cy="268.7" r="2.6" fill="#bd479c"/>
<circle cx="1641.2" cy="200.2" r="3.0" fill="#bd479c"/>
<circle cx="1659.7" cy="261.3" r="3.0" fill="#bd479c"/>
<circle cx="1672.5" cy="221.9" r="2.1" fill="#bd479c"/>
<circle cx="1663.8" cy="216.3" r="2.3" fill="#bd479c"/>
<circle cx="1682.1" cy="255.8" r="3.0" fill="#bd479c"/>
<circle cx="1593.2" cy="234.0" r="3.5" fill="#bd479c"/>
<circle cx="1662.9" cy="201.7" r="2.6" fill="#bd479c"/>
<circle cx="1594.8" cy="242.6" r="3.3" fill="#bd479c"/>
<circle cx="1608.9" cy="218.8" r="2.8" fill="#bd479c"/>
<circle cx="1681.2" cy="242.5" r="2.9" fill="#bd479c"/>
<circle cx="1592.4" cy="234.4" r="2.2" fill="#bd479c"/>
<circle cx="1684.8" cy="240.1" r="3.4" fill="#bd479c"/>
<circle cx="1658.9" cy="261.5" r="3.2" fill="#bd479c"/>
<circle cx="1613.0" cy="261.4" r="2.4" fill="#bd479c"/>
<circle cx="1668.0" cy="212.6" r="2.6" fill="#bd479c"/>
<circle cx="1673.6" cy="268.0" r="3.6" fill="#bd479c"/>
<circle cx="1591.7" cy="216.3" r="3.2" fill="#bd479c"/>
<circle cx="1664.5" cy="254.4" r="3.3" fill="#bd479c"/>
<circle cx="1684.8" cy="254.4" r="3.0" fill="#bd479c"/>
<circle cx="1635.3" cy="263.8" r="3.0" fill="#bd479c"/>
<circle cx="1593.0" cy="235.0" r="2.7" fill="#bd479c"/>
<circle cx="1620.6" cy="218.8" r="2.1" fill="#bd479c"/>
<circle cx="1615.6" cy="203.1" r="2.4" fill="#bd479c"/>
<circle cx="1607.6" cy="258.7" r="3.3" fill="#bd479c"/>
<circle cx="1605.1" cy="267.4" r="3.4" fill="#bd479c"/>
<circle cx="1677.5" cy="208.0" r="2.9" fill="#bd479c"/>
<circle cx="1631.3" cy="210.6" r="2.2" fill="#bd479c"/>
<circle cx="1662.9" cy="204.0" r="2.6" fill="#bd479c"/>
<circle cx="1649.5" cy="206.7" r="3.0" fill="#bd479c"/>
<circle cx="1626.8" cy="219.7" r="3.5" fill="#bd479c"/>
<circle cx="1662.7" cy="208.6" r="2.4" fill="#bd479c"/>
<circle cx="1672.4" cy="213.8" r="3.2" fill="#bd479c"/>
<circle cx="1616.4" cy="280.2" r="2.7" fill="#bd479c"/>
<circle cx="1590.9" cy="233.7" r="3.0" fill="#bd479c"/>
<circle cx="1643.0" cy="212.9" r="2.6" fill="#bd479c"/>
<circle cx="1649.7" cy="276.4" r="2.9" fill="#bd479c"/>
<circle cx="1607.5" cy="249.0" r="2.5" fill="#bd479c"/>
<circle cx="1668.7" cy="211.6" r="2.5" fill="#bd479c"/>
<circle cx="1628.9" cy="277.0" r="2.3" fill="#bd479c"/>
<circle cx="1600.3" cy="209.5" r="2.6" fill="#bd479c"/>
<circle cx="1623.8" cy="264.1" r="2.7" fill="#bd479c"/>
<circle cx="1667.8" cy="276.6" r="3.5" fill="#bd479c"/>
<circle cx="1609.5" cy="209.8" r="3.4" fill="#bd479c"/>
<circle cx="1619.7" cy="258.8" r="2.8" fill="#bd479c"/>
<circle cx="1639.1" cy="216.0" r="2.4" fill="#bd479c"/>
<circle cx="1617.0" cy="257.3" r="2.9" fill="#bd479c"/>
<circle cx="1628.2" cy="204.0" r="2.4" fill="#bd479c"/>
<circle cx="1673.5" cy="245.9" r="2.6" fill="#bd479c"/>
<circle cx="1606.8" cy="223.3" r="2.5" fill="#bd479c"/>
<circle cx="1618.2" cy="266.8" r="3.3" fill="#bd479c"/>
<circle cx="1659.0" cy="275.0" r="3.1" fill="#bd479c"/>
<circle cx="1597.1" cy="220.5" r="2.9" fill="#bd479c"/>
<circle cx="1673.4" cy="249.0" r="2.7" fill="#bd479c"/>
<circle cx="1665.4" cy="227.7" r="2.2" fill="#bd479c"/>
<circle cx="1676.3" cy="208.2" r="3.0" fill="#bd479c"/>
<circle cx="1612.5" cy="206.8" r="2.4" fill="#bd479c"/>
<circle cx="1610.7" cy="221.7" r="2.2" fill="#bd479c"/>
<circle cx="1599.7" cy="235.9" r="3.5" fill="#bd479c"/>
<circle cx="1606.7" cy="212.3" r="3.0" fill="#bd479c"/>
<circle cx="1598.2" cy="219.0" r="2.9" fill="#bd479c"/>
<circle cx="1662.3" cy="275.8" r="2.8" fill="#bd479c"/>
<circle cx="1647.9" cy="266.0" r="2.3" fill="#bd479c"/>
<circle cx="1612.1" cy="272.0" r="3.1" fill="#bd479c"/>
<circle cx="1590.6" cy="257.7" r="3.3" fill="#bd479c"/>
<circle cx="1625.4" cy="211.5" r="3.1" fill="#bd479c"/>
<circle cx="1615.0" cy="209.6" r="2.3" fill="#bd479c"/>
<circle cx="1624.7" cy="209.0" r="2.7" fill="#bd479c"/>
<circle cx="1624.8" cy="267.6" r="2.2" fill="#bd479c"/>
<circle cx="1616.3" cy="279.2" r="3.5" fill="#bd479c"/>
<circle cx="1666.8" cy="244.6" r="3.3" fill="#bd479c"/>
<circle cx="1644.4" cy="208.2" r="2.5" fill="#bd479c"/>
<circle cx="1589.7" cy="259.4" r="3.3" fill="#bd479c"/>
<circle cx="1670.3" cy="274.7" r="2.3" fill="#bd479c"/>
<circle cx="1666.3" cy="258.3" r="2.7" fill="#bd479c"/>
<circle cx="1617.8" cy="211.4" r="3.3" fill="#bd479c"/>
<circle cx="1631.4" cy="268.7" r="2.6" fill="#bd479c"/>
<circle cx="1664.5" cy="274.8" r="2.6" fill="#bd479c"/>
<circle cx="1677.9" cy="264.1" r="2.9" fill="#bd479c"/>
<circle cx="1620.1" cy="221.8" r="3.4" fill="#bd479c"/>
<circle cx="1670.9" cy="224.5" r="2.2" fill="#bd479c"/>
<circle cx="1642.6" cy="205.8" r="3.5" fill="#bd479c"/>
<circle cx="1589.9" cy="210.1" r="2.9" fill="#bd479c"/>
<circle cx="1668.4" cy="211.3" r="2.9" fill="#bd479c"/>
<circle cx="1667.4" cy="211.6" r="2.9" fill="#bd479c"/>
<circle cx="1682.5" cy="263.0" r="2.8" fill="#bd479c"/>
<circle cx="1610.2" cy="281.6" r="2.4" fill="#bd479c"/>
<circle cx="1662.9" cy="240.3" r="3.3" fill="#bd479c"/>
<circle cx="1620.2" cy="274.7" r="3.1" fill="#bd479c"/>
<circle cx="1671.4" cy="244.0" r="3.5" fill="#bd479c"/>
<circle cx="1676.6" cy="210.9" r="3.2" fill="#bd479c"/>
<circle cx="1673.5" cy="230.4" r="3.6" fill="#bd479c"/>
<circle cx="1586.9" cy="247.6" r="2.5" fill="#bd479c"/>
<circle cx="1629.9" cy="204.8" r="3.4" fill="#bd479c"/>
<circle cx="1618.2" cy="282.9" r="3.0" fill="#bd479c"/>
<circle cx="1618.1" cy="209.0" r="2.7" fill="#bd479c"/>
<circle cx="1663.2" cy="258.0" r="3.2" fill="#bd479c"/>
<circle cx="1649.5" cy="214.2" r="3.4" fill="#bd479c"/>
<circle cx="1680.0" cy="272.3" r="2.3" fill="#bd479c"/>
<circle cx="1609.5" cy="262.2" r="3.6" fill="#bd479c"/>
<circle cx="1647.3" cy="207.8" r="3.4" fill="#bd479c"/>
<circle cx="1617.2" cy="277.0" r="2.6" fill="#bd479c"/>
<circle cx="1613.4" cy="213.3" r="3.5" fill="#bd479c"/>
<circle cx="1646.4" cy="269.8" r="2.2" fill="#bd479c"/>
<circle cx="1641.0" cy="261.8" r="3.6" fill="#bd479c"/>
<circle cx="1608.6" cy="246.8" r="2.6" fill="#bd479c"/>
<circle cx="1645.0" cy="279.2" r="3.4" fill="#bd479c"/>
<circle cx="1607.8" cy="269.4" r="2.1" fill="#bd479c"/>
<circle cx="1626.3" cy="280.1" r="2.7" fill="#bd479c"/>
<circle cx="1605.4" cy="259.6" r="3.1" fill="#bd479c"/>
<circle cx="1586.3" cy="258.6" r="2.3" fill="#bd479c"/>
<circle cx="1670.8" cy="237.9" r="3.3" fill="#bd479c"/>
<circle cx="1639.8" cy="221.9" r="2.9" fill="#bd479c"/>
<circle cx="1675.8" cy="233.6" r="2.9" fill="#bd479c"/>
<circle cx="1676.5" cy="215.3" r="3.4" fill="#bd479c"/>
<circle cx="1580.9" cy="244.7" r="3.1" fill="#bd479c"/>
<circle cx="1629.0" cy="214.1" r="2.7" fill="#bd479c"/>
<circle cx="1660.7" cy="209.5" r="2.5" fill="#bd479c"/>
<circle cx="1671.7" cy="273.0" r="2.4" fill="#bd479c"/>
<circle cx="1603.9" cy="236.2" r="3.6" fill="#bd479c"/>
<circle cx="1615.6" cy="225.5" r="2.8" fill="#bd479c"/>
<circle cx="1596.8" cy="233.0" r="3.2" fill="#bd479c"/>
<circle cx="1615.6" cy="267.3" r="2.4" fill="#bd479c"/>
<circle cx="1589.8" cy="252.6" r="2.8" fill="#bd479c"/>
<circle cx="1664.6" cy="256.3" r="2.7" fill="#bd479c"/>
<circle cx="1592.9" cy="251.2" r="3.2" fill="#bd479c"/>
<circle cx="1627.1" cy="214.2" r="2.8" fill="#bd479c"/>
<circle cx="1641.8" cy="276.0" r="3.6" fill="#bd479c"/>
<circle cx="1603.8" cy="252.9" r="3.2" fill="#bd479c"/>
<circle cx="1606.7" cy="258.1" r="3.6" fill="#bd479c"/>
<circle cx="1623.4" cy="279.7" r="3.1" fill="#bd479c"/>
<circle cx="1678.5" cy="215.7" r="3.6" fill="#bd479c"/>
<circle cx="1585.6" cy="224.6" r="2.8" fill="#bd479c"/>
<circle cx="1628.1" cy="200.4" r="2.3" fill="#bd479c"/>
<circle cx="1677.3" cy="234.0" r="3.5" fill="#bd479c"/>
<circle cx="1640.9" cy="220.9" r="3.3" fill="#bd479c"/>
<circle cx="1615.2" cy="274.7" r="2.9" fill="#bd479c"/>
<circle cx="1582.2" cy="224.0" r="2.2" fill="#bd479c"/>
<circle cx="1668.4" cy="232.0" r="2.9" fill="#bd479c"/>
<circle cx="1684.5" cy="262.0" r="2.3" fill="#bd479c"/>
<circle cx="1614.3" cy="221.2" r="3.5" fill="#bd479c"/>
<circle cx="1618.5" cy="203.9" r="3.5" fill="#bd479c"/>
<circle cx="1626.4" cy="207.7" r="3.2" fill="#bd479c"/>
<circle cx="1671.9" cy="266.7" r="3.3" fill="#bd479c"/>
<circle cx="1588.8" cy="271.3" r="2.3" fill="#bd479c"/>
<circle cx="1626.1" cy="265.1" r="3.3" fill="#bd479c"/>
<circle cx="1645.4" cy="283.9" r="3.1" fill="#bd479c"/>
<circle cx="1587.5" cy="263.3" r="2.5" fill="#bd479c"/>
<circle cx="1628.4" cy="209.1" r="3.6" fill="#bd479c"/>
<circle cx="1638.3" cy="264.7" r="2.6" fill="#bd479c"/>
<circle cx="1626.0" cy="262.8" r="3.2" fill="#bd479c"/>
<circle cx="1681.0" cy="224.9" r="3.4" fill="#bd479c"/>
<circle cx="1663.5" cy="247.9" r="2.7" fill="#bd479c"/>
<circle cx="1643.8" cy="204.7" r="2.6" fill="#bd479c"/>
<circle cx="1661.2" cy="261.6" r="3.0" fill="#bd479c"/>
<circle cx="1601.9" cy="260.8" r="3.3" fill="#bd479c"/>
<circle cx="1649.8" cy="217.8" r="2.9" fill="#bd479c"/>
<circle cx="1623.8" cy="221.4" r="2.3" fill="#bd479c"/>
<circle cx="1678.3" cy="253.0" r="3.5" fill="#bd479c"/>
<circle cx="1598.0" cy="221.0" r="2.9" fill="#bd479c"/>
<circle cx="1584.9" cy="224.3" r="3.1" fill="#bd479c"/>
<circle cx="1645.9" cy="266.3" r="2.6" fill="#bd479c"/>
<circle cx="1669.9" cy="209.0" r="2.4" fill="#bd479c"/>
<circle cx="1654.3" cy="209.4" r="2.1" fill="#bd479c"/>
<circle cx="1622.3" cy="215.9" r="2.1" fill="#bd479c"/>
<circle cx="1608.2" cy="219.2" r="2.6" fill="#bd479c"/>
<circle cx="1615.6" cy="199.7" r="2.6" fill="#bd479c"/>
<circle cx="1682.5" cy="237.8" r="2.4" fill="#bd479c"/>
<circle cx="1591.6" cy="225.8" r="3.0" fill="#bd479c"/>
<circle cx="1675.2" cy="273.2" r="2.2" fill="#bd479c"/>
<circle cx="1667.2" cy="212.9" r="2.6" fill="#bd479c"/>
<circle cx="1601.2" cy="272.8" r="3.3" fill="#bd479c"/>
<circle cx="1674.6" cy="231.2" r="3.5" fill="#bd479c"/>
<circle cx="1608.2" cy="248.0" r="3.1" fill="#bd479c"/>
<circle cx="1605.1" cy="231.2" r="2.3" fill="#bd479c"/>
<circle cx="1670.4" cy="214.0" r="2.3" fill="#bd479c"/>
<circle cx="1610.2" cy="253.7" r="3.1" fill="#bd479c"/>
<circle cx="1638.9" cy="272.3" r="3.2" fill="#bd479c"/>
<circle cx="1602.3" cy="244.5" r="2.4" fill="#bd479c"/>
<circle cx="1606.0" cy="210.8" r="2.2" fill="#bd479c"/>
<circle cx="1618.6" cy="275.1" r="3.1" fill="#bd479c"/>
<circle cx="1588.2" cy="217.1" r="2.1" fill="#bd479c"/>
<circle cx="1588.9" cy="247.2" r="3.0" fill="#bd479c"/>
<circle cx="1617.4" cy="280.3" r="2.7" fill="#bd479c"/>
<circle cx="1667.3" cy="244.9" r="3.2" fill="#bd479c"/>
<circle cx="1652.0" cy="281.5" r="2.3" fill="#bd479c"/>
<circle cx="1604.8" cy="266.0" r="2.4" fill="#bd479c"/>
<circle cx="1608.6" cy="256.2" r="2.8" fill="#bd479c"/>
<circle cx="1687.1" cy="236.9" r="2.1" fill="#bd479c"/>
<circle cx="1613.8" cy="207.2" r="2.8" fill="#bd479c"/>
<circle cx="1664.1" cy="240.9" r="3.3" fill="#bd479c"/>
<circle cx="1601.9" cy="230.1" r="2.7" fill="#bd479c"/>
<circle cx="1622.7" cy="282.0" r="3.1" fill="#bd479c"/>
<circle cx="1674.1" cy="227.1" r="2.2" fill="#bd479c"/>
<circle cx="1689.1" cy="244.5" r="2.9" fill="#bd479c"/>
<circle cx="1610.9" cy="277.9" r="2.5" fill="#bd479c"/>
<circle cx="1681.7" cy="217.4" r="2.8" fill="#bd479c"/>
<circle cx="1602.4" cy="267.2" r="2.2" fill="#bd479c"/>
<circle cx="1626.1" cy="266.1" r="3.2" fill="#bd479c"/>
<circle cx="1670.0" cy="208.2" r="2.6" fill="#bd479c"/>
<circle cx="1672.4" cy="239.0" r="3.4" fill="#bd479c"/>
<circle cx="1633.4" cy="220.4" r="2.3" fill="#bd479c"/>
<circle cx="1679.5" cy="247.9" r="3.4" fill="#bd479c"/>
<circle cx="1595.5" cy="239.8" r="2.8" fill="#bd479c"/>
<circle cx="1590.5" cy="220.9" r="3.5" fill="#bd479c"/>
<circle cx="1661.9" cy="242.3" r="3.0" fill="#bd479c"/>
<circle cx="1647.0" cy="202.4" r="2.4" fill="#bd479c"/>
<circle cx="1593.9" cy="242.6" r="3.0" fill="#bd479c"/>
<circle cx="1594.3" cy="260.5" r="2.9" fill="#bd479c"/>
<circle cx="1613.8" cy="270.5" r="3.5" fill="#bd479c"/>
<circle cx="1586.0" cy="231.8" r="2.5" fill="#bd479c"/>
<circle cx="1664.3" cy="276.7" r="2.9" fill="#bd479c"/>
<circle cx="1630.3" cy="207.1" r="2.8" fill="#bd479c"/>
<circle cx="1638.0" cy="266.4" r="2.4" fill="#bd479c"/>
<circle cx="1648.9" cy="206.3" r="3.2" fill="#bd479c"/>
<circle cx="1627.1" cy="278.5" r="3.4" fill="#bd479c"/>
<circle cx="1586.8" cy="231.8" r="2.6" fill="#bd479c"/>
<circle cx="1640.6" cy="206.5" r="3.0" fill="#bd479c"/>
<circle cx="1674.3" cy="258.1" r="2.3" fill="#bd479c"/>
<circle cx="1608.6" cy="253.4" r="3.6" fill="#bd479c"/>
<circle cx="1592.4" cy="266.9" r="2.8" fill="#bd479c"/>
<circle cx="1603.0" cy="209.3" r="3.0" fill="#bd479c"/>
<circle cx="1650.4" cy="272.6" r="2.1" fill="#bd479c"/>
<circle cx="1608.4" cy="221.0" r="3.4" fill="#bd479c"/>
<circle cx="1590.9" cy="267.0" r="2.9" fill="#bd479c"/>
<circle cx="1649.2" cy="265.1" r="2.9" fill="#bd479c"/>
<circle cx="1591.2" cy="217.4" r="2.2" fill="#bd479c"/>
<circle cx="1590.4" cy="219.8" r="2.9" fill="#bd479c"/>
<circle cx="1619.4" cy="281.9" r="2.7" fill="#bd479c"/>
<circle cx="1677.2" cy="230.1" r="2.8" fill="#bd479c"/>
<circle cx="1645.0" cy="283.9" r="2.7" fill="#bd479c"/>
<circle cx="1673.2" cy="238.7" r="3.0" fill="#bd479c"/>
<circle cx="1611.5" cy="220.3" r="2.9" fill="#bd479c"/>
<circle cx="1639.8" cy="217.4" r="3.2" fill="#bd479c"/>
<circle cx="1607.4" cy="270.8" r="3.5" fill="#bd479c"/>
<circle cx="1651.3" cy="200.2" r="2.5" fill="#bd479c"/>
<circle cx="1596.6" cy="229.8" r="3.3" fill="#bd479c"/>
<ellipse cx="1628.0" cy="216.3" rx="5.9" ry="5.8" transform="rotate(84 1628.0 216.3)" fill="#2d5cb4"/>
<ellipse cx="1645.6" cy="217.9" rx="4.8" ry="3.9" transform="rotate(36 1645.6 217.9)" fill="#2d5cb4"/>
<ellipse cx="1655.5" cy="216.0" rx="6.7" ry="6.2" transform="rotate(16 1655.5 216.0)" fill="#2d5cb4"/>
<ellipse cx="1662.1" cy="216.9" rx="6.1" ry="5.3" transform="rotate(6 1662.1 216.9)" fill="#2d5cb4"/>
<ellipse cx="1602.7" cy="225.8" rx="5.1" ry="4.7" transform="rotate(166 1602.7 225.8)" fill="#2d5cb4"/>
<ellipse cx="1615.2" cy="224.6" rx="5.0" ry="4.2" transform="rotate(146 1615.2 224.6)" fill="#2d5cb4"/>
<ellipse cx="1622.1" cy="222.4" rx="6.2" ry="4.5" transform="rotate(11 1622.1 222.4)" fill="#2d5cb4"/>
<ellipse cx="1632.3" cy="226.0" rx="6.6" ry="4.9" transform="rotate(104 1632.3 226.0)" fill="#2d5cb4"/>
<ellipse cx="1639.8" cy="223.3" rx="5.7" ry="4.2" transform="rotate(118 1639.8 223.3)" fill="#2d5cb4"/>
<ellipse cx="1651.0" cy="225.8" rx="5.0" ry="4.8" transform="rotate(98 1651.0 225.8)" fill="#2d5cb4"/>
<ellipse cx="1669.7" cy="222.6" rx="5.9" ry="5.7" transform="rotate(89 1669.7 222.6)" fill="#2d5cb4"/>
<ellipse cx="1677.2" cy="224.7" rx="5.7" ry="4.6" transform="rotate(76 1677.2 224.7)" fill="#2d5cb4"/>
<ellipse cx="1609.7" cy="230.1" rx="6.7" ry="5.4" transform="rotate(139 1609.7 230.1)" fill="#2d5cb4"/>
<ellipse cx="1617.3" cy="230.2" rx="6.5" ry="6.1" transform="rotate(9 1617.3 230.2)" fill="#2d5cb4"/>
<ellipse cx="1628.3" cy="232.5" rx="6.1" ry="5.3" transform="rotate(33 1628.3 232.5)" fill="#2d5cb4"/>
<ellipse cx="1637.5" cy="230.4" rx="6.5" ry="5.7" transform="rotate(92 1637.5 230.4)" fill="#2d5cb4"/>
<ellipse cx="1646.7" cy="232.0" rx="5.9" ry="4.3" transform="rotate(63 1646.7 232.0)" fill="#2d5cb4"/>
<ellipse cx="1653.0" cy="234.2" rx="6.1" ry="4.7" transform="rotate(154 1653.0 234.2)" fill="#2d5cb4"/>
<ellipse cx="1663.2" cy="233.3" rx="6.0" ry="5.6" transform="rotate(48 1663.2 233.3)" fill="#2d5cb4"/>
<ellipse cx="1674.9" cy="232.2" rx="6.5" ry="5.1" transform="rotate(74 1674.9 232.2)" fill="#2d5cb4"/>
<ellipse cx="1606.1" cy="240.8" rx="5.9" ry="5.7" transform="rotate(13 1606.1 240.8)" fill="#2d5cb4"/>
<ellipse cx="1613.0" cy="240.8" rx="5.8" ry="4.6" transform="rotate(40 1613.0 240.8)" fill="#2d5cb4"/>
<ellipse cx="1623.5" cy="239.3" rx="6.6" ry="6.5" transform="rotate(50 1623.5 239.3)" fill="#2d5cb4"/>
<ellipse cx="1632.1" cy="238.3" rx="4.9" ry="4.3" transform="rotate(172 1632.1 238.3)" fill="#2d5cb4"/>
<ellipse cx="1642.4" cy="239.4" rx="6.7" ry="4.9" transform="rotate(152 1642.4 239.4)" fill="#2d5cb4"/>
<ellipse cx="1652.0" cy="238.1" rx="6.1" ry="5.0" transform="rotate(77 1652.0 238.1)" fill="#2d5cb4"/>
<ellipse cx="1660.1" cy="240.1" rx="6.6" ry="5.3" transform="rotate(2 1660.1 240.1)" fill="#2d5cb4"/>
<ellipse cx="1670.0" cy="240.7" rx="4.9" ry="3.7" transform="rotate(162 1670.0 240.7)" fill="#2d5cb4"/>
<ellipse cx="1677.4" cy="239.9" rx="5.2" ry="4.7" transform="rotate(11 1677.4 239.9)" fill="#2d5cb4"/>
<ellipse cx="1611.1" cy="249.5" rx="6.7" ry="6.2" transform="rotate(99 1611.1 249.5)" fill="#2d5cb4"/>
<ellipse cx="1619.6" cy="249.4" rx="6.1" ry="4.7" transform="rotate(61 1619.6 249.4)" fill="#2d5cb4"/>
<ellipse cx="1626.6" cy="249.6" rx="5.4" ry="5.4" transform="rotate(11 1626.6 249.6)" fill="#2d5cb4"/>
<ellipse cx="1647.8" cy="247.4" rx="6.5" ry="5.7" transform="rotate(113 1647.8 247.4)" fill="#2d5cb4"/>
<ellipse cx="1654.7" cy="247.8" rx="5.4" ry="4.6" transform="rotate(86 1654.7 247.8)" fill="#2d5cb4"/>
<ellipse cx="1662.6" cy="246.5" rx="6.4" ry="5.4" transform="rotate(11 1662.6 246.5)" fill="#2d5cb4"/>
<ellipse cx="1675.3" cy="246.4" rx="4.9" ry="4.4" transform="rotate(26 1675.3 246.4)" fill="#2d5cb4"/>
<ellipse cx="1605.5" cy="255.7" rx="5.6" ry="4.9" transform="rotate(51 1605.5 255.7)" fill="#2d5cb4"/>
<ellipse cx="1615.6" cy="254.7" rx="5.9" ry="4.8" transform="rotate(130 1615.6 254.7)" fill="#2d5cb4"/>
<ellipse cx="1620.8" cy="256.8" rx="6.7" ry="5.4" transform="rotate(78 1620.8 256.8)" fill="#2d5cb4"/>
<ellipse cx="1631.2" cy="256.2" rx="6.1" ry="5.1" transform="rotate(127 1631.2 256.2)" fill="#2d5cb4"/>
<ellipse cx="1640.3" cy="255.8" rx="6.2" ry="5.6" transform="rotate(77 1640.3 255.8)" fill="#2d5cb4"/>
<ellipse cx="1648.6" cy="254.3" rx="5.2" ry="4.0" transform="rotate(119 1648.6 254.3)" fill="#2d5cb4"/>
<ellipse cx="1658.9" cy="257.8" rx="5.3" ry="4.1" transform="rotate(26 1658.9 257.8)" fill="#2d5cb4"/>
<ellipse cx="1669.6" cy="256.4" rx="6.4" ry="5.8" transform="rotate(77 1669.6 256.4)" fill="#2d5cb4"/>
<ellipse cx="1619.4" cy="265.6" rx="5.5" ry="4.8" transform="rotate(45 1619.4 265.6)" fill="#2d5cb4"/>
<ellipse cx="1626.1" cy="262.4" rx="5.8" ry="5.7" transform="rotate(173 1626.1 262.4)" fill="#2d5cb4"/>
<ellipse cx="1638.2" cy="266.0" rx="4.8" ry="3.7" transform="rotate(176 1638.2 266.0)" fill="#2d5cb4"/>
<ellipse cx="1647.4" cy="264.5" rx="5.7" ry="4.8" transform="rotate(26 1647.4 264.5)" fill="#2d5cb4"/>
<ellipse cx="1655.2" cy="263.0" rx="6.5" ry="5.8" transform="rotate(158 1655.2 263.0)" fill="#2d5cb4"/>
<ellipse cx="1663.3" cy="264.4" rx="6.5" ry="5.0" transform="rotate(117 1663.3 264.4)" fill="#2d5cb4"/>
<text x="1638.5" y="250.4" font-size="14" fill="#dfe5f3" text-anchor="middle" >B-Li<tspan font-size="10.4" dy="3.4" font-style="italic">x</tspan><tspan dy="-3.4">Fe</tspan><tspan font-size="10.4" dy="3.4" font-style="italic">y</tspan><tspan dy="-3.4">F</tspan><tspan font-size="10.4" dy="3.4">3</tspan></text>
<circle cx="1488.4" cy="268.7" r="3.7" fill="#ee5a18" stroke="#e1261c" stroke-width="1"/>
<circle cx="1469.2" cy="335.7" r="2.5" fill="#f06a14" stroke="#e1261c" stroke-width="1"/>
<circle cx="1474.6" cy="291.0" r="3.4" fill="#f06a14" stroke="#e1261c" stroke-width="1"/>
<circle cx="1467.6" cy="329.3" r="2.8" fill="#f06a14" stroke="#e1261c" stroke-width="1"/>
<circle cx="1541.8" cy="267.4" r="3.2" fill="#f27a1c" stroke="#e1261c" stroke-width="1"/>
<circle cx="1462.6" cy="292.7" r="3.0" fill="#ee5a18" stroke="#e1261c" stroke-width="1"/>
<circle cx="1566.4" cy="332.5" r="2.3" fill="#f06a14" stroke="#e1261c" stroke-width="1"/>
<circle cx="1495.3" cy="332.2" r="3.2" fill="#f27a1c" stroke="#e1261c" stroke-width="1"/>
<circle cx="1554.7" cy="295.5" r="2.7" fill="#ee5a18" stroke="#e1261c" stroke-width="1"/>
<circle cx="1559.8" cy="258.8" r="2.2" fill="#f27a1c" stroke="#e1261c" stroke-width="1"/>
<circle cx="1498.1" cy="323.4" r="2.2" fill="#ee5a18" stroke="#e1261c" stroke-width="1"/>
<circle cx="1540.3" cy="261.2" r="3.2" fill="#f27a1c" stroke="#e1261c" stroke-width="1"/>
<circle cx="1549.4" cy="304.3" r="2.6" fill="#f06a14" stroke="#e1261c" stroke-width="1"/>
<circle cx="1548.5" cy="319.3" r="3.1" fill="#ee5a18" stroke="#e1261c" stroke-width="1"/>
<circle cx="1547.9" cy="330.7" r="2.9" fill="#ee5a18" stroke="#e1261c" stroke-width="1"/>
<circle cx="1475.9" cy="283.6" r="2.9" fill="#f27a1c" stroke="#e1261c" stroke-width="1"/>
<circle cx="1482.9" cy="291.5" r="3.5" fill="#ee5a18" stroke="#e1261c" stroke-width="1"/>
<circle cx="1480.6" cy="298.3" r="3.3" fill="#ee5a18" stroke="#e1261c" stroke-width="1"/>
<circle cx="1561.8" cy="324.9" r="3.4" fill="#f06a14" stroke="#e1261c" stroke-width="1"/>
<circle cx="1575.2" cy="278.8" r="2.2" fill="#f06a14" stroke="#e1261c" stroke-width="1"/>
<circle cx="1463.8" cy="285.6" r="3.7" fill="#f06a14" stroke="#e1261c" stroke-width="1"/>
<circle cx="1517.4" cy="267.4" r="2.6" fill="#ee5a18" stroke="#e1261c" stroke-width="1"/>
<circle cx="1523.5" cy="333.5" r="2.2" fill="#f27a1c" stroke="#e1261c" stroke-width="1"/>
<circle cx="1463.4" cy="304.9" r="2.6" fill="#f27a1c" stroke="#e1261c" stroke-width="1"/>
<circle cx="1566.1" cy="268.1" r="2.5" fill="#f06a14" stroke="#e1261c" stroke-width="1"/>
<circle cx="1542.1" cy="331.0" r="2.1" fill="#ee5a18" stroke="#e1261c" stroke-width="1"/>
<circle cx="1549.8" cy="301.1" r="3.6" fill="#f06a14" stroke="#e1261c" stroke-width="1"/>
<circle cx="1549.9" cy="277.8" r="3.1" fill="#ee5a18" stroke="#e1261c" stroke-width="1"/>
<circle cx="1485.8" cy="257.5" r="2.6" fill="#f06a14" stroke="#e1261c" stroke-width="1"/>
<circle cx="1544.5" cy="313.4" r="3.6" fill="#f27a1c" stroke="#e1261c" stroke-width="1"/>
<circle cx="1549.5" cy="266.1" r="3.4" fill="#f06a14" stroke="#e1261c" stroke-width="1"/>
<circle cx="1541.2" cy="271.3" r="2.6" fill="#f27a1c" stroke="#e1261c" stroke-width="1"/>
<circle cx="1546.5" cy="299.3" r="3.7" fill="#f06a14" stroke="#e1261c" stroke-width="1"/>
<circle cx="1473.9" cy="341.7" r="2.6" fill="#f06a14" stroke="#e1261c" stroke-width="1"/>
<circle cx="1479.8" cy="262.3" r="2.6" fill="#f06a14" stroke="#e1261c" stroke-width="1"/>
<circle cx="1493.5" cy="326.8" r="3.0" fill="#ee5a18" stroke="#e1261c" stroke-width="1"/>
<circle cx="1532.9" cy="273.8" r="3.3" fill="#ee5a18" stroke="#e1261c" stroke-width="1"/>
<circle cx="1480.8" cy="331.5" r="3.5" fill="#f06a14" stroke="#e1261c" stroke-width="1"/>
<circle cx="1543.5" cy="282.9" r="2.9" fill="#ee5a18" stroke="#e1261c" stroke-width="1"/>
<circle cx="1523.5" cy="327.4" r="3.8" fill="#f06a14" stroke="#e1261c" stroke-width="1"/>
<circle cx="1485.2" cy="308.9" r="2.5" fill="#f06a14" stroke="#e1261c" stroke-width="1"/>
<circle cx="1472.7" cy="296.6" r="3.1" fill="#f27a1c" stroke="#e1261c" stroke-width="1"/>
<circle cx="1564.7" cy="323.5" r="2.5" fill="#f27a1c" stroke="#e1261c" stroke-width="1"/>
<circle cx="1548.4" cy="347.1" r="2.8" fill="#ee5a18" stroke="#e1261c" stroke-width="1"/>
<circle cx="1512.2" cy="326.1" r="2.9" fill="#f27a1c" stroke="#e1261c" stroke-width="1"/>
<circle cx="1531.7" cy="257.3" r="3.6" fill="#ee5a18" stroke="#e1261c" stroke-width="1"/>
<circle cx="1485.8" cy="261.1" r="2.7" fill="#f06a14" stroke="#e1261c" stroke-width="1"/>
<circle cx="1554.6" cy="318.7" r="2.8" fill="#ee5a18" stroke="#e1261c" stroke-width="1"/>
<circle cx="1525.4" cy="323.5" r="3.2" fill="#ee5a18" stroke="#e1261c" stroke-width="1"/>
<circle cx="1520.9" cy="345.2" r="2.4" fill="#ee5a18" stroke="#e1261c" stroke-width="1"/>
<circle cx="1452.9" cy="294.4" r="2.6" fill="#f06a14" stroke="#e1261c" stroke-width="1"/>
<circle cx="1471.2" cy="279.8" r="3.1" fill="#ee5a18" stroke="#e1261c" stroke-width="1"/>
<circle cx="1563.1" cy="275.7" r="3.7" fill="#ee5a18" stroke="#e1261c" stroke-width="1"/>
<circle cx="1463.2" cy="322.5" r="2.1" fill="#f06a14" stroke="#e1261c" stroke-width="1"/>
<circle cx="1552.7" cy="325.4" r="3.3" fill="#f27a1c" stroke="#e1261c" stroke-width="1"/>
<circle cx="1567.5" cy="322.6" r="2.2" fill="#f06a14" stroke="#e1261c" stroke-width="1"/>
<circle cx="1468.3" cy="282.5" r="3.3" fill="#f27a1c" stroke="#e1261c" stroke-width="1"/>
<circle cx="1474.7" cy="259.2" r="2.7" fill="#f06a14" stroke="#e1261c" stroke-width="1"/>
<circle cx="1509.6" cy="263.4" r="3.6" fill="#f06a14" stroke="#e1261c" stroke-width="1"/>
<circle cx="1496.0" cy="324.2" r="3.5" fill="#f27a1c" stroke="#e1261c" stroke-width="1"/>
<circle cx="1525.7" cy="255.2" r="2.7" fill="#ee5a18" stroke="#e1261c" stroke-width="1"/>
<circle cx="1574.3" cy="281.0" r="2.8" fill="#f27a1c" stroke="#e1261c" stroke-width="1"/>
<circle cx="1467.4" cy="318.7" r="3.7" fill="#f27a1c" stroke="#e1261c" stroke-width="1"/>
<circle cx="1516.8" cy="335.0" r="2.2" fill="#f27a1c" stroke="#e1261c" stroke-width="1"/>
<circle cx="1499.2" cy="322.5" r="2.6" fill="#f06a14" stroke="#e1261c" stroke-width="1"/>
<circle cx="1555.9" cy="318.5" r="2.8" fill="#ee5a18" stroke="#e1261c" stroke-width="1"/>
<circle cx="1487.2" cy="268.4" r="2.2" fill="#f06a14" stroke="#e1261c" stroke-width="1"/>
<circle cx="1498.1" cy="340.4" r="3.6" fill="#ee5a18" stroke="#e1261c" stroke-width="1"/>
<circle cx="1460.5" cy="275.0" r="2.3" fill="#ee5a18" stroke="#e1261c" stroke-width="1"/>
<circle cx="1524.2" cy="326.2" r="3.5" fill="#f27a1c" stroke="#e1261c" stroke-width="1"/>
<circle cx="1494.3" cy="259.1" r="2.2" fill="#f06a14" stroke="#e1261c" stroke-width="1"/>
<circle cx="1563.5" cy="339.0" r="2.6" fill="#f06a14" stroke="#e1261c" stroke-width="1"/>
<circle cx="1574.2" cy="272.1" r="2.1" fill="#f06a14" stroke="#e1261c" stroke-width="1"/>
<circle cx="1506.3" cy="329.4" r="3.4" fill="#ee5a18" stroke="#e1261c" stroke-width="1"/>
<circle cx="1538.1" cy="273.1" r="2.9" fill="#f06a14" stroke="#e1261c" stroke-width="1"/>
<circle cx="1556.7" cy="267.2" r="2.6" fill="#f27a1c" stroke="#e1261c" stroke-width="1"/>
<circle cx="1551.8" cy="301.5" r="3.1" fill="#ee5a18" stroke="#e1261c" stroke-width="1"/>
<circle cx="1547.0" cy="305.2" r="2.5" fill="#f06a14" stroke="#e1261c" stroke-width="1"/>
<circle cx="1518.1" cy="271.4" r="2.0" fill="#f27a1c" stroke="#e1261c" stroke-width="1"/>
<circle cx="1537.0" cy="332.0" r="2.3" fill="#f27a1c" stroke="#e1261c" stroke-width="1"/>
<circle cx="1564.8" cy="301.6" r="3.4" fill="#f27a1c" stroke="#e1261c" stroke-width="1"/>
<circle cx="1506.9" cy="324.4" r="2.7" fill="#ee5a18" stroke="#e1261c" stroke-width="1"/>
<circle cx="1546.0" cy="287.1" r="3.3" fill="#ee5a18" stroke="#e1261c" stroke-width="1"/>
<circle cx="1472.4" cy="312.9" r="3.7" fill="#ee5a18" stroke="#e1261c" stroke-width="1"/>
<circle cx="1518.9" cy="261.0" r="3.5" fill="#f27a1c" stroke="#e1261c" stroke-width="1"/>
<circle cx="1470.5" cy="330.6" r="2.7" fill="#ee5a18" stroke="#e1261c" stroke-width="1"/>
<circle cx="1498.4" cy="326.1" r="2.7" fill="#ee5a18" stroke="#e1261c" stroke-width="1"/>
<circle cx="1495.6" cy="267.7" r="2.9" fill="#f06a14" stroke="#e1261c" stroke-width="1"/>
<circle cx="1543.3" cy="315.8" r="2.4" fill="#ee5a18" stroke="#e1261c" stroke-width="1"/>
<circle cx="1548.5" cy="337.8" r="2.5" fill="#ee5a18" stroke="#e1261c" stroke-width="1"/>
<circle cx="1484.0" cy="290.5" r="2.0" fill="#f27a1c" stroke="#e1261c" stroke-width="1"/>
<circle cx="1546.2" cy="311.8" r="3.2" fill="#f06a14" stroke="#e1261c" stroke-width="1"/>
<circle cx="1547.6" cy="331.2" r="3.3" fill="#f06a14" stroke="#e1261c" stroke-width="1"/>
<circle cx="1484.0" cy="257.4" r="2.3" fill="#f06a14" stroke="#e1261c" stroke-width="1"/>
<circle cx="1537.2" cy="258.7" r="2.5" fill="#f06a14" stroke="#e1261c" stroke-width="1"/>
<circle cx="1521.6" cy="329.8" r="2.6" fill="#f06a14" stroke="#e1261c" stroke-width="1"/>
<circle cx="1540.2" cy="330.3" r="3.3" fill="#f06a14" stroke="#e1261c" stroke-width="1"/>
<circle cx="1471.8" cy="322.6" r="2.1" fill="#ee5a18" stroke="#e1261c" stroke-width="1"/>
<circle cx="1545.4" cy="265.9" r="3.0" fill="#f27a1c" stroke="#e1261c" stroke-width="1"/>
<circle cx="1473.0" cy="329.8" r="3.0" fill="#f27a1c" stroke="#e1261c" stroke-width="1"/>
<circle cx="1468.5" cy="291.7" r="3.8" fill="#f27a1c" stroke="#e1261c" stroke-width="1"/>
<circle cx="1518.0" cy="326.9" r="2.9" fill="#f06a14" stroke="#e1261c" stroke-width="1"/>
<circle cx="1476.1" cy="299.6" r="2.4" fill="#ee5a18" stroke="#e1261c" stroke-width="1"/>
<circle cx="1554.1" cy="271.6" r="3.2" fill="#f06a14" stroke="#e1261c" stroke-width="1"/>
<circle cx="1560.2" cy="262.5" r="2.9" fill="#ee5a18" stroke="#e1261c" stroke-width="1"/>
<circle cx="1509.9" cy="341.7" r="3.3" fill="#ee5a18" stroke="#e1261c" stroke-width="1"/>
<circle cx="1466.5" cy="307.0" r="2.7" fill="#ee5a18" stroke="#e1261c" stroke-width="1"/>
<circle cx="1536.9" cy="325.6" r="3.0" fill="#f27a1c" stroke="#e1261c" stroke-width="1"/>
<circle cx="1476.3" cy="259.1" r="2.8" fill="#ee5a18" stroke="#e1261c" stroke-width="1"/>
<circle cx="1574.7" cy="281.7" r="2.9" fill="#f06a14" stroke="#e1261c" stroke-width="1"/>
<circle cx="1517.2" cy="329.5" r="2.2" fill="#f27a1c" stroke="#e1261c" stroke-width="1"/>
<circle cx="1495.8" cy="270.9" r="2.3" fill="#f06a14" stroke="#e1261c" stroke-width="1"/>
<circle cx="1563.8" cy="264.3" r="2.2" fill="#ee5a18" stroke="#e1261c" stroke-width="1"/>
<circle cx="1555.5" cy="261.4" r="2.9" fill="#f27a1c" stroke="#e1261c" stroke-width="1"/>
<circle cx="1482.7" cy="302.0" r="2.3" fill="#f06a14" stroke="#e1261c" stroke-width="1"/>
<circle cx="1503.8" cy="259.2" r="2.9" fill="#ee5a18" stroke="#e1261c" stroke-width="1"/>
<circle cx="1554.0" cy="329.4" r="3.1" fill="#f06a14" stroke="#e1261c" stroke-width="1"/>
<circle cx="1461.6" cy="305.1" r="3.4" fill="#f06a14" stroke="#e1261c" stroke-width="1"/>
<circle cx="1482.8" cy="301.6" r="3.7" fill="#ee5a18" stroke="#e1261c" stroke-width="1"/>
<circle cx="1484.8" cy="293.7" r="2.9" fill="#ee5a18" stroke="#e1261c" stroke-width="1"/>
<circle cx="1459.1" cy="289.4" r="2.1" fill="#f27a1c" stroke="#e1261c" stroke-width="1"/>
<circle cx="1545.5" cy="274.4" r="2.4" fill="#f27a1c" stroke="#e1261c" stroke-width="1"/>
<circle cx="1476.6" cy="267.5" r="2.6" fill="#f27a1c" stroke="#e1261c" stroke-width="1"/>
<circle cx="1467.2" cy="337.8" r="2.4" fill="#f27a1c" stroke="#e1261c" stroke-width="1"/>
<circle cx="1529.5" cy="334.2" r="2.1" fill="#f06a14" stroke="#e1261c" stroke-width="1"/>
<circle cx="1551.9" cy="314.8" r="3.4" fill="#f06a14" stroke="#e1261c" stroke-width="1"/>
<circle cx="1479.7" cy="268.6" r="2.6" fill="#f27a1c" stroke="#e1261c" stroke-width="1"/>
<circle cx="1525.0" cy="328.2" r="3.7" fill="#ee5a18" stroke="#e1261c" stroke-width="1"/>
<circle cx="1498.4" cy="337.5" r="3.0" fill="#f27a1c" stroke="#e1261c" stroke-width="1"/>
<circle cx="1562.9" cy="299.3" r="2.0" fill="#ee5a18" stroke="#e1261c" stroke-width="1"/>
<circle cx="1478.3" cy="335.6" r="2.7" fill="#ee5a18" stroke="#e1261c" stroke-width="1"/>
<circle cx="1485.5" cy="323.6" r="2.3" fill="#f27a1c" stroke="#e1261c" stroke-width="1"/>
<circle cx="1497.7" cy="345.7" r="2.7" fill="#f06a14" stroke="#e1261c" stroke-width="1"/>
<circle cx="1548.6" cy="291.3" r="2.6" fill="#f06a14" stroke="#e1261c" stroke-width="1"/>
<circle cx="1522.3" cy="263.1" r="2.8" fill="#f06a14" stroke="#e1261c" stroke-width="1"/>
<circle cx="1571.0" cy="321.5" r="3.0" fill="#ee5a18" stroke="#e1261c" stroke-width="1"/>
<circle cx="1481.2" cy="271.7" r="3.1" fill="#f06a14" stroke="#e1261c" stroke-width="1"/>
<circle cx="1521.8" cy="330.0" r="2.2" fill="#ee5a18" stroke="#e1261c" stroke-width="1"/>
<circle cx="1494.6" cy="319.9" r="2.7" fill="#ee5a18" stroke="#e1261c" stroke-width="1"/>
<circle cx="1495.5" cy="334.6" r="3.5" fill="#ee5a18" stroke="#e1261c" stroke-width="1"/>
<circle cx="1465.4" cy="325.3" r="2.3" fill="#f06a14" stroke="#e1261c" stroke-width="1"/>
<circle cx="1499.0" cy="267.7" r="3.4" fill="#ee5a18" stroke="#e1261c" stroke-width="1"/>
<circle cx="1482.5" cy="281.0" r="3.5" fill="#f06a14" stroke="#e1261c" stroke-width="1"/>
<circle cx="1477.0" cy="307.2" r="3.4" fill="#f06a14" stroke="#e1261c" stroke-width="1"/>
<circle cx="1479.9" cy="262.2" r="3.3" fill="#f27a1c" stroke="#e1261c" stroke-width="1"/>
<circle cx="1526.6" cy="259.4" r="2.2" fill="#f27a1c" stroke="#e1261c" stroke-width="1"/>
<circle cx="1570.5" cy="325.4" r="3.2" fill="#f06a14" stroke="#e1261c" stroke-width="1"/>
<circle cx="1511.7" cy="344.6" r="2.1" fill="#f27a1c" stroke="#e1261c" stroke-width="1"/>
<circle cx="1571.7" cy="299.4" r="3.7" fill="#ee5a18" stroke="#e1261c" stroke-width="1"/>
<circle cx="1571.5" cy="316.2" r="3.1" fill="#f27a1c" stroke="#e1261c" stroke-width="1"/>
<circle cx="1548.5" cy="305.0" r="2.5" fill="#f27a1c" stroke="#e1261c" stroke-width="1"/>
<circle cx="1551.7" cy="338.4" r="3.3" fill="#f06a14" stroke="#e1261c" stroke-width="1"/>
<circle cx="1477.8" cy="267.4" r="2.5" fill="#f06a14" stroke="#e1261c" stroke-width="1"/>
<circle cx="1544.0" cy="282.1" r="3.4" fill="#f06a14" stroke="#e1261c" stroke-width="1"/>
<circle cx="1514.7" cy="263.0" r="3.8" fill="#f27a1c" stroke="#e1261c" stroke-width="1"/>
<circle cx="1459.7" cy="313.1" r="3.3" fill="#ee5a18" stroke="#e1261c" stroke-width="1"/>
<circle cx="1565.5" cy="294.8" r="2.3" fill="#f06a14" stroke="#e1261c" stroke-width="1"/>
<circle cx="1484.0" cy="277.1" r="2.3" fill="#f27a1c" stroke="#e1261c" stroke-width="1"/>
<circle cx="1552.7" cy="290.0" r="3.0" fill="#ee5a18" stroke="#e1261c" stroke-width="1"/>
<circle cx="1520.9" cy="334.1" r="3.2" fill="#f06a14" stroke="#e1261c" stroke-width="1"/>
<circle cx="1539.3" cy="341.5" r="3.5" fill="#ee5a18" stroke="#e1261c" stroke-width="1"/>
<circle cx="1486.3" cy="291.5" r="3.8" fill="#f27a1c" stroke="#e1261c" stroke-width="1"/>
<circle cx="1548.7" cy="289.1" r="2.9" fill="#f27a1c" stroke="#e1261c" stroke-width="1"/>
<circle cx="1459.4" cy="303.9" r="3.3" fill="#ee5a18" stroke="#e1261c" stroke-width="1"/>
<circle cx="1492.6" cy="280.0" r="3.2" fill="#f06a14" stroke="#e1261c" stroke-width="1"/>
<circle cx="1513.9" cy="333.9" r="2.5" fill="#ee5a18" stroke="#e1261c" stroke-width="1"/>
<circle cx="1572.4" cy="276.7" r="2.3" fill="#f06a14" stroke="#e1261c" stroke-width="1"/>
<circle cx="1535.1" cy="267.4" r="2.9" fill="#ee5a18" stroke="#e1261c" stroke-width="1"/>
<circle cx="1569.6" cy="282.2" r="2.3" fill="#ee5a18" stroke="#e1261c" stroke-width="1"/>
<circle cx="1531.7" cy="258.4" r="3.2" fill="#ee5a18" stroke="#e1261c" stroke-width="1"/>
<circle cx="1454.7" cy="299.1" r="2.2" fill="#f27a1c" stroke="#e1261c" stroke-width="1"/>
<circle cx="1499.7" cy="273.0" r="3.2" fill="#f27a1c" stroke="#e1261c" stroke-width="1"/>
<circle cx="1494.4" cy="279.4" r="2.7" fill="#f27a1c" stroke="#e1261c" stroke-width="1"/>
<circle cx="1488.2" cy="279.3" r="3.0" fill="#ee5a18" stroke="#e1261c" stroke-width="1"/>
<circle cx="1527.4" cy="265.8" r="2.7" fill="#ee5a18" stroke="#e1261c" stroke-width="1"/>
<circle cx="1480.8" cy="267.1" r="2.8" fill="#ee5a18" stroke="#e1261c" stroke-width="1"/>
<circle cx="1470.2" cy="273.2" r="2.8" fill="#f27a1c" stroke="#e1261c" stroke-width="1"/>
<circle cx="1468.9" cy="311.0" r="3.6" fill="#ee5a18" stroke="#e1261c" stroke-width="1"/>
<circle cx="1469.9" cy="266.6" r="3.3" fill="#f06a14" stroke="#e1261c" stroke-width="1"/>
<circle cx="1546.7" cy="279.5" r="2.2" fill="#ee5a18" stroke="#e1261c" stroke-width="1"/>
<circle cx="1553.7" cy="282.2" r="2.0" fill="#f27a1c" stroke="#e1261c" stroke-width="1"/>
<circle cx="1464.0" cy="320.1" r="3.1" fill="#f06a14" stroke="#e1261c" stroke-width="1"/>
<circle cx="1498.7" cy="272.1" r="3.8" fill="#ee5a18" stroke="#e1261c" stroke-width="1"/>
<circle cx="1555.3" cy="265.0" r="3.5" fill="#f06a14" stroke="#e1261c" stroke-width="1"/>
<circle cx="1561.4" cy="290.0" r="2.8" fill="#ee5a18" stroke="#e1261c" stroke-width="1"/>
<circle cx="1548.7" cy="320.5" r="3.5" fill="#f27a1c" stroke="#e1261c" stroke-width="1"/>
<circle cx="1498.1" cy="328.4" r="3.2" fill="#f27a1c" stroke="#e1261c" stroke-width="1"/>
<circle cx="1495.4" cy="330.2" r="2.3" fill="#f27a1c" stroke="#e1261c" stroke-width="1"/>
<circle cx="1549.4" cy="297.8" r="3.0" fill="#ee5a18" stroke="#e1261c" stroke-width="1"/>
<circle cx="1514.0" cy="323.6" r="3.3" fill="#ee5a18" stroke="#e1261c" stroke-width="1"/>
<circle cx="1526.8" cy="271.0" r="3.2" fill="#ee5a18" stroke="#e1261c" stroke-width="1"/>
<circle cx="1547.2" cy="260.7" r="3.5" fill="#f27a1c" stroke="#e1261c" stroke-width="1"/>
<circle cx="1525.0" cy="325.6" r="2.5" fill="#f27a1c" stroke="#e1261c" stroke-width="1"/>
<circle cx="1544.0" cy="325.3" r="2.8" fill="#f06a14" stroke="#e1261c" stroke-width="1"/>
<circle cx="1476.9" cy="304.5" r="2.3" fill="#f06a14" stroke="#e1261c" stroke-width="1"/>
<circle cx="1555.0" cy="292.9" r="2.9" fill="#f06a14" stroke="#e1261c" stroke-width="1"/>
<circle cx="1474.7" cy="327.1" r="2.7" fill="#f27a1c" stroke="#e1261c" stroke-width="1"/>
<circle cx="1549.8" cy="315.0" r="2.6" fill="#f27a1c" stroke="#e1261c" stroke-width="1"/>
<circle cx="1552.1" cy="299.4" r="3.2" fill="#f06a14" stroke="#e1261c" stroke-width="1"/>
<circle cx="1566.6" cy="302.5" r="3.2" fill="#f27a1c" stroke="#e1261c" stroke-width="1"/>
<rect x="1479" y="276" width="82" height="53" rx="14" fill="#1f2b5e"/>
<ellipse cx="1543.2" cy="273.9" rx="7.1" ry="5.7" transform="rotate(138 1543.2 273.9)" fill="#1f2b5e"/>
<ellipse cx="1481.1" cy="281.9" rx="6.2" ry="4.4" transform="rotate(64 1481.1 281.9)" fill="#1f2b5e"/>
<ellipse cx="1491.8" cy="280.8" rx="6.5" ry="5.1" transform="rotate(133 1491.8 280.8)" fill="#1f2b5e"/>
<ellipse cx="1501.9" cy="283.2" rx="6.6" ry="4.8" transform="rotate(152 1501.9 283.2)" fill="#1f2b5e"/>
<ellipse cx="1513.7" cy="282.5" rx="6.9" ry="6.7" transform="rotate(2 1513.7 282.5)" fill="#1f2b5e"/>
<ellipse cx="1526.6" cy="282.7" rx="7.6" ry="7.4" transform="rotate(107 1526.6 282.7)" fill="#1f2b5e"/>
<ellipse cx="1533.3" cy="282.7" rx="6.9" ry="6.6" transform="rotate(24 1533.3 282.7)" fill="#1f2b5e"/>
<ellipse cx="1548.0" cy="281.3" rx="5.9" ry="4.4" transform="rotate(48 1548.0 281.3)" fill="#1f2b5e"/>
<ellipse cx="1557.6" cy="284.1" rx="6.4" ry="5.3" transform="rotate(115 1557.6 284.1)" fill="#1f2b5e"/>
<ellipse cx="1475.4" cy="292.7" rx="5.9" ry="5.3" transform="rotate(12 1475.4 292.7)" fill="#1f2b5e"/>
<ellipse cx="1487.9" cy="292.6" rx="6.6" ry="4.9" transform="rotate(16 1487.9 292.6)" fill="#1f2b5e"/>
<ellipse cx="1496.3" cy="293.4" rx="7.3" ry="6.6" transform="rotate(105 1496.3 293.4)" fill="#1f2b5e"/>
<ellipse cx="1508.0" cy="292.4" rx="6.6" ry="6.3" transform="rotate(54 1508.0 292.4)" fill="#1f2b5e"/>
<ellipse cx="1518.6" cy="292.5" rx="6.5" ry="5.5" transform="rotate(72 1518.6 292.5)" fill="#1f2b5e"/>
<ellipse cx="1528.7" cy="291.1" rx="6.2" ry="5.3" transform="rotate(51 1528.7 291.1)" fill="#1f2b5e"/>
<ellipse cx="1541.3" cy="292.9" rx="6.8" ry="5.2" transform="rotate(116 1541.3 292.9)" fill="#1f2b5e"/>
<ellipse cx="1552.8" cy="290.5" rx="6.4" ry="5.2" transform="rotate(161 1552.8 290.5)" fill="#1f2b5e"/>
<ellipse cx="1564.6" cy="293.0" rx="6.7" ry="5.2" transform="rotate(83 1564.6 293.0)" fill="#1f2b5e"/>
<ellipse cx="1480.0" cy="300.0" rx="6.4" ry="5.5" transform="rotate(9 1480.0 300.0)" fill="#1f2b5e"/>
<ellipse cx="1492.3" cy="301.4" rx="7.2" ry="6.7" transform="rotate(47 1492.3 301.4)" fill="#1f2b5e"/>
<ellipse cx="1515.4" cy="302.3" rx="6.5" ry="4.8" transform="rotate(100 1515.4 302.3)" fill="#1f2b5e"/>
<ellipse cx="1525.7" cy="299.6" rx="7.2" ry="6.1" transform="rotate(142 1525.7 299.6)" fill="#1f2b5e"/>
<ellipse cx="1535.1" cy="303.4" rx="6.4" ry="5.6" transform="rotate(106 1535.1 303.4)" fill="#1f2b5e"/>
<ellipse cx="1546.3" cy="302.7" rx="7.4" ry="5.9" transform="rotate(91 1546.3 302.7)" fill="#1f2b5e"/>
<ellipse cx="1475.2" cy="311.9" rx="7.0" ry="6.9" transform="rotate(10 1475.2 311.9)" fill="#1f2b5e"/>
<ellipse cx="1485.3" cy="309.4" rx="6.2" ry="4.5" transform="rotate(25 1485.3 309.4)" fill="#1f2b5e"/>
<ellipse cx="1495.6" cy="311.1" rx="6.7" ry="4.9" transform="rotate(95 1495.6 311.1)" fill="#1f2b5e"/>
<ellipse cx="1506.9" cy="309.1" rx="6.1" ry="5.1" transform="rotate(30 1506.9 309.1)" fill="#1f2b5e"/>
<ellipse cx="1518.8" cy="309.4" rx="7.6" ry="6.1" transform="rotate(13 1518.8 309.4)" fill="#1f2b5e"/>
<ellipse cx="1532.0" cy="309.1" rx="7.3" ry="6.3" transform="rotate(160 1532.0 309.1)" fill="#1f2b5e"/>
<ellipse cx="1539.4" cy="311.9" rx="7.6" ry="7.3" transform="rotate(79 1539.4 311.9)" fill="#1f2b5e"/>
<ellipse cx="1552.1" cy="312.4" rx="6.3" ry="4.6" transform="rotate(37 1552.1 312.4)" fill="#1f2b5e"/>
<ellipse cx="1561.4" cy="312.8" rx="6.5" ry="6.5" transform="rotate(124 1561.4 312.8)" fill="#1f2b5e"/>
<ellipse cx="1479.9" cy="319.5" rx="6.6" ry="6.6" transform="rotate(49 1479.9 319.5)" fill="#1f2b5e"/>
<ellipse cx="1489.5" cy="322.2" rx="7.4" ry="6.5" transform="rotate(51 1489.5 322.2)" fill="#1f2b5e"/>
<ellipse cx="1504.0" cy="320.1" rx="6.9" ry="6.8" transform="rotate(167 1504.0 320.1)" fill="#1f2b5e"/>
<ellipse cx="1513.0" cy="321.3" rx="7.1" ry="5.2" transform="rotate(124 1513.0 321.3)" fill="#1f2b5e"/>
<ellipse cx="1525.7" cy="319.1" rx="5.9" ry="5.2" transform="rotate(19 1525.7 319.1)" fill="#1f2b5e"/>
<ellipse cx="1537.0" cy="320.1" rx="7.3" ry="6.1" transform="rotate(33 1537.0 320.1)" fill="#1f2b5e"/>
<ellipse cx="1546.2" cy="320.9" rx="7.6" ry="6.1" transform="rotate(4 1546.2 320.9)" fill="#1f2b5e"/>
<ellipse cx="1558.2" cy="321.3" rx="7.4" ry="7.0" transform="rotate(113 1558.2 321.3)" fill="#1f2b5e"/>
<ellipse cx="1486.6" cy="329.2" rx="6.4" ry="5.4" transform="rotate(91 1486.6 329.2)" fill="#1f2b5e"/>
<ellipse cx="1498.9" cy="329.2" rx="7.2" ry="6.4" transform="rotate(170 1498.9 329.2)" fill="#1f2b5e"/>
<ellipse cx="1509.7" cy="331.1" rx="5.9" ry="4.6" transform="rotate(117 1509.7 331.1)" fill="#1f2b5e"/>
<ellipse cx="1517.3" cy="330.7" rx="6.6" ry="6.2" transform="rotate(151 1517.3 330.7)" fill="#1f2b5e"/>
<ellipse cx="1531.1" cy="329.8" rx="7.8" ry="7.6" transform="rotate(109 1531.1 329.8)" fill="#1f2b5e"/>
<ellipse cx="1550.3" cy="330.7" rx="7.3" ry="6.7" transform="rotate(30 1550.3 330.7)" fill="#1f2b5e"/>
<circle cx="1494.7" cy="272.5" r="2.8" fill="#f8e71c"/>
<circle cx="1496.2" cy="277.6" r="1.6" fill="#f8e71c"/>
<circle cx="1498.4" cy="282.4" r="2.8" fill="#f8e71c"/>
<circle cx="1501.2" cy="287.0" r="1.6" fill="#f8e71c"/>
<circle cx="1504.2" cy="291.3" r="2.8" fill="#f8e71c"/>
<circle cx="1506.6" cy="296.0" r="1.6" fill="#f8e71c"/>
<circle cx="1508.1" cy="301.1" r="2.8" fill="#f8e71c"/>
<circle cx="1474.6" cy="282.0" r="2.8" fill="#f8e71c"/>
<circle cx="1478.8" cy="284.3" r="1.6" fill="#f8e71c"/>
<circle cx="1483.2" cy="286.4" r="2.8" fill="#f8e71c"/>
<circle cx="1488.0" cy="287.3" r="1.6" fill="#f8e71c"/>
<circle cx="1475.7" cy="296.9" r="2.8" fill="#f8e71c"/>
<circle cx="1482.4" cy="293.7" r="1.6" fill="#f8e71c"/>
<circle cx="1518.2" cy="273.5" r="2.8" fill="#f8e71c"/>
<circle cx="1516.6" cy="278.1" r="1.6" fill="#f8e71c"/>
<circle cx="1517.9" cy="282.1" r="2.8" fill="#f8e71c"/>
<circle cx="1521.0" cy="285.7" r="1.6" fill="#f8e71c"/>
<circle cx="1525.0" cy="288.2" r="2.8" fill="#f8e71c"/>
<circle cx="1529.1" cy="288.1" r="1.6" fill="#f8e71c"/>
<circle cx="1532.4" cy="284.8" r="2.8" fill="#f8e71c"/>
<circle cx="1534.7" cy="280.5" r="1.6" fill="#f8e71c"/>
<circle cx="1538.0" cy="277.1" r="2.8" fill="#f8e71c"/>
<circle cx="1541.7" cy="274.2" r="1.6" fill="#f8e71c"/>
<circle cx="1546.2" cy="272.5" r="2.8" fill="#f8e71c"/>
<circle cx="1538.4" cy="300.1" r="2.8" fill="#f8e71c"/>
<circle cx="1542.3" cy="296.9" r="1.6" fill="#f8e71c"/>
<circle cx="1546.5" cy="294.3" r="2.8" fill="#f8e71c"/>
<circle cx="1551.3" cy="292.8" r="1.6" fill="#f8e71c"/>
<circle cx="1556.0" cy="291.1" r="2.8" fill="#f8e71c"/>
<circle cx="1560.7" cy="289.5" r="1.6" fill="#f8e71c"/>
<circle cx="1474.6" cy="323.4" r="2.8" fill="#f8e71c"/>
<circle cx="1479.1" cy="320.3" r="1.6" fill="#f8e71c"/>
<circle cx="1483.9" cy="317.6" r="2.8" fill="#f8e71c"/>
<circle cx="1489.1" cy="316.0" r="1.6" fill="#f8e71c"/>
<circle cx="1500.3" cy="317.0" r="2.8" fill="#f8e71c"/>
<circle cx="1504.1" cy="320.6" r="1.6" fill="#f8e71c"/>
<circle cx="1507.2" cy="324.6" r="2.8" fill="#f8e71c"/>
<circle cx="1508.1" cy="329.8" r="1.6" fill="#f8e71c"/>
<circle cx="1509.3" cy="310.7" r="2.8" fill="#f8e71c"/>
<circle cx="1513.3" cy="314.5" r="1.6" fill="#f8e71c"/>
<circle cx="1517.4" cy="318.4" r="2.8" fill="#f8e71c"/>
<circle cx="1521.0" cy="322.5" r="1.6" fill="#f8e71c"/>
<circle cx="1523.3" cy="327.6" r="2.8" fill="#f8e71c"/>
<circle cx="1524.9" cy="332.9" r="1.6" fill="#f8e71c"/>
<circle cx="1530.5" cy="314.9" r="2.8" fill="#f8e71c"/>
<circle cx="1535.6" cy="315.9" r="1.6" fill="#f8e71c"/>
<circle cx="1540.0" cy="318.4" r="2.8" fill="#f8e71c"/>
<circle cx="1543.4" cy="322.0" r="1.6" fill="#f8e71c"/>
<circle cx="1544.8" cy="326.9" r="2.8" fill="#f8e71c"/>
<circle cx="1543.9" cy="331.9" r="1.6" fill="#f8e71c"/>
<circle cx="1547.3" cy="309.6" r="2.8" fill="#f8e71c"/>
<circle cx="1550.9" cy="313.6" r="1.6" fill="#f8e71c"/>
<circle cx="1554.7" cy="317.4" r="2.8" fill="#f8e71c"/>
<circle cx="1558.9" cy="320.7" r="1.6" fill="#f8e71c"/>
<circle cx="1564.1" cy="321.3" r="2.8" fill="#f8e71c"/>
<circle cx="1484.6" cy="303.2" r="2.6" fill="#f8e71c"/>
<circle cx="1490.1" cy="305.2" r="1.5" fill="#f8e71c"/>
<circle cx="1495.7" cy="306.1" r="2.6" fill="#f8e71c"/>
<circle cx="1501.4" cy="305.4" r="1.5" fill="#f8e71c"/>
<circle cx="1522.7" cy="301.1" r="2.6" fill="#f8e71c"/>
<circle cx="1526.8" cy="303.7" r="1.5" fill="#f8e71c"/>
<circle cx="1528.8" cy="307.1" r="2.6" fill="#f8e71c"/>
<circle cx="1527.2" cy="311.7" r="1.5" fill="#f8e71c"/>
<circle cx="1554.0" cy="301.1" r="2.6" fill="#f8e71c"/>
<circle cx="1560.8" cy="303.3" r="1.5" fill="#f8e71c"/>
<circle cx="1564.1" cy="309.6" r="2.6" fill="#f8e71c"/>
<circle cx="1493.6" cy="326.6" r="2.6" fill="#f8e71c"/>
<circle cx="1496.9" cy="331.9" r="1.5" fill="#f8e71c"/>
<circle cx="1554.0" cy="328.7" r="2.6" fill="#f8e71c"/>
<circle cx="1560.7" cy="326.6" r="1.5" fill="#f8e71c"/>
<text x="1518.5" y="306.5" font-size="14" fill="#cfd6e6" text-anchor="middle" >C-Li<tspan font-size="10.4" dy="3.4" font-style="italic">x</tspan><tspan dy="-3.4">Fe</tspan><tspan font-size="10.4" dy="3.4" font-style="italic">y</tspan><tspan dy="-3.4">F</tspan><tspan font-size="10.4" dy="3.4">3</tspan></text>
<rect x="1340" y="307" width="108" height="76" rx="26" fill="#9a9d80" opacity="0.45" filter="url(#blur2)"/>
<circle cx="1356.1" cy="356.2" r="2.4" fill="#f4b414" stroke="#f8e71c" stroke-width="1.6"/>
<circle cx="1437.4" cy="361.3" r="2.7" fill="#f2960e" stroke="#f8e71c" stroke-width="1.6"/>
<circle cx="1434.2" cy="339.7" r="2.0" fill="#f2960e" stroke="#f8e71c" stroke-width="1.6"/>
<circle cx="1440.2" cy="334.2" r="2.1" fill="#f8d818" stroke="#f8e71c" stroke-width="1.6"/>
<circle cx="1349.2" cy="320.9" r="3.0" fill="#f4b414" stroke="#f8e71c" stroke-width="1.6"/>
<circle cx="1413.7" cy="308.5" r="2.9" fill="#f0a010" stroke="#f8e71c" stroke-width="1.6"/>
<circle cx="1365.5" cy="314.0" r="2.3" fill="#f8d818" stroke="#f8e71c" stroke-width="1.6"/>
<circle cx="1346.4" cy="328.2" r="2.6" fill="#f8d818" stroke="#f8e71c" stroke-width="1.6"/>
<circle cx="1416.3" cy="313.4" r="2.2" fill="#f8d818" stroke="#f8e71c" stroke-width="1.6"/>
<circle cx="1353.2" cy="329.5" r="2.5" fill="#f0a010" stroke="#f8e71c" stroke-width="1.6"/>
<circle cx="1436.9" cy="369.2" r="1.8" fill="#f0a010" stroke="#f8e71c" stroke-width="1.6"/>
<circle cx="1361.7" cy="362.2" r="2.7" fill="#f8d818" stroke="#f8e71c" stroke-width="1.6"/>
<circle cx="1421.3" cy="369.8" r="2.5" fill="#f0a010" stroke="#f8e71c" stroke-width="1.6"/>
<circle cx="1426.9" cy="331.6" r="2.2" fill="#f8d818" stroke="#f8e71c" stroke-width="1.6"/>
<circle cx="1429.7" cy="336.0" r="2.9" fill="#f4b414" stroke="#f8e71c" stroke-width="1.6"/>
<circle cx="1383.3" cy="378.4" r="3.0" fill="#f4b414" stroke="#f8e71c" stroke-width="1.6"/>
<circle cx="1428.8" cy="348.4" r="2.6" fill="#f0a010" stroke="#f8e71c" stroke-width="1.6"/>
<circle cx="1389.5" cy="386.3" r="2.0" fill="#f0a010" stroke="#f8e71c" stroke-width="1.6"/>
<circle cx="1413.6" cy="379.7" r="2.8" fill="#f4b414" stroke="#f8e71c" stroke-width="1.6"/>
<circle cx="1380.4" cy="390.9" r="1.9" fill="#f8d818" stroke="#f8e71c" stroke-width="1.6"/>
<circle cx="1355.5" cy="374.2" r="1.9" fill="#f0a010" stroke="#f8e71c" stroke-width="1.6"/>
<circle cx="1359.7" cy="316.7" r="3.0" fill="#f4b414" stroke="#f8e71c" stroke-width="1.6"/>
<circle cx="1338.8" cy="329.5" r="2.0" fill="#f0a010" stroke="#f8e71c" stroke-width="1.6"/>
<circle cx="1376.2" cy="313.6" r="2.8" fill="#f0a010" stroke="#f8e71c" stroke-width="1.6"/>
<circle cx="1364.3" cy="318.5" r="2.7" fill="#f4b414" stroke="#f8e71c" stroke-width="1.6"/>
<circle cx="1356.3" cy="380.3" r="2.0" fill="#f8d818" stroke="#f8e71c" stroke-width="1.6"/>
<circle cx="1360.9" cy="325.2" r="2.2" fill="#f2960e" stroke="#f8e71c" stroke-width="1.6"/>
<circle cx="1432.2" cy="366.6" r="2.3" fill="#f0a010" stroke="#f8e71c" stroke-width="1.6"/>
<circle cx="1368.1" cy="313.9" r="2.0" fill="#f2960e" stroke="#f8e71c" stroke-width="1.6"/>
<circle cx="1418.5" cy="383.6" r="2.4" fill="#f8d818" stroke="#f8e71c" stroke-width="1.6"/>
<circle cx="1385.8" cy="378.4" r="2.9" fill="#f0a010" stroke="#f8e71c" stroke-width="1.6"/>
<circle cx="1439.0" cy="373.5" r="1.6" fill="#f2960e" stroke="#f8e71c" stroke-width="1.6"/>
<circle cx="1434.8" cy="338.3" r="2.2" fill="#f0a010" stroke="#f8e71c" stroke-width="1.6"/>
<circle cx="1333.6" cy="336.6" r="1.6" fill="#f2960e" stroke="#f8e71c" stroke-width="1.6"/>
<circle cx="1340.2" cy="332.1" r="1.9" fill="#f4b414" stroke="#f8e71c" stroke-width="1.6"/>
<circle cx="1375.4" cy="374.4" r="2.2" fill="#f2960e" stroke="#f8e71c" stroke-width="1.6"/>
<circle cx="1420.8" cy="305.9" r="2.3" fill="#f4b414" stroke="#f8e71c" stroke-width="1.6"/>
<circle cx="1382.6" cy="378.2" r="2.0" fill="#f8d818" stroke="#f8e71c" stroke-width="1.6"/>
<circle cx="1444.3" cy="362.5" r="2.1" fill="#f8d818" stroke="#f8e71c" stroke-width="1.6"/>
<circle cx="1393.8" cy="311.8" r="2.1" fill="#f4b414" stroke="#f8e71c" stroke-width="1.6"/>
<circle cx="1398.9" cy="385.4" r="2.2" fill="#f4b414" stroke="#f8e71c" stroke-width="1.6"/>
<circle cx="1349.0" cy="375.9" r="1.9" fill="#f4b414" stroke="#f8e71c" stroke-width="1.6"/>
<circle cx="1414.4" cy="376.6" r="2.6" fill="#f2960e" stroke="#f8e71c" stroke-width="1.6"/>
<circle cx="1376.7" cy="315.8" r="2.1" fill="#f2960e" stroke="#f8e71c" stroke-width="1.6"/>
<circle cx="1383.4" cy="308.8" r="2.3" fill="#f8d818" stroke="#f8e71c" stroke-width="1.6"/>
<circle cx="1347.5" cy="338.7" r="2.3" fill="#f2960e" stroke="#f8e71c" stroke-width="1.6"/>
<circle cx="1367.5" cy="385.1" r="2.4" fill="#f2960e" stroke="#f8e71c" stroke-width="1.6"/>
<circle cx="1367.9" cy="305.9" r="1.6" fill="#f8d818" stroke="#f8e71c" stroke-width="1.6"/>
<circle cx="1365.4" cy="367.5" r="2.7" fill="#f0a010" stroke="#f8e71c" stroke-width="1.6"/>
<circle cx="1371.6" cy="370.2" r="2.4" fill="#f0a010" stroke="#f8e71c" stroke-width="1.6"/>
<circle cx="1433.3" cy="358.8" r="1.6" fill="#f2960e" stroke="#f8e71c" stroke-width="1.6"/>
<circle cx="1433.5" cy="340.3" r="2.7" fill="#f2960e" stroke="#f8e71c" stroke-width="1.6"/>
<circle cx="1417.5" cy="312.0" r="2.4" fill="#f8d818" stroke="#f8e71c" stroke-width="1.6"/>
<circle cx="1419.8" cy="306.7" r="2.5" fill="#f4b414" stroke="#f8e71c" stroke-width="1.6"/>
<circle cx="1436.4" cy="348.1" r="1.8" fill="#f0a010" stroke="#f8e71c" stroke-width="1.6"/>
<circle cx="1447.0" cy="338.1" r="1.8" fill="#f8d818" stroke="#f8e71c" stroke-width="1.6"/>
<circle cx="1372.3" cy="381.2" r="1.8" fill="#f2960e" stroke="#f8e71c" stroke-width="1.6"/>
<circle cx="1356.3" cy="365.5" r="2.6" fill="#f0a010" stroke="#f8e71c" stroke-width="1.6"/>
<circle cx="1402.8" cy="303.8" r="2.4" fill="#f0a010" stroke="#f8e71c" stroke-width="1.6"/>
<circle cx="1431.3" cy="358.9" r="2.8" fill="#f4b414" stroke="#f8e71c" stroke-width="1.6"/>
<circle cx="1367.3" cy="301.9" r="2.2" fill="#f0a010" stroke="#f8e71c" stroke-width="1.6"/>
<circle cx="1387.3" cy="384.2" r="1.8" fill="#f8d818" stroke="#f8e71c" stroke-width="1.6"/>
<circle cx="1379.0" cy="371.5" r="2.0" fill="#f4b414" stroke="#f8e71c" stroke-width="1.6"/>
<circle cx="1357.3" cy="336.3" r="2.5" fill="#f8d818" stroke="#f8e71c" stroke-width="1.6"/>
<circle cx="1420.0" cy="322.3" r="2.2" fill="#f2960e" stroke="#f8e71c" stroke-width="1.6"/>
<circle cx="1449.9" cy="326.9" r="1.9" fill="#f2960e" stroke="#f8e71c" stroke-width="1.6"/>
<circle cx="1335.1" cy="338.3" r="2.6" fill="#f4b414" stroke="#f8e71c" stroke-width="1.6"/>
<circle cx="1380.8" cy="302.3" r="1.9" fill="#f4b414" stroke="#f8e71c" stroke-width="1.6"/>
<circle cx="1452.7" cy="340.9" r="2.2" fill="#f8d818" stroke="#f8e71c" stroke-width="1.6"/>
<circle cx="1359.8" cy="373.9" r="2.2" fill="#f2960e" stroke="#f8e71c" stroke-width="1.6"/>
<circle cx="1424.3" cy="308.6" r="1.7" fill="#f0a010" stroke="#f8e71c" stroke-width="1.6"/>
<circle cx="1432.9" cy="349.4" r="2.6" fill="#f2960e" stroke="#f8e71c" stroke-width="1.6"/>
<circle cx="1355.4" cy="326.3" r="2.2" fill="#f0a010" stroke="#f8e71c" stroke-width="1.6"/>
<circle cx="1370.4" cy="314.1" r="2.2" fill="#f2960e" stroke="#f8e71c" stroke-width="1.6"/>
<circle cx="1376.2" cy="316.8" r="2.5" fill="#f0a010" stroke="#f8e71c" stroke-width="1.6"/>
<circle cx="1344.5" cy="350.3" r="2.9" fill="#f4b414" stroke="#f8e71c" stroke-width="1.6"/>
<circle cx="1424.5" cy="318.5" r="2.5" fill="#f8d818" stroke="#f8e71c" stroke-width="1.6"/>
<circle cx="1369.7" cy="375.0" r="1.9" fill="#f4b414" stroke="#f8e71c" stroke-width="1.6"/>
<circle cx="1381.9" cy="312.9" r="2.8" fill="#f8d818" stroke="#f8e71c" stroke-width="1.6"/>
<circle cx="1403.6" cy="310.0" r="2.5" fill="#f8d818" stroke="#f8e71c" stroke-width="1.6"/>
<circle cx="1360.7" cy="360.0" r="1.8" fill="#f4b414" stroke="#f8e71c" stroke-width="1.6"/>
<circle cx="1424.3" cy="361.3" r="1.9" fill="#f8d818" stroke="#f8e71c" stroke-width="1.6"/>
<circle cx="1384.7" cy="385.0" r="1.8" fill="#f4b414" stroke="#f8e71c" stroke-width="1.6"/>
<circle cx="1353.9" cy="338.4" r="2.0" fill="#f0a010" stroke="#f8e71c" stroke-width="1.6"/>
<circle cx="1418.2" cy="320.8" r="2.3" fill="#f4b414" stroke="#f8e71c" stroke-width="1.6"/>
<circle cx="1371.3" cy="369.4" r="2.9" fill="#f2960e" stroke="#f8e71c" stroke-width="1.6"/>
<circle cx="1349.1" cy="335.5" r="2.8" fill="#f8d818" stroke="#f8e71c" stroke-width="1.6"/>
<circle cx="1347.8" cy="358.5" r="2.4" fill="#f8d818" stroke="#f8e71c" stroke-width="1.6"/>
<circle cx="1411.8" cy="312.4" r="2.4" fill="#f2960e" stroke="#f8e71c" stroke-width="1.6"/>
<circle cx="1435.4" cy="335.5" r="1.8" fill="#f2960e" stroke="#f8e71c" stroke-width="1.6"/>
<circle cx="1384.6" cy="310.6" r="2.8" fill="#f4b414" stroke="#f8e71c" stroke-width="1.6"/>
<circle cx="1434.5" cy="340.9" r="1.8" fill="#f4b414" stroke="#f8e71c" stroke-width="1.6"/>
<circle cx="1444.3" cy="363.4" r="2.0" fill="#f0a010" stroke="#f8e71c" stroke-width="1.6"/>
<circle cx="1352.6" cy="357.3" r="1.9" fill="#f8d818" stroke="#f8e71c" stroke-width="1.6"/>
<circle cx="1441.4" cy="376.0" r="2.0" fill="#f8d818" stroke="#f8e71c" stroke-width="1.6"/>
<circle cx="1344.6" cy="336.0" r="2.0" fill="#f0a010" stroke="#f8e71c" stroke-width="1.6"/>
<circle cx="1427.4" cy="379.7" r="2.2" fill="#f8d818" stroke="#f8e71c" stroke-width="1.6"/>
<circle cx="1416.0" cy="304.0" r="2.1" fill="#f2960e" stroke="#f8e71c" stroke-width="1.6"/>
<circle cx="1443.3" cy="329.8" r="2.1" fill="#f0a010" stroke="#f8e71c" stroke-width="1.6"/>
<circle cx="1382.3" cy="310.2" r="2.4" fill="#f8d818" stroke="#f8e71c" stroke-width="1.6"/>
<circle cx="1439.5" cy="354.4" r="2.7" fill="#f0a010" stroke="#f8e71c" stroke-width="1.6"/>
<circle cx="1346.2" cy="351.6" r="2.4" fill="#f2960e" stroke="#f8e71c" stroke-width="1.6"/>
<circle cx="1432.5" cy="348.8" r="2.2" fill="#f4b414" stroke="#f8e71c" stroke-width="1.6"/>
<circle cx="1405.2" cy="306.5" r="2.9" fill="#f2960e" stroke="#f8e71c" stroke-width="1.6"/>
<circle cx="1440.5" cy="345.7" r="2.9" fill="#f8d818" stroke="#f8e71c" stroke-width="1.6"/>
<circle cx="1430.3" cy="344.4" r="2.2" fill="#f4b414" stroke="#f8e71c" stroke-width="1.6"/>
<circle cx="1414.9" cy="313.6" r="2.1" fill="#f8d818" stroke="#f8e71c" stroke-width="1.6"/>
<circle cx="1439.1" cy="323.4" r="2.4" fill="#f8d818" stroke="#f8e71c" stroke-width="1.6"/>
<circle cx="1443.1" cy="343.1" r="1.6" fill="#f2960e" stroke="#f8e71c" stroke-width="1.6"/>
<circle cx="1376.3" cy="307.3" r="2.4" fill="#f8d818" stroke="#f8e71c" stroke-width="1.6"/>
<circle cx="1421.0" cy="301.2" r="1.9" fill="#f8d818" stroke="#f8e71c" stroke-width="1.6"/>
<circle cx="1433.1" cy="325.7" r="2.9" fill="#f0a010" stroke="#f8e71c" stroke-width="1.6"/>
<circle cx="1442.6" cy="361.0" r="2.0" fill="#f4b414" stroke="#f8e71c" stroke-width="1.6"/>
<circle cx="1365.3" cy="370.1" r="2.9" fill="#f4b414" stroke="#f8e71c" stroke-width="1.6"/>
<circle cx="1452.2" cy="340.2" r="2.6" fill="#f8d818" stroke="#f8e71c" stroke-width="1.6"/>
<circle cx="1386.4" cy="312.1" r="2.0" fill="#f8d818" stroke="#f8e71c" stroke-width="1.6"/>
<circle cx="1363.7" cy="382.0" r="1.9" fill="#f0a010" stroke="#f8e71c" stroke-width="1.6"/>
<circle cx="1334.4" cy="351.8" r="2.3" fill="#f8d818" stroke="#f8e71c" stroke-width="1.6"/>
<circle cx="1431.5" cy="361.1" r="2.0" fill="#f0a010" stroke="#f8e71c" stroke-width="1.6"/>
<circle cx="1373.1" cy="305.8" r="2.9" fill="#f2960e" stroke="#f8e71c" stroke-width="1.6"/>
<circle cx="1370.2" cy="316.7" r="2.8" fill="#f8d818" stroke="#f8e71c" stroke-width="1.6"/>
<circle cx="1397.9" cy="373.2" r="2.5" fill="#f0a010" stroke="#f8e71c" stroke-width="1.6"/>
<circle cx="1354.2" cy="336.3" r="1.9" fill="#f8d818" stroke="#f8e71c" stroke-width="1.6"/>
<circle cx="1358.2" cy="376.5" r="2.7" fill="#f2960e" stroke="#f8e71c" stroke-width="1.6"/>
<circle cx="1352.4" cy="317.7" r="2.4" fill="#f8d818" stroke="#f8e71c" stroke-width="1.6"/>
<circle cx="1372.4" cy="389.1" r="2.4" fill="#f4b414" stroke="#f8e71c" stroke-width="1.6"/>
<circle cx="1404.8" cy="376.6" r="2.1" fill="#f2960e" stroke="#f8e71c" stroke-width="1.6"/>
<circle cx="1344.1" cy="349.1" r="2.0" fill="#f8d818" stroke="#f8e71c" stroke-width="1.6"/>
<circle cx="1339.8" cy="347.1" r="2.6" fill="#f2960e" stroke="#f8e71c" stroke-width="1.6"/>
<circle cx="1333.4" cy="342.2" r="2.2" fill="#f0a010" stroke="#f8e71c" stroke-width="1.6"/>
<rect x="1352" y="318" width="84" height="53" rx="14" fill="#f26a12"/>
<ellipse cx="1421.1" cy="315.4" rx="7.5" ry="6.0" transform="rotate(134 1421.1 315.4)" fill="#f26a12"/>
<ellipse cx="1352.1" cy="323.9" rx="6.3" ry="5.3" transform="rotate(78 1352.1 323.9)" fill="#f26a12"/>
<ellipse cx="1366.6" cy="326.3" rx="7.0" ry="5.2" transform="rotate(39 1366.6 326.3)" fill="#f26a12"/>
<ellipse cx="1375.6" cy="324.0" rx="8.3" ry="6.2" transform="rotate(48 1375.6 324.0)" fill="#f26a12"/>
<ellipse cx="1391.5" cy="325.4" rx="6.4" ry="4.7" transform="rotate(39 1391.5 325.4)" fill="#f26a12"/>
<ellipse cx="1402.3" cy="323.1" rx="8.2" ry="5.9" transform="rotate(52 1402.3 323.1)" fill="#f26a12"/>
<ellipse cx="1413.4" cy="325.5" rx="7.8" ry="6.6" transform="rotate(61 1413.4 325.5)" fill="#f26a12"/>
<ellipse cx="1426.4" cy="324.9" rx="7.5" ry="6.6" transform="rotate(120 1426.4 324.9)" fill="#f26a12"/>
<ellipse cx="1437.7" cy="325.0" rx="7.6" ry="7.6" transform="rotate(55 1437.7 325.0)" fill="#f26a12"/>
<ellipse cx="1349.2" cy="335.7" rx="6.6" ry="5.5" transform="rotate(77 1349.2 335.7)" fill="#f26a12"/>
<ellipse cx="1359.5" cy="334.4" rx="7.6" ry="5.7" transform="rotate(119 1359.5 334.4)" fill="#f26a12"/>
<ellipse cx="1372.7" cy="334.1" rx="6.3" ry="5.4" transform="rotate(122 1372.7 334.1)" fill="#f26a12"/>
<ellipse cx="1383.4" cy="335.9" rx="6.3" ry="4.6" transform="rotate(91 1383.4 335.9)" fill="#f26a12"/>
<ellipse cx="1397.7" cy="336.4" rx="6.8" ry="5.2" transform="rotate(116 1397.7 336.4)" fill="#f26a12"/>
<ellipse cx="1418.8" cy="336.4" rx="7.2" ry="6.9" transform="rotate(70 1418.8 336.4)" fill="#f26a12"/>
<ellipse cx="1429.7" cy="334.2" rx="7.9" ry="5.9" transform="rotate(52 1429.7 334.2)" fill="#f26a12"/>
<ellipse cx="1351.7" cy="347.8" rx="6.8" ry="5.0" transform="rotate(103 1351.7 347.8)" fill="#f26a12"/>
<ellipse cx="1367.7" cy="346.9" rx="8.3" ry="7.5" transform="rotate(10 1367.7 346.9)" fill="#f26a12"/>
<ellipse cx="1377.0" cy="346.3" rx="6.7" ry="5.0" transform="rotate(156 1377.0 346.3)" fill="#f26a12"/>
<ellipse cx="1390.5" cy="345.0" rx="8.3" ry="6.3" transform="rotate(113 1390.5 345.0)" fill="#f26a12"/>
<ellipse cx="1400.6" cy="347.7" rx="8.5" ry="7.0" transform="rotate(91 1400.6 347.7)" fill="#f26a12"/>
<ellipse cx="1413.0" cy="345.3" rx="8.5" ry="8.5" transform="rotate(163 1413.0 345.3)" fill="#f26a12"/>
<ellipse cx="1425.8" cy="346.6" rx="7.2" ry="7.1" transform="rotate(144 1425.8 346.6)" fill="#f26a12"/>
<ellipse cx="1436.8" cy="345.3" rx="6.6" ry="5.2" transform="rotate(35 1436.8 345.3)" fill="#f26a12"/>
<ellipse cx="1350.0" cy="357.8" rx="8.0" ry="7.3" transform="rotate(79 1350.0 357.8)" fill="#f26a12"/>
<ellipse cx="1359.9" cy="354.7" rx="7.0" ry="5.8" transform="rotate(119 1359.9 354.7)" fill="#f26a12"/>
<ellipse cx="1370.7" cy="355.2" rx="8.1" ry="7.9" transform="rotate(140 1370.7 355.2)" fill="#f26a12"/>
<ellipse cx="1382.5" cy="356.3" rx="8.1" ry="6.4" transform="rotate(87 1382.5 356.3)" fill="#f26a12"/>
<ellipse cx="1396.2" cy="354.2" rx="8.0" ry="7.2" transform="rotate(80 1396.2 354.2)" fill="#f26a12"/>
<ellipse cx="1408.1" cy="356.5" rx="6.4" ry="5.9" transform="rotate(139 1408.1 356.5)" fill="#f26a12"/>
<ellipse cx="1419.5" cy="357.5" rx="7.9" ry="7.4" transform="rotate(174 1419.5 357.5)" fill="#f26a12"/>
<ellipse cx="1429.8" cy="358.3" rx="8.1" ry="7.5" transform="rotate(18 1429.8 358.3)" fill="#f26a12"/>
<ellipse cx="1354.8" cy="366.1" rx="6.9" ry="6.5" transform="rotate(115 1354.8 366.1)" fill="#f26a12"/>
<ellipse cx="1364.9" cy="367.9" rx="8.1" ry="7.2" transform="rotate(138 1364.9 367.9)" fill="#f26a12"/>
<ellipse cx="1378.3" cy="368.9" rx="7.3" ry="6.5" transform="rotate(102 1378.3 368.9)" fill="#f26a12"/>
<ellipse cx="1388.9" cy="365.9" rx="8.2" ry="8.1" transform="rotate(124 1388.9 365.9)" fill="#f26a12"/>
<ellipse cx="1401.8" cy="366.3" rx="7.8" ry="7.6" transform="rotate(135 1401.8 366.3)" fill="#f26a12"/>
<ellipse cx="1427.0" cy="366.5" rx="6.3" ry="5.4" transform="rotate(162 1427.0 366.5)" fill="#f26a12"/>
<ellipse cx="1436.8" cy="367.9" rx="7.8" ry="6.9" transform="rotate(45 1436.8 367.9)" fill="#f26a12"/>
<circle cx="1405.8" cy="360.2" r="2.9" fill="#f8e71c"/>
<circle cx="1436.5" cy="360.1" r="3.1" fill="#f8e71c"/>
<circle cx="1348.8" cy="342.3" r="3.1" fill="#f8e71c"/>
<circle cx="1408.3" cy="370.6" r="1.7" fill="#f8e71c"/>
<circle cx="1391.0" cy="328.0" r="2.4" fill="#f8e71c"/>
<circle cx="1401.1" cy="312.9" r="1.9" fill="#f8e71c"/>
<circle cx="1372.8" cy="371.6" r="2.8" fill="#f8e71c"/>
<circle cx="1361.3" cy="363.8" r="1.7" fill="#f8e71c"/>
<circle cx="1405.3" cy="320.2" r="1.5" fill="#f8e71c"/>
<circle cx="1429.7" cy="325.6" r="1.9" fill="#f8e71c"/>
<circle cx="1440.3" cy="368.7" r="2.0" fill="#f8e71c"/>
<circle cx="1438.3" cy="347.0" r="2.7" fill="#f8e71c"/>
<circle cx="1365.7" cy="373.2" r="2.7" fill="#f8e71c"/>
<circle cx="1438.8" cy="370.1" r="2.0" fill="#f8e71c"/>
<circle cx="1380.7" cy="322.8" r="1.7" fill="#f8e71c"/>
<circle cx="1352.3" cy="331.6" r="2.5" fill="#f8e71c"/>
<circle cx="1346.3" cy="356.1" r="2.1" fill="#f8e71c"/>
<circle cx="1375.8" cy="365.2" r="2.3" fill="#f8e71c"/>
<circle cx="1376.3" cy="343.3" r="2.7" fill="#f8e71c"/>
<circle cx="1348.2" cy="360.7" r="2.9" fill="#f8e71c"/>
<circle cx="1347.7" cy="363.2" r="2.1" fill="#f8e71c"/>
<circle cx="1401.5" cy="312.6" r="1.6" fill="#f8e71c"/>
<circle cx="1363.4" cy="374.1" r="1.8" fill="#f8e71c"/>
<circle cx="1418.6" cy="372.4" r="3.1" fill="#f8e71c"/>
<circle cx="1379.1" cy="335.1" r="2.4" fill="#f8e71c"/>
<circle cx="1420.5" cy="319.0" r="2.8" fill="#f8e71c"/>
<circle cx="1422.5" cy="367.9" r="1.6" fill="#f8e71c"/>
<circle cx="1436.8" cy="317.9" r="2.1" fill="#f8e71c"/>
<circle cx="1404.6" cy="371.7" r="2.1" fill="#f8e71c"/>
<circle cx="1434.7" cy="347.4" r="2.0" fill="#f8e71c"/>
<circle cx="1376.4" cy="323.5" r="1.6" fill="#f8e71c"/>
<circle cx="1360.3" cy="356.8" r="3.2" fill="#f8e71c"/>
<circle cx="1361.5" cy="315.2" r="3.2" fill="#f8e71c"/>
<circle cx="1397.2" cy="338.4" r="1.9" fill="#f8e71c"/>
<circle cx="1403.0" cy="365.7" r="2.3" fill="#f8e71c"/>
<circle cx="1386.5" cy="315.6" r="3.1" fill="#f8e71c"/>
<circle cx="1349.1" cy="344.1" r="2.9" fill="#f8e71c"/>
<circle cx="1358.5" cy="359.6" r="3.1" fill="#f8e71c"/>
<circle cx="1406.5" cy="363.2" r="1.7" fill="#f8e71c"/>
<circle cx="1387.7" cy="321.7" r="2.9" fill="#f8e71c"/>
<circle cx="1374.3" cy="341.5" r="3.2" fill="#f8e71c"/>
<circle cx="1427.8" cy="375.4" r="2.3" fill="#f8e71c"/>
<circle cx="1392.9" cy="359.4" r="2.3" fill="#f8e71c"/>
<circle cx="1373.9" cy="338.2" r="1.7" fill="#f8e71c"/>
<circle cx="1382.2" cy="376.2" r="3.1" fill="#f8e71c"/>
<circle cx="1406.2" cy="344.5" r="2.1" fill="#f8e71c"/>
<circle cx="1354.6" cy="329.7" r="2.8" fill="#f8e71c"/>
<circle cx="1429.3" cy="335.5" r="2.8" fill="#f8e71c"/>
<circle cx="1420.4" cy="357.1" r="2.6" fill="#f8e71c"/>
<circle cx="1418.9" cy="335.6" r="2.7" fill="#f8e71c"/>
<circle cx="1373.0" cy="343.6" r="2.8" fill="#f8e71c"/>
<circle cx="1412.3" cy="331.1" r="3.1" fill="#f8e71c"/>
<circle cx="1408.4" cy="349.7" r="1.5" fill="#f8e71c"/>
<circle cx="1398.5" cy="328.3" r="2.6" fill="#f8e71c"/>
<circle cx="1390.4" cy="365.1" r="2.6" fill="#f8e71c"/>
<circle cx="1422.6" cy="334.6" r="2.6" fill="#f8e71c"/>
<circle cx="1416.8" cy="365.8" r="2.1" fill="#f8e71c"/>
<circle cx="1426.9" cy="368.5" r="2.7" fill="#f8e71c"/>
<circle cx="1395.7" cy="346.4" r="1.8" fill="#f8e71c"/>
<circle cx="1426.3" cy="372.9" r="2.3" fill="#f8e71c"/>
<circle cx="1412.4" cy="358.8" r="2.7" fill="#f8e71c"/>
<circle cx="1362.5" cy="362.7" r="2.5" fill="#f8e71c"/>
<circle cx="1409.9" cy="339.4" r="2.6" fill="#f8e71c"/>
<circle cx="1420.4" cy="353.4" r="2.7" fill="#f8e71c"/>
<circle cx="1348.7" cy="322.4" r="2.2" fill="#f8e71c"/>
<circle cx="1408.4" cy="326.2" r="2.7" fill="#f8e71c"/>
<circle cx="1406.6" cy="314.7" r="2.3" fill="#f8e71c"/>
<circle cx="1367.7" cy="315.5" r="1.7" fill="#f8e71c"/>
<circle cx="1376.5" cy="323.8" r="1.8" fill="#f8e71c"/>
<circle cx="1349.4" cy="342.2" r="2.1" fill="#f8e71c"/>
<circle cx="1404.7" cy="350.4" r="1.9" fill="#f8e71c"/>
<circle cx="1384.9" cy="330.1" r="2.2" fill="#f8e71c"/>
<circle cx="1357.0" cy="366.0" r="2.1" fill="#f8e71c"/>
<circle cx="1349.5" cy="351.9" r="1.7" fill="#f8e71c"/>
<circle cx="1398.3" cy="334.1" r="2.5" fill="#f8e71c"/>
<circle cx="1438.0" cy="365.2" r="2.2" fill="#f8e71c"/>
<circle cx="1424.0" cy="353.7" r="2.1" fill="#f8e71c"/>
<circle cx="1359.6" cy="350.7" r="2.5" fill="#f8e71c"/>
<circle cx="1404.4" cy="334.8" r="3.0" fill="#f8e71c"/>
<circle cx="1400.3" cy="352.0" r="1.7" fill="#f8e71c"/>
<circle cx="1406.4" cy="369.9" r="2.1" fill="#f8e71c"/>
<circle cx="1387.4" cy="326.7" r="2.0" fill="#f8e71c"/>
<circle cx="1439.4" cy="336.7" r="3.1" fill="#f8e71c"/>
<circle cx="1433.7" cy="350.7" r="1.9" fill="#f8e71c"/>
<circle cx="1440.2" cy="344.3" r="2.2" fill="#f8e71c"/>
<circle cx="1376.6" cy="376.0" r="2.3" fill="#f8e71c"/>
<circle cx="1373.5" cy="343.0" r="1.7" fill="#f8e71c"/>
<circle cx="1405.7" cy="340.8" r="2.0" fill="#f8e71c"/>
<circle cx="1421.0" cy="365.7" r="1.5" fill="#f8e71c"/>
<circle cx="1397.1" cy="329.8" r="3.1" fill="#f8e71c"/>
<circle cx="1421.1" cy="328.0" r="2.0" fill="#f8e71c"/>
<circle cx="1360.9" cy="376.3" r="2.0" fill="#f8e71c"/>
<circle cx="1404.4" cy="342.9" r="2.6" fill="#f8e71c"/>
<circle cx="1404.0" cy="360.3" r="1.7" fill="#f8e71c"/>
<circle cx="1419.0" cy="331.5" r="2.4" fill="#f8e71c"/>
<circle cx="1378.3" cy="331.3" r="2.4" fill="#f8e71c"/>
<circle cx="1390.6" cy="335.5" r="2.8" fill="#f8e71c"/>
<circle cx="1402.7" cy="314.4" r="1.9" fill="#f8e71c"/>
<circle cx="1389.7" cy="371.6" r="3.0" fill="#f8e71c"/>
<circle cx="1398.4" cy="312.9" r="2.8" fill="#f8e71c"/>
<circle cx="1387.1" cy="349.4" r="2.7" fill="#f8e71c"/>
<circle cx="1406.7" cy="343.3" r="3.0" fill="#f8e71c"/>
<circle cx="1383.0" cy="337.5" r="2.9" fill="#f8e71c"/>
<circle cx="1364.9" cy="331.3" r="2.9" fill="#f8e71c"/>
<circle cx="1352.3" cy="366.4" r="2.7" fill="#f8e71c"/>
<circle cx="1387.6" cy="330.6" r="2.8" fill="#f8e71c"/>
<circle cx="1433.4" cy="321.3" r="2.3" fill="#f8e71c"/>
<circle cx="1398.7" cy="344.3" r="2.1" fill="#f8e71c"/>
<circle cx="1360.7" cy="350.1" r="2.9" fill="#f8e71c"/>
<circle cx="1352.6" cy="327.0" r="2.9" fill="#f8e71c"/>
<circle cx="1422.0" cy="355.1" r="1.5" fill="#f8e71c"/>
<circle cx="1415.4" cy="375.6" r="3.2" fill="#f8e71c"/>
<circle cx="1413.3" cy="315.2" r="2.9" fill="#f8e71c"/>
<circle cx="1367.0" cy="354.0" r="3.1" fill="#f8e71c"/>
<circle cx="1414.4" cy="320.8" r="2.0" fill="#f8e71c"/>
<circle cx="1434.1" cy="321.7" r="2.5" fill="#f8e71c"/>
<circle cx="1385.7" cy="322.5" r="2.6" fill="#f8e71c"/>
<circle cx="1350.2" cy="319.0" r="2.1" fill="#f8e71c"/>
<circle cx="1352.9" cy="315.7" r="2.5" fill="#f8e71c"/>
<circle cx="1417.3" cy="369.1" r="1.7" fill="#f8e71c"/>
<circle cx="1387.4" cy="332.4" r="2.5" fill="#f8e71c"/>
<circle cx="1393.0" cy="373.0" r="2.1" fill="#f8e71c"/>
<circle cx="1351.4" cy="357.3" r="1.8" fill="#f8e71c"/>
<circle cx="1406.6" cy="344.9" r="3.0" fill="#f8e71c"/>
<circle cx="1399.3" cy="352.4" r="1.9" fill="#f8e71c"/>
<circle cx="1399.0" cy="328.5" r="2.8" fill="#f8e71c"/>
<circle cx="1395.6" cy="320.7" r="1.9" fill="#f8e71c"/>
<circle cx="1381.6" cy="359.9" r="1.8" fill="#f8e71c"/>
<circle cx="1414.5" cy="354.6" r="1.6" fill="#f8e71c"/>
<circle cx="1410.1" cy="317.9" r="1.7" fill="#f8e71c"/>
<circle cx="1403.0" cy="327.5" r="3.0" fill="#f8e71c"/>
<circle cx="1392.1" cy="333.0" r="2.9" fill="#f8e71c"/>
<circle cx="1348.8" cy="359.1" r="1.6" fill="#f8e71c"/>
<circle cx="1360.5" cy="373.9" r="2.7" fill="#f8e71c"/>
<circle cx="1367.4" cy="319.5" r="3.2" fill="#f8e71c"/>
<circle cx="1409.8" cy="365.3" r="1.7" fill="#f8e71c"/>
<circle cx="1406.0" cy="335.0" r="1.9" fill="#f8e71c"/>
<circle cx="1378.0" cy="351.9" r="2.1" fill="#f8e71c"/>
<circle cx="1383.0" cy="320.9" r="2.9" fill="#f8e71c"/>
<circle cx="1408.2" cy="364.3" r="2.2" fill="#f8e71c"/>
<circle cx="1427.8" cy="345.6" r="2.5" fill="#f8e71c"/>
<circle cx="1401.0" cy="360.1" r="2.2" fill="#f8e71c"/>
<circle cx="1355.3" cy="314.2" r="1.8" fill="#f8e71c"/>
<circle cx="1349.8" cy="369.8" r="2.3" fill="#f8e71c"/>
<circle cx="1419.0" cy="312.0" r="2.3" fill="#f8e71c"/>
<circle cx="1431.4" cy="352.3" r="2.2" fill="#f8e71c"/>
<circle cx="1390.7" cy="318.5" r="1.8" fill="#f8e71c"/>
<circle cx="1361.3" cy="336.4" r="2.2" fill="#f8e71c"/>
<circle cx="1430.5" cy="321.9" r="1.9" fill="#f8e71c"/>
<circle cx="1372.6" cy="322.5" r="2.0" fill="#f8e71c"/>
<circle cx="1368.6" cy="343.3" r="1.6" fill="#f8e71c"/>
<circle cx="1434.8" cy="336.0" r="3.1" fill="#f8e71c"/>
<circle cx="1412.0" cy="355.8" r="2.3" fill="#f8e71c"/>
<circle cx="1436.8" cy="319.7" r="2.6" fill="#f8e71c"/>
<circle cx="1373.9" cy="355.8" r="2.7" fill="#f8e71c"/>
<circle cx="1361.7" cy="325.1" r="1.5" fill="#f8e71c"/>
<circle cx="1368.1" cy="317.1" r="2.2" fill="#f8e71c"/>
<circle cx="1439.5" cy="335.7" r="2.0" fill="#f8e71c"/>
<circle cx="1390.9" cy="330.4" r="2.7" fill="#f8e71c"/>
<circle cx="1414.9" cy="322.6" r="1.9" fill="#f8e71c"/>
<circle cx="1410.5" cy="373.1" r="2.6" fill="#f8e71c"/>
<circle cx="1387.3" cy="375.4" r="1.5" fill="#f8e71c"/>
<circle cx="1351.8" cy="362.7" r="2.2" fill="#f8e71c"/>
<circle cx="1350.3" cy="347.6" r="3.2" fill="#f8e71c"/>
<circle cx="1395.8" cy="334.8" r="1.7" fill="#f8e71c"/>
<circle cx="1352.8" cy="370.4" r="2.3" fill="#f8e71c"/>
<circle cx="1435.8" cy="315.5" r="1.9" fill="#f8e71c"/>
<circle cx="1350.8" cy="337.8" r="1.6" fill="#f8e71c"/>
<circle cx="1370.5" cy="338.5" r="2.0" fill="#f8e71c"/>
<circle cx="1439.3" cy="323.7" r="2.4" fill="#f8e71c"/>
<circle cx="1384.6" cy="346.5" r="1.6" fill="#f8e71c"/>
<circle cx="1376.1" cy="319.0" r="2.4" fill="#f8e71c"/>
<circle cx="1434.4" cy="350.9" r="3.0" fill="#f8e71c"/>
<circle cx="1366.6" cy="313.1" r="2.4" fill="#f8e71c"/>
<circle cx="1392.7" cy="349.1" r="2.1" fill="#f8e71c"/>
<circle cx="1406.0" cy="359.2" r="3.1" fill="#f8e71c"/>
<circle cx="1375.5" cy="341.2" r="2.9" fill="#f8e71c"/>
<circle cx="1367.5" cy="319.5" r="2.0" fill="#f8e71c"/>
<circle cx="1354.4" cy="362.2" r="2.9" fill="#f8e71c"/>
<circle cx="1376.0" cy="320.4" r="1.6" fill="#f8e71c"/>
<circle cx="1369.5" cy="317.5" r="2.2" fill="#f8e71c"/>
<circle cx="1401.4" cy="328.0" r="1.6" fill="#f8e71c"/>
<circle cx="1413.3" cy="315.1" r="1.8" fill="#f8e71c"/>
<circle cx="1373.5" cy="336.3" r="1.7" fill="#f8e71c"/>
<circle cx="1386.4" cy="332.4" r="2.8" fill="#f8e71c"/>
<circle cx="1399.4" cy="370.2" r="2.6" fill="#f8e71c"/>
<circle cx="1418.9" cy="349.4" r="2.3" fill="#f8e71c"/>
<circle cx="1424.4" cy="354.6" r="3.1" fill="#f8e71c"/>
<circle cx="1415.9" cy="357.6" r="2.0" fill="#f8e71c"/>
<circle cx="1424.0" cy="336.9" r="1.7" fill="#f8e71c"/>
<circle cx="1352.3" cy="323.0" r="1.9" fill="#f8e71c"/>
<circle cx="1410.9" cy="330.6" r="1.6" fill="#f8e71c"/>
<circle cx="1419.3" cy="348.2" r="1.5" fill="#f8e71c"/>
<circle cx="1350.9" cy="320.5" r="2.1" fill="#f8e71c"/>
<circle cx="1428.5" cy="373.7" r="2.5" fill="#f8e71c"/>
<circle cx="1368.2" cy="339.9" r="2.1" fill="#f8e71c"/>
<circle cx="1377.7" cy="312.8" r="2.5" fill="#f8e71c"/>
<circle cx="1425.4" cy="359.2" r="1.7" fill="#f8e71c"/>
<circle cx="1396.9" cy="323.1" r="2.7" fill="#f8e71c"/>
<circle cx="1388.8" cy="373.0" r="2.9" fill="#f8e71c"/>
<circle cx="1357.3" cy="332.6" r="3.1" fill="#f8e71c"/>
<circle cx="1390.3" cy="340.2" r="2.3" fill="#f8e71c"/>
<circle cx="1419.7" cy="372.9" r="2.4" fill="#f8e71c"/>
<circle cx="1439.1" cy="350.7" r="1.7" fill="#f8e71c"/>
<circle cx="1424.2" cy="339.3" r="1.6" fill="#f8e71c"/>
<circle cx="1401.4" cy="343.3" r="3.0" fill="#f8e71c"/>
<circle cx="1383.7" cy="326.0" r="2.0" fill="#f8e71c"/>
<circle cx="1365.3" cy="348.6" r="2.1" fill="#f8e71c"/>
<circle cx="1418.1" cy="327.7" r="2.1" fill="#f8e71c"/>
<circle cx="1369.8" cy="375.9" r="2.9" fill="#f8e71c"/>
<circle cx="1427.6" cy="352.2" r="2.2" fill="#f8e71c"/>
<circle cx="1359.7" cy="366.1" r="2.3" fill="#f8e71c"/>
<circle cx="1349.6" cy="323.0" r="1.7" fill="#f8e71c"/>
<circle cx="1414.9" cy="370.5" r="1.8" fill="#f8e71c"/>
<circle cx="1422.5" cy="333.1" r="2.7" fill="#f8e71c"/>
<circle cx="1428.9" cy="352.5" r="2.9" fill="#f8e71c"/>
<circle cx="1382.1" cy="312.7" r="2.4" fill="#f8e71c"/>
<circle cx="1402.3" cy="324.0" r="2.2" fill="#f8e71c"/>
<circle cx="1376.5" cy="313.8" r="2.0" fill="#f8e71c"/>
<circle cx="1382.8" cy="342.9" r="2.7" fill="#f8e71c"/>
<circle cx="1384.3" cy="375.9" r="2.9" fill="#f8e71c"/>
<circle cx="1434.7" cy="357.0" r="2.6" fill="#f8e71c"/>
<circle cx="1397.5" cy="363.9" r="2.1" fill="#f8e71c"/>
<circle cx="1403.0" cy="356.2" r="2.4" fill="#f8e71c"/>
<circle cx="1373.3" cy="317.1" r="1.6" fill="#f8e71c"/>
<circle cx="1380.2" cy="349.7" r="2.8" fill="#f8e71c"/>
<circle cx="1414.6" cy="331.9" r="3.1" fill="#f8e71c"/>
<circle cx="1372.4" cy="358.5" r="1.6" fill="#f8e71c"/>
<circle cx="1418.3" cy="355.5" r="3.1" fill="#f8e71c"/>
<circle cx="1432.1" cy="356.7" r="2.9" fill="#f8e71c"/>
<circle cx="1416.9" cy="351.7" r="1.9" fill="#f8e71c"/>
<circle cx="1395.6" cy="370.2" r="1.9" fill="#f8e71c"/>
<circle cx="1439.6" cy="347.4" r="2.2" fill="#f8e71c"/>
<text x="1390" y="352.8" font-size="13.5" fill="#fdf0d4" text-anchor="middle">LiF</text>
<g fill="none" stroke="#0a0a0a" stroke-width="2.6" stroke-linecap="butt" stroke-linejoin="round">
<path d="M810.9,152.0 C811.0,153.3 811.1,156.7 811.2,160.0 C811.4,163.3 811.4,169.1 811.8,172.0 C812.2,174.9 812.3,176.2 813.5,177.5 C814.7,178.8 816.6,179.7 819.0,180.0 C821.4,180.3 824.8,179.7 828.0,179.6 C831.2,179.5 834.3,179.4 838.0,179.4 C841.7,179.4 846.5,179.6 850.0,179.8 C853.5,180.0 855.7,180.1 859.0,180.6 C862.3,181.1 866.5,182.0 870.0,183.0 C873.5,184.0 876.7,185.1 880.0,186.8 C883.3,188.5 886.7,190.7 890.0,193.0 C893.3,195.3 896.7,198.3 900.0,200.6 C903.3,202.9 906.9,205.0 910.0,207.0 C913.1,209.0 915.8,210.7 918.5,212.4 C921.2,214.1 923.8,215.6 926.0,217.0 C928.2,218.4 930.0,219.4 932.0,221.0 C934.0,222.6 936.2,224.5 938.0,226.5 C939.8,228.5 941.4,230.8 942.6,233.0 C943.8,235.2 944.4,237.6 945.0,240.0 C945.6,242.4 945.7,243.4 946.0,247.6 C946.3,251.8 946.7,259.6 947.0,265.0 C947.3,270.4 947.4,275.8 947.6,280.0 C947.9,284.2 948.1,285.1 948.5,290.0 C948.9,294.9 949.0,301.3 950.0,309.4 C951.0,317.5 952.7,327.0 954.4,338.8 C956.1,350.6 958.9,370.9 960.3,380.0 C961.7,389.1 961.9,389.9 962.6,393.2 C963.3,396.5 963.6,397.9 964.5,400.0 C965.4,402.1 966.5,404.1 968.0,405.5 C969.5,406.9 971.5,408.1 973.5,408.3 C975.5,408.6 977.5,407.6 980.0,407.0 C982.5,406.4 984.9,406.0 988.2,405.0 C991.5,404.0 996.6,402.1 1000.0,401.0 C1003.4,399.9 1004.6,399.2 1008.8,398.5 C1013.0,397.8 1018.6,397.2 1025.0,397.0 C1031.4,396.8 1039.5,397.0 1047.0,397.3 C1054.5,397.6 1062.8,398.3 1070.0,399.0 C1077.2,399.7 1085.0,401.0 1090.0,401.5 C1095.0,402.0 1094.2,401.8 1100.0,402.0 C1105.8,402.2 1118.3,402.8 1125.0,403.0 C1131.7,403.2 1135.3,403.1 1140.0,403.5 C1144.7,403.9 1149.2,404.5 1153.4,405.5 C1157.6,406.5 1161.5,408.2 1165.0,409.5 C1168.5,410.8 1170.3,411.2 1174.5,413.0 C1178.7,414.8 1185.1,418.0 1190.0,420.5 C1194.9,423.0 1197.4,424.7 1204.0,428.0 C1210.6,431.3 1220.2,435.6 1229.4,440.5 C1238.6,445.4 1251.2,452.9 1259.0,457.4 C1266.8,461.9 1271.1,464.8 1276.0,467.5 C1280.9,470.2 1284.6,472.2 1288.6,473.6 C1292.6,475.0 1298.1,475.6 1300.0,476.0"/>
<path d="M1300.0,476.0 C1300.6,471.5 1302.2,460.0 1303.4,449.0 C1304.6,438.0 1305.8,420.7 1307.0,410.0 C1308.2,399.3 1309.1,393.8 1310.5,385.0 C1311.9,376.2 1313.1,367.6 1315.3,357.4 C1317.5,347.2 1320.6,333.5 1323.8,323.6 C1327.0,313.8 1330.5,305.3 1334.4,298.3 C1338.3,291.3 1342.4,286.0 1347.0,281.4 C1351.6,276.8 1354.8,274.7 1361.8,270.8 C1368.8,266.9 1378.0,262.6 1389.3,258.0 C1400.6,253.4 1417.8,247.4 1429.4,243.4 C1441.0,239.4 1450.6,237.2 1459.0,234.0 C1467.4,230.8 1473.1,228.5 1480.0,224.4 C1486.9,220.3 1494.0,214.8 1500.6,209.4 C1507.2,204.1 1513.6,196.8 1519.6,192.3 C1525.6,187.8 1527.7,185.8 1536.5,182.6 C1545.3,179.4 1560.4,176.1 1572.4,173.3 C1584.4,170.5 1598.8,168.4 1608.3,165.7 C1617.8,163.0 1623.3,160.0 1629.5,157.2 C1635.7,154.4 1639.2,152.8 1645.5,148.8 C1651.8,144.8 1661.0,137.7 1667.5,133.0 C1674.0,128.3 1680.0,123.8 1684.4,120.5 C1688.8,117.2 1689.8,116.5 1694.0,113.3 C1698.2,110.1 1704.5,106.0 1709.8,101.4 C1715.1,96.8 1720.9,91.1 1725.8,85.8 C1730.7,80.5 1735.4,75.5 1739.4,69.7 C1743.4,63.9 1746.5,57.4 1750.0,50.7 C1753.5,44.0 1757.0,36.5 1760.5,29.6 C1764.0,22.7 1769.2,12.7 1771.0,9.3"/>
<path d="M962.6,393.2 C962.8,391.0 963.7,388.9 964.0,380.0 C964.3,371.1 964.4,357.9 964.5,340.0 C964.6,322.1 964.3,290.9 964.5,272.8 C964.7,254.7 965.1,241.9 965.6,231.6 C966.1,221.3 966.7,215.8 967.6,211.0 C968.5,206.2 969.3,205.6 971.0,203.0 C972.7,200.4 974.5,199.6 978.0,195.6 C981.5,191.6 988.0,185.0 992.3,179.0 C996.6,173.0 999.2,166.2 1003.7,159.5 C1008.2,152.8 1013.7,146.5 1019.0,139.0 C1024.3,131.5 1031.3,120.6 1035.6,114.3 C1039.9,108.0 1041.8,105.5 1045.0,101.0 C1048.2,96.5 1052.0,93.2 1055.0,87.5 C1058.0,81.8 1060.8,74.0 1062.8,66.9 C1064.8,59.8 1065.8,52.0 1067.0,45.0 C1068.2,38.0 1069.2,30.9 1070.0,25.0 C1070.8,19.1 1071.3,11.9 1071.6,9.3" stroke-width="2.8" stroke-dasharray="6.5 4.5"/>
</g>
<g fill="none" stroke="#9a9a9a" stroke-width="2.6">
<path d="M828.0,179.6 L828.8,179.6 L829.6,179.5 L830.4,179.5 L831.2,179.5 L832.0,179.5 L832.8,179.5 L833.6,179.4 L834.5,179.4 L835.3,179.4 L836.2,179.4 L837.1,179.4 L838.0,179.4 L838.9,179.4 L839.9,179.4 L840.9,179.4 L842.0,179.5 L843.0,179.5 L844.1,179.5 L845.1,179.6 L846.1,179.6 L847.2,179.7 L848.2,179.7 L849.1,179.8 L850.0,179.8"/>
<path d="M910.0,207.0 L910.8,207.5 L911.5,208.0 L912.3,208.4 L913.0,208.9 L913.7,209.4 L914.4,209.8 L915.1,210.3 L915.8,210.7 L916.5,211.1 L917.2,211.6 L917.8,212.0 L918.5,212.4 L919.2,212.8 L919.8,213.2 L920.5,213.6 L921.1,214.0 L921.8,214.4 L922.4,214.8 L923.0,215.2 L923.6,215.5 L924.3,215.9 L924.8,216.3 L925.4,216.6 L926.0,217.0"/>
<path d="M1008.8,398.5 L1009.9,398.3 L1011.0,398.2 L1012.2,398.0 L1013.4,397.9 L1014.7,397.7 L1016.1,397.6 L1017.5,397.4 L1018.9,397.3 L1020.4,397.2 L1021.9,397.1 L1023.4,397.1 L1025.0,397.0 L1026.6,397.0 L1028.3,396.9 L1030.1,396.9 L1031.9,396.9 L1033.7,396.9 L1035.6,397.0 L1037.5,397.0 L1039.4,397.0 L1041.3,397.1 L1043.2,397.1 L1045.1,397.2 L1047.0,397.3 L1048.9,397.4 L1050.8,397.5 L1052.8,397.6 L1054.7,397.7 L1056.7,397.9 L1058.6,398.0 L1060.6,398.2 L1062.5,398.3 L1064.4,398.5 L1066.3,398.7 L1068.2,398.8 L1070.0,399.0 L1071.8,399.2 L1073.6,399.4 L1075.4,399.6 L1077.3,399.8 L1079.1,400.1 L1080.8,400.3 L1082.5,400.6 L1084.2,400.8 L1085.8,401.0 L1087.3,401.2 L1088.7,401.4 L1090.0,401.5"/>
<path d="M1204.0,428.0 L1205.7,428.9 L1207.5,429.7 L1209.5,430.7 L1211.5,431.6 L1213.6,432.6 L1215.7,433.7 L1217.9,434.7 L1220.2,435.8 L1222.5,436.9 L1224.8,438.1 L1227.1,439.3 L1229.4,440.5 L1231.8,441.8 L1234.2,443.1 L1236.8,444.6 L1239.4,446.1 L1242.1,447.6 L1244.7,449.1 L1247.3,450.6 L1249.9,452.1 L1252.4,453.6 L1254.7,454.9 L1257.0,456.2 L1259.0,457.4"/>
<path d="M1361.8,270.8 L1363.6,269.8 L1365.5,268.8 L1367.5,267.8 L1369.6,266.8 L1371.7,265.7 L1374.0,264.6 L1376.3,263.6 L1378.7,262.5 L1381.2,261.4 L1383.8,260.3 L1386.5,259.1 L1389.3,258.0 L1392.2,256.8 L1395.4,255.6 L1398.7,254.4 L1402.1,253.1 L1405.6,251.8 L1409.2,250.5 L1412.8,249.2 L1416.3,247.9 L1419.8,246.7 L1423.2,245.6 L1426.4,244.4 L1429.4,243.4"/>
<path d="M1536.5,182.6 L1538.8,181.8 L1541.4,181.0 L1544.1,180.2 L1547.1,179.4 L1550.1,178.6 L1553.3,177.8 L1556.5,177.0 L1559.7,176.3 L1563.0,175.5 L1566.2,174.7 L1569.3,174.0 L1572.4,173.3 L1575.4,172.6 L1578.6,171.9 L1581.7,171.3 L1584.9,170.7 L1588.1,170.1 L1591.3,169.5 L1594.4,168.8 L1597.4,168.2 L1600.4,167.6 L1603.2,167.0 L1605.8,166.4 L1608.3,165.7"/>
<path d="M1684.4,120.5 L1685.4,119.7 L1686.4,119.0 L1687.2,118.4 L1687.9,117.9 L1688.6,117.4 L1689.3,116.9 L1689.9,116.4 L1690.6,115.9 L1691.3,115.3 L1692.1,114.7 L1693.0,114.0 L1694.0,113.3 L1695.1,112.5 L1696.3,111.6 L1697.5,110.7 L1698.8,109.8 L1700.1,108.9 L1701.5,107.9 L1702.9,106.9 L1704.3,105.8 L1705.7,104.7"/>
<path d="M1744.0,62.1 L1744.9,60.5 L1745.7,58.9 L1746.6,57.3 L1747.4,55.7 L1748.3,54.0 L1749.1,52.4 L1750.0,50.7 L1750.9,49.0 L1751.8,47.3 L1752.6,45.6 L1753.5,43.8 L1754.4,42.0 L1755.3,40.2 L1756.1,38.4"/>
</g>
<g fill="none" stroke="#fff" stroke-width="3.2">
<path d="M1058.5,80 L1064,62"/>
<path d="M984,190 L996,174"/>
</g>
<g fill="none" stroke="#9a9a9a" stroke-width="2.6">
<path d="M1058.5,80 L1064,62"/>
<path d="M984,190 L996,174"/>
</g>
<text transform="translate(838,183.9) rotate(0)" text-anchor="middle" font-size="13" font-weight="bold" fill="#111" stroke="#111" stroke-width="0.15">I</text>
<text transform="translate(918.3,217.3) rotate(12)" text-anchor="middle" font-size="13" font-weight="bold" fill="#111" stroke="#111" stroke-width="0.15">II</text>
<text transform="translate(1047,401.8) rotate(1)" text-anchor="middle" font-size="13" font-weight="bold" fill="#111" stroke="#111" stroke-width="0.15">III + V</text>
<text transform="translate(1228,445) rotate(30)" text-anchor="middle" font-size="13" font-weight="bold" fill="#111" stroke="#111" stroke-width="0.15">IV + V</text>
<text transform="translate(993.5,182) rotate(14)" text-anchor="middle" font-size="13" font-weight="bold" fill="#111" stroke="#111" stroke-width="0.15">II′</text>
<text transform="translate(1065.5,72) rotate(12)" text-anchor="middle" font-size="13" font-weight="bold" fill="#111" stroke="#111" stroke-width="0.15">I′</text>
<text transform="translate(1388,263) rotate(-22)" text-anchor="middle" font-size="13" font-weight="bold" fill="#111" stroke="#111" stroke-width="0.15">IV′ + V′</text>
<text transform="translate(1573,178) rotate(-13)" text-anchor="middle" font-size="13" font-weight="bold" fill="#111" stroke="#111" stroke-width="0.15">III′ + V′</text>
<text transform="translate(1696,117.3) rotate(8)" text-anchor="middle" font-size="13" font-weight="bold" fill="#111" stroke="#111" stroke-width="0.15">II′</text>
<text transform="translate(1751.5,55.5) rotate(10)" text-anchor="middle" font-size="13" font-weight="bold" fill="#111" stroke="#111" stroke-width="0.15">I′</text>
<circle cx="810.9" cy="152" r="4.8" fill="#fff" stroke="#0a0a0a" stroke-width="2.3"/>
<circle cx="880" cy="186.8" r="4.8" fill="#fff" stroke="#0a0a0a" stroke-width="2.3"/>
<circle cx="962.6" cy="393.2" r="4.8" fill="#fff" stroke="#0a0a0a" stroke-width="2.3"/>
<circle cx="1153.4" cy="405.5" r="4.8" fill="#fff" stroke="#0a0a0a" stroke-width="2.3"/>
<circle cx="1300" cy="476" r="4.8" fill="#fff" stroke="#0a0a0a" stroke-width="2.3"/>
<circle cx="1035.6" cy="114.3" r="4.8" fill="#fff" stroke="#0a0a0a" stroke-width="2.3"/>
<circle cx="1071.6" cy="9.3" r="4.8" fill="#fff" stroke="#0a0a0a" stroke-width="2.3"/>
<circle cx="1500.6" cy="209.4" r="4.8" fill="#fff" stroke="#0a0a0a" stroke-width="2.3"/>
<circle cx="1645.5" cy="148.8" r="4.8" fill="#fff" stroke="#0a0a0a" stroke-width="2.3"/>
<circle cx="1725.8" cy="85.8" r="4.8" fill="#fff" stroke="#0a0a0a" stroke-width="2.3"/>
<circle cx="1771" cy="9.3" r="4.8" fill="#fff" stroke="#0a0a0a" stroke-width="2.3"/>
<path d="M-9.5,-2.9 L1.7,-2.9 L1.7,-6.3 L9.5,0.0 L1.7,6.3 L1.7,2.9 L-9.5,2.9Z" transform="translate(825.5,142.5) rotate(150)" fill="#fff" stroke="#111" stroke-width="1.2" stroke-linejoin="miter"/>
<path d="M-9.5,-2.9 L1.7,-2.9 L1.7,-6.3 L9.5,0.0 L1.7,6.3 L1.7,2.9 L-9.5,2.9Z" transform="translate(879.4,215.3) rotate(-90)" fill="#fff" stroke="#111" stroke-width="1.2" stroke-linejoin="miter"/>
<path d="M-9.5,-2.9 L1.7,-2.9 L1.7,-6.3 L9.5,0.0 L1.7,6.3 L1.7,2.9 L-9.5,2.9Z" transform="translate(985.3,368.2) rotate(135)" fill="#fff" stroke="#111" stroke-width="1.2" stroke-linejoin="miter"/>
<path d="M-9.5,-2.9 L1.7,-2.9 L1.7,-6.3 L9.5,0.0 L1.7,6.3 L1.7,2.9 L-9.5,2.9Z" transform="translate(1037,142) rotate(-90)" fill="#fff" stroke="#111" stroke-width="1.2" stroke-linejoin="miter"/>
<path d="M-9.5,-2.9 L1.7,-2.9 L1.7,-6.3 L9.5,0.0 L1.7,6.3 L1.7,2.9 L-9.5,2.9Z" transform="translate(1051.5,23.2) rotate(-35)" fill="#fff" stroke="#111" stroke-width="1.2" stroke-linejoin="miter"/>
<path d="M-9.5,-2.9 L1.7,-2.9 L1.7,-6.3 L9.5,0.0 L1.7,6.3 L1.7,2.9 L-9.5,2.9Z" transform="translate(1176.6,383.5) rotate(135)" fill="#fff" stroke="#111" stroke-width="1.2" stroke-linejoin="miter"/>
<path d="M-9.5,-2.9 L1.7,-2.9 L1.7,-6.3 L9.5,0.0 L1.7,6.3 L1.7,2.9 L-9.5,2.9Z" transform="translate(1323.5,406) rotate(120)" fill="#fff" stroke="#111" stroke-width="1.2" stroke-linejoin="miter"/>
<path d="M-9.5,-2.9 L1.7,-2.9 L1.7,-6.3 L9.5,0.0 L1.7,6.3 L1.7,2.9 L-9.5,2.9Z" transform="translate(1507.5,238) rotate(-90)" fill="#fff" stroke="#111" stroke-width="1.2" stroke-linejoin="miter"/>
<path d="M-9.5,-2.9 L1.7,-2.9 L1.7,-6.3 L9.5,0.0 L1.7,6.3 L1.7,2.9 L-9.5,2.9Z" transform="translate(1643,177.5) rotate(-90)" fill="#fff" stroke="#111" stroke-width="1.2" stroke-linejoin="miter"/>
<path d="M-9.5,-2.9 L1.7,-2.9 L1.7,-6.3 L9.5,0.0 L1.7,6.3 L1.7,2.9 L-9.5,2.9Z" transform="translate(1729.8,109) rotate(-98)" fill="#fff" stroke="#111" stroke-width="1.2" stroke-linejoin="miter"/>
<path d="M-9.5,-2.9 L1.7,-2.9 L1.7,-6.3 L9.5,0.0 L1.7,6.3 L1.7,2.9 L-9.5,2.9Z" transform="translate(1740.2,22) rotate(-30)" fill="#fff" stroke="#111" stroke-width="1.2" stroke-linejoin="miter"/>
</svg></body></html>
